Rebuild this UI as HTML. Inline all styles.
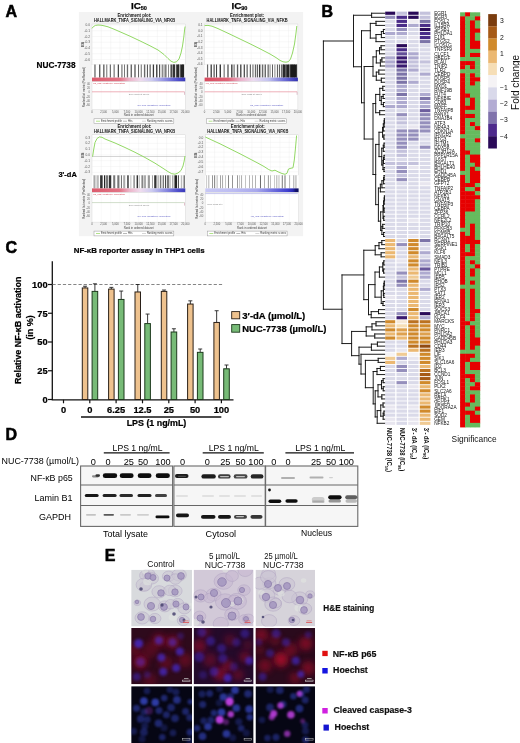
<!DOCTYPE html>
<html><head><meta charset="utf-8"><title>NF-kB figure</title>
<style>
html,body{margin:0;padding:0;background:#fff;width:520px;height:743px;overflow:hidden}
svg{display:block;font-family:'Liberation Sans', Arial, sans-serif}
</style></head><body>
<svg width="520" height="743" viewBox="0 0 520 743">
<defs>
<filter id="bl1" x="-20%" y="-50%" width="140%" height="200%"><feGaussianBlur stdDeviation="0.6"/></filter>
<filter id="bl2" x="-50%" y="-50%" width="200%" height="200%"><feGaussianBlur stdDeviation="1.6"/></filter>
<filter id="bl3" x="-50%" y="-50%" width="200%" height="200%"><feGaussianBlur stdDeviation="3"/></filter>
<filter id="bl15" x="-50%" y="-50%" width="200%" height="200%"><feGaussianBlur stdDeviation="1.1"/></filter>
<filter id="bl05" x="-20%" y="-20%" width="140%" height="140%"><feGaussianBlur stdDeviation="0.4"/></filter>
</defs>
<rect width="520" height="743" fill="#fff"/>
<text x="5.60" y="17.00" font-size="16" text-anchor="start" font-weight="bold" stroke="#000" stroke-width="0.55">A</text>
<text x="321.40" y="17.30" font-size="16" text-anchor="start" font-weight="bold" stroke="#000" stroke-width="0.55">B</text>
<text x="5.60" y="253.30" font-size="16" text-anchor="start" font-weight="bold" stroke="#000" stroke-width="0.55">C</text>
<text x="5.60" y="440.30" font-size="16" text-anchor="start" font-weight="bold" stroke="#000" stroke-width="0.55">D</text>
<text x="104.80" y="561.30" font-size="16" text-anchor="start" font-weight="bold" stroke="#000" stroke-width="0.55">E</text>
<g id="panelC">
<text x="139.20" y="253.40" font-size="8.1" text-anchor="middle" font-weight="bold" textLength="131" lengthAdjust="spacingAndGlyphs" stroke="#000" stroke-width="0.22">NF-κB reporter assay in THP1 cells</text>
<line x1="52.3" y1="261.2" x2="52.3" y2="400" stroke="#111" stroke-width="1.3"/>
<line x1="48" y1="399.50" x2="52.3" y2="399.50" stroke="#111" stroke-width="1.2"/>
<text x="47.60" y="402.80" font-size="9.3" text-anchor="end" font-weight="bold" stroke="#000" stroke-width="0.22">0</text>
<line x1="48" y1="370.75" x2="52.3" y2="370.75" stroke="#111" stroke-width="1.2"/>
<text x="47.60" y="374.05" font-size="9.3" text-anchor="end" font-weight="bold" stroke="#000" stroke-width="0.22">25</text>
<line x1="48" y1="342.00" x2="52.3" y2="342.00" stroke="#111" stroke-width="1.2"/>
<text x="47.60" y="345.30" font-size="9.3" text-anchor="end" font-weight="bold" stroke="#000" stroke-width="0.22">50</text>
<line x1="48" y1="313.25" x2="52.3" y2="313.25" stroke="#111" stroke-width="1.2"/>
<text x="47.60" y="316.55" font-size="9.3" text-anchor="end" font-weight="bold" stroke="#000" stroke-width="0.22">75</text>
<line x1="48" y1="284.50" x2="52.3" y2="284.50" stroke="#111" stroke-width="1.2"/>
<text x="47.60" y="287.80" font-size="9.3" text-anchor="end" font-weight="bold" stroke="#000" stroke-width="0.22">100</text>
<g transform="translate(21.3,330.3) rotate(-90)">
<text x="0.00" y="0.00" font-size="9" text-anchor="middle" font-weight="bold" textLength="107.5" lengthAdjust="spacingAndGlyphs" stroke="#000" stroke-width="0.22">Relative NF-κB activation</text>
</g>
<g transform="translate(33.2,327.6) rotate(-90)">
<text x="0.00" y="0.00" font-size="9" text-anchor="middle" font-weight="bold" stroke="#000" stroke-width="0.22">(in %)</text>
</g>
<line x1="51.7" y1="399.8" x2="233.5" y2="399.8" stroke="#111" stroke-width="1.3"/>
<line x1="63.5" y1="399.8" x2="63.5" y2="403.3" stroke="#111" stroke-width="1.2"/>
<text x="63.50" y="412.60" font-size="9.3" text-anchor="middle" font-weight="bold" stroke="#000" stroke-width="0.22">0</text>
<line x1="89.8" y1="399.8" x2="89.8" y2="403.3" stroke="#111" stroke-width="1.2"/>
<text x="89.80" y="412.60" font-size="9.3" text-anchor="middle" font-weight="bold" stroke="#000" stroke-width="0.22">0</text>
<line x1="116.1" y1="399.8" x2="116.1" y2="403.3" stroke="#111" stroke-width="1.2"/>
<text x="116.10" y="412.60" font-size="9.3" text-anchor="middle" font-weight="bold" stroke="#000" stroke-width="0.22">6.25</text>
<line x1="142.5" y1="399.8" x2="142.5" y2="403.3" stroke="#111" stroke-width="1.2"/>
<text x="142.50" y="412.60" font-size="9.3" text-anchor="middle" font-weight="bold" stroke="#000" stroke-width="0.22">12.5</text>
<line x1="168.8" y1="399.8" x2="168.8" y2="403.3" stroke="#111" stroke-width="1.2"/>
<text x="168.80" y="412.60" font-size="9.3" text-anchor="middle" font-weight="bold" stroke="#000" stroke-width="0.22">25</text>
<line x1="195.1" y1="399.8" x2="195.1" y2="403.3" stroke="#111" stroke-width="1.2"/>
<text x="195.10" y="412.60" font-size="9.3" text-anchor="middle" font-weight="bold" stroke="#000" stroke-width="0.22">50</text>
<line x1="221.4" y1="399.8" x2="221.4" y2="403.3" stroke="#111" stroke-width="1.2"/>
<text x="221.40" y="412.60" font-size="9.3" text-anchor="middle" font-weight="bold" stroke="#000" stroke-width="0.22">100</text>
<line x1="81" y1="417.0" x2="221.3" y2="417.0" stroke="#111" stroke-width="1.4"/>
<text x="156.50" y="426.30" font-size="8.9" text-anchor="middle" font-weight="bold" stroke="#000" stroke-width="0.22">LPS (1 ng/mL)</text>
<line x1="52.5" y1="284.5" x2="222.5" y2="284.5" stroke="#777" stroke-width="0.9" stroke-dasharray="3.2,2"/>
<line x1="85.05" y1="287.95" x2="85.05" y2="286.23" stroke="#222" stroke-width="0.9"/>
<line x1="83.05" y1="286.23" x2="87.05" y2="286.23" stroke="#222" stroke-width="0.9"/>
<line x1="94.90" y1="291.40" x2="94.90" y2="283.81" stroke="#222" stroke-width="0.9"/>
<line x1="92.90" y1="283.81" x2="96.90" y2="283.81" stroke="#222" stroke-width="0.9"/>
<rect x="82.30" y="287.95" width="5.5" height="111.55" fill="#eec28e" stroke="#2a2018" stroke-width="1"/>
<rect x="92.10" y="291.40" width="5.6" height="108.10" fill="#77bb77" stroke="#1d3a1d" stroke-width="1"/>
<line x1="111.35" y1="289.10" x2="111.35" y2="287.38" stroke="#222" stroke-width="0.9"/>
<line x1="109.35" y1="287.38" x2="113.35" y2="287.38" stroke="#222" stroke-width="0.9"/>
<line x1="121.20" y1="299.45" x2="121.20" y2="291.06" stroke="#222" stroke-width="0.9"/>
<line x1="119.20" y1="291.06" x2="123.20" y2="291.06" stroke="#222" stroke-width="0.9"/>
<rect x="108.60" y="289.10" width="5.5" height="110.40" fill="#eec28e" stroke="#2a2018" stroke-width="1"/>
<rect x="118.40" y="299.45" width="5.6" height="100.05" fill="#77bb77" stroke="#1d3a1d" stroke-width="1"/>
<line x1="137.75" y1="291.98" x2="137.75" y2="284.50" stroke="#222" stroke-width="0.9"/>
<line x1="135.75" y1="284.50" x2="139.75" y2="284.50" stroke="#222" stroke-width="0.9"/>
<line x1="147.60" y1="323.60" x2="147.60" y2="314.06" stroke="#222" stroke-width="0.9"/>
<line x1="145.60" y1="314.06" x2="149.60" y2="314.06" stroke="#222" stroke-width="0.9"/>
<rect x="135.00" y="291.98" width="5.5" height="107.52" fill="#eec28e" stroke="#2a2018" stroke-width="1"/>
<rect x="144.80" y="323.60" width="5.6" height="75.90" fill="#77bb77" stroke="#1d3a1d" stroke-width="1"/>
<line x1="164.05" y1="291.40" x2="164.05" y2="290.02" stroke="#222" stroke-width="0.9"/>
<line x1="162.05" y1="290.02" x2="166.05" y2="290.02" stroke="#222" stroke-width="0.9"/>
<line x1="173.90" y1="332.00" x2="173.90" y2="328.77" stroke="#222" stroke-width="0.9"/>
<line x1="171.90" y1="328.77" x2="175.90" y2="328.77" stroke="#222" stroke-width="0.9"/>
<rect x="161.30" y="291.40" width="5.5" height="108.10" fill="#eec28e" stroke="#2a2018" stroke-width="1"/>
<rect x="171.10" y="332.00" width="5.6" height="67.50" fill="#77bb77" stroke="#1d3a1d" stroke-width="1"/>
<line x1="190.35" y1="304.05" x2="190.35" y2="300.83" stroke="#222" stroke-width="0.9"/>
<line x1="188.35" y1="300.83" x2="192.35" y2="300.83" stroke="#222" stroke-width="0.9"/>
<line x1="200.20" y1="352.35" x2="200.20" y2="349.01" stroke="#222" stroke-width="0.9"/>
<line x1="198.20" y1="349.01" x2="202.20" y2="349.01" stroke="#222" stroke-width="0.9"/>
<rect x="187.60" y="304.05" width="5.5" height="95.45" fill="#eec28e" stroke="#2a2018" stroke-width="1"/>
<rect x="197.40" y="352.35" width="5.6" height="47.15" fill="#77bb77" stroke="#1d3a1d" stroke-width="1"/>
<line x1="216.65" y1="322.45" x2="216.65" y2="310.72" stroke="#222" stroke-width="0.9"/>
<line x1="214.65" y1="310.72" x2="218.65" y2="310.72" stroke="#222" stroke-width="0.9"/>
<line x1="226.50" y1="368.80" x2="226.50" y2="365.00" stroke="#222" stroke-width="0.9"/>
<line x1="224.50" y1="365.00" x2="228.50" y2="365.00" stroke="#222" stroke-width="0.9"/>
<rect x="213.90" y="322.45" width="5.5" height="77.05" fill="#eec28e" stroke="#2a2018" stroke-width="1"/>
<rect x="223.70" y="368.80" width="5.6" height="30.70" fill="#77bb77" stroke="#1d3a1d" stroke-width="1"/>
<rect x="231.7" y="311.6" width="8" height="7.2" fill="#eec28e" stroke="#2a2018" stroke-width="0.9"/>
<rect x="231.7" y="324.6" width="8" height="7.6" fill="#77bb77" stroke="#1d3a1d" stroke-width="0.9"/>
<text x="242.30" y="319.00" font-size="9.4" text-anchor="start" font-weight="bold" textLength="63" lengthAdjust="spacingAndGlyphs" stroke="#000" stroke-width="0.22">3′-dA (µmol/L)</text>
<text x="242.30" y="332.20" font-size="9.4" text-anchor="start" font-weight="bold" textLength="84" lengthAdjust="spacingAndGlyphs" stroke="#000" stroke-width="0.22">NUC-7738 (µmol/L)</text>
</g>
<g id="panelD">
<text x="1.60" y="463.60" font-size="8.8" text-anchor="start" textLength="77.3" lengthAdjust="spacingAndGlyphs" >NUC-7738 (µmol/L)</text>
<text x="51.60" y="481.00" font-size="8.8" text-anchor="middle" textLength="42.2" lengthAdjust="spacingAndGlyphs" >NF-κB p65</text>
<text x="53.60" y="500.60" font-size="8.8" text-anchor="middle" textLength="38" lengthAdjust="spacingAndGlyphs" >Lamin B1</text>
<text x="55.00" y="520.30" font-size="8.8" text-anchor="middle" textLength="32" lengthAdjust="spacingAndGlyphs" >GAPDH</text>
<rect x="80.6" y="466.0" width="92.00" height="60.40" fill="#f6f6f6" stroke="#6a6a6a" stroke-width="1.1"/>
<line x1="80.6" y1="485.0" x2="172.6" y2="485.0" stroke="#666" stroke-width="1.2"/>
<line x1="80.6" y1="505.5" x2="172.6" y2="505.5" stroke="#666" stroke-width="1.2"/>
<rect x="173.9" y="466.0" width="91.30" height="60.40" fill="#f6f6f6" stroke="#6a6a6a" stroke-width="1.1"/>
<line x1="173.9" y1="485.0" x2="265.2" y2="485.0" stroke="#666" stroke-width="1.2"/>
<line x1="173.9" y1="505.5" x2="265.2" y2="505.5" stroke="#666" stroke-width="1.2"/>
<rect x="265.6" y="466.0" width="92.20" height="60.40" fill="#f6f6f6" stroke="#6a6a6a" stroke-width="1.1"/>
<line x1="265.6" y1="485.0" x2="357.8" y2="485.0" stroke="#666" stroke-width="1.2"/>
<line x1="265.6" y1="505.5" x2="357.8" y2="505.5" stroke="#666" stroke-width="1.2"/>
<text x="93.30" y="464.70" font-size="9.2" text-anchor="middle" >0</text>
<text x="108.00" y="464.70" font-size="9.2" text-anchor="middle" >0</text>
<text x="128.80" y="464.70" font-size="9.2" text-anchor="middle" >25</text>
<text x="143.00" y="464.70" font-size="9.2" text-anchor="middle" >50</text>
<text x="163.00" y="464.70" font-size="9.2" text-anchor="middle" >100</text>
<text x="182.60" y="464.70" font-size="9.2" text-anchor="middle" >0</text>
<text x="207.30" y="464.70" font-size="9.2" text-anchor="middle" >0</text>
<text x="225.30" y="464.70" font-size="9.2" text-anchor="middle" >25</text>
<text x="240.50" y="464.70" font-size="9.2" text-anchor="middle" >50</text>
<text x="256.00" y="464.70" font-size="9.2" text-anchor="middle" >100</text>
<text x="273.75" y="464.70" font-size="9.2" text-anchor="middle" >0</text>
<text x="288.00" y="464.70" font-size="9.2" text-anchor="middle" >0</text>
<text x="316.00" y="464.70" font-size="9.2" text-anchor="middle" >25</text>
<text x="331.00" y="464.70" font-size="9.2" text-anchor="middle" >50</text>
<text x="346.30" y="464.70" font-size="9.2" text-anchor="middle" >100</text>
<text x="137.60" y="450.90" font-size="8.9" text-anchor="middle" textLength="50" lengthAdjust="spacingAndGlyphs" >LPS 1 ng/mL</text>
<line x1="103.8" y1="452.9" x2="169.6" y2="452.9" stroke="#111" stroke-width="1.1"/>
<text x="233.75" y="450.90" font-size="8.9" text-anchor="middle" textLength="50" lengthAdjust="spacingAndGlyphs" >LPS 1 ng/mL</text>
<line x1="202.7" y1="452.9" x2="263.8" y2="452.9" stroke="#111" stroke-width="1.1"/>
<text x="320.30" y="450.90" font-size="8.9" text-anchor="middle" textLength="50" lengthAdjust="spacingAndGlyphs" >LPS 1 ng/mL</text>
<line x1="285.4" y1="452.9" x2="354.0" y2="452.9" stroke="#111" stroke-width="1.1"/>
<text x="125.40" y="537.00" font-size="9" text-anchor="middle" textLength="45" lengthAdjust="spacingAndGlyphs" >Total lysate</text>
<text x="220.80" y="537.20" font-size="9.4" text-anchor="middle" textLength="30.5" lengthAdjust="spacingAndGlyphs" >Cytosol</text>
<text x="316.50" y="535.60" font-size="9" text-anchor="middle" textLength="31" lengthAdjust="spacingAndGlyphs" >Nucleus</text>
<rect x="92.00" y="475.20" width="7.00" height="2.20" rx="1.10" fill="#444" opacity="0.6" filter="url(#bl1)"/>
<rect x="95.50" y="474.25" width="4.50" height="2.50" rx="1.25" fill="#222" opacity="0.9" filter="url(#bl1)"/>
<rect x="102.80" y="473.30" width="14.40" height="4.80" rx="2.40" fill="#111" opacity="1.0" filter="url(#bl1)"/>
<rect x="119.70" y="473.30" width="13.90" height="4.80" rx="2.40" fill="#111" opacity="1.0" filter="url(#bl1)"/>
<rect x="137.70" y="473.30" width="13.80" height="4.80" rx="2.40" fill="#111" opacity="1.0" filter="url(#bl1)"/>
<rect x="155.70" y="473.30" width="14.20" height="4.80" rx="2.40" fill="#111" opacity="1.0" filter="url(#bl1)"/>
<rect x="84.80" y="493.90" width="13.80" height="3.00" rx="1.50" fill="#151515" opacity="1" filter="url(#bl1)"/>
<rect x="102.60" y="493.90" width="14.00" height="3.00" rx="1.50" fill="#151515" opacity="0.95" filter="url(#bl1)"/>
<rect x="119.50" y="493.90" width="13.50" height="3.00" rx="1.50" fill="#151515" opacity="0.9" filter="url(#bl1)"/>
<rect x="137.50" y="493.90" width="14.00" height="3.00" rx="1.50" fill="#151515" opacity="0.95" filter="url(#bl1)"/>
<rect x="155.00" y="493.90" width="12.00" height="3.00" rx="1.50" fill="#151515" opacity="0.8" filter="url(#bl1)"/>
<rect x="86.00" y="513.90" width="10.00" height="1.80" rx="0.90" fill="#666" opacity="0.35" filter="url(#bl1)"/>
<rect x="103.50" y="513.90" width="10.50" height="1.80" rx="0.90" fill="#333" opacity="0.8" filter="url(#bl1)"/>
<rect x="120.00" y="513.90" width="11.00" height="1.80" rx="0.90" fill="#777" opacity="0.35" filter="url(#bl1)"/>
<rect x="137.00" y="513.90" width="12.00" height="1.80" rx="0.90" fill="#777" opacity="0.3" filter="url(#bl1)"/>
<rect x="155.50" y="515.50" width="14.00" height="2.80" rx="1.40" fill="#0d0d0d" opacity="1.0" filter="url(#bl1)"/>
<rect x="175.00" y="474.00" width="13.50" height="4.00" rx="2.00" fill="#1a1a1a" opacity="1.0" filter="url(#bl1)"/>
<rect x="178.00" y="475.70" width="8.00" height="1.20" rx="0.60" fill="#666" opacity="0.6" filter="url(#bl1)"/>
<rect x="201.40" y="474.20" width="14.40" height="4.40" rx="2.20" fill="#1a1a1a" opacity="1" filter="url(#bl1)"/>
<rect x="218.00" y="474.20" width="12.60" height="4.40" rx="2.20" fill="#1a1a1a" opacity="0.85" filter="url(#bl1)"/>
<rect x="233.70" y="474.20" width="13.80" height="4.40" rx="2.20" fill="#1a1a1a" opacity="0.8" filter="url(#bl1)"/>
<rect x="250.70" y="474.20" width="12.70" height="4.40" rx="2.20" fill="#1a1a1a" opacity="0.95" filter="url(#bl1)"/>
<rect x="220.00" y="475.95" width="9.00" height="1.30" rx="0.65" fill="#ddd" opacity="0.8" filter="url(#bl1)"/>
<rect x="236.00" y="475.95" width="9.00" height="1.30" rx="0.65" fill="#ddd" opacity="0.8" filter="url(#bl1)"/>
<rect x="176.00" y="495.25" width="12.00" height="1.50" rx="0.75" fill="#bbb" opacity="0.45" filter="url(#bl1)"/>
<rect x="202.00" y="495.25" width="12.00" height="1.50" rx="0.75" fill="#bbb" opacity="0.45" filter="url(#bl1)"/>
<rect x="219.00" y="495.25" width="11.00" height="1.50" rx="0.75" fill="#bbb" opacity="0.45" filter="url(#bl1)"/>
<rect x="234.00" y="495.25" width="12.00" height="1.50" rx="0.75" fill="#bbb" opacity="0.45" filter="url(#bl1)"/>
<rect x="251.00" y="495.25" width="11.00" height="1.50" rx="0.75" fill="#bbb" opacity="0.45" filter="url(#bl1)"/>
<rect x="176.00" y="513.60" width="13.00" height="3.60" rx="1.80" fill="#151515" opacity="1.0" filter="url(#bl1)"/>
<rect x="201.00" y="514.90" width="14.50" height="3.80" rx="1.90" fill="#151515" opacity="1" filter="url(#bl1)"/>
<rect x="218.00" y="514.90" width="13.00" height="3.80" rx="1.90" fill="#151515" opacity="1" filter="url(#bl1)"/>
<rect x="234.00" y="514.90" width="13.00" height="3.80" rx="1.90" fill="#151515" opacity="0.8" filter="url(#bl1)"/>
<rect x="250.50" y="514.90" width="12.00" height="3.80" rx="1.90" fill="#151515" opacity="0.85" filter="url(#bl1)"/>
<rect x="236.00" y="515.90" width="8.00" height="1.40" rx="0.70" fill="#ddd" opacity="0.8" filter="url(#bl1)"/>
<rect x="281.00" y="477.00" width="14.00" height="2.00" rx="1.00" fill="#777" opacity="0.55" filter="url(#bl1)"/>
<rect x="309.50" y="476.60" width="14.00" height="2.00" rx="1.00" fill="#777" opacity="0.55" filter="url(#bl1)"/>
<rect x="329.00" y="476.90" width="4.00" height="1.40" rx="0.70" fill="#999" opacity="0.4" filter="url(#bl1)"/>
<circle cx="269.5" cy="490" r="1.4" fill="#111"/>
<rect x="268.50" y="499.50" width="12.80" height="3.60" rx="1.80" fill="#111" opacity="1.0" filter="url(#bl1)"/>
<rect x="285.40" y="499.20" width="12.30" height="3.60" rx="1.80" fill="#111" opacity="1.0" filter="url(#bl1)"/>
<rect x="311.80" y="497.10" width="12.70" height="5.00" rx="2.50" fill="#aaa" opacity="0.55" filter="url(#bl1)"/>
<rect x="312.00" y="500.60" width="12.50" height="2.40" rx="1.20" fill="#888" opacity="0.5" filter="url(#bl1)"/>
<rect x="328.20" y="495.20" width="13.40" height="4.20" rx="2.10" fill="#0d0d0d" opacity="1.0" filter="url(#bl1)"/>
<rect x="328.50" y="499.50" width="12.50" height="3.00" rx="1.50" fill="#555" opacity="0.6" filter="url(#bl1)"/>
<rect x="345.20" y="495.30" width="12.00" height="4.00" rx="2.00" fill="#444" opacity="0.85" filter="url(#bl1)"/>
<rect x="345.50" y="499.30" width="11.50" height="3.40" rx="1.70" fill="#888" opacity="0.55" filter="url(#bl1)"/>
</g>
<g id="panelA">
<rect x="78.9" y="12" width="224.2" height="224.2" fill="#f3f3f3"/>
<text x="140.80" y="8.60" font-size="9.9" text-anchor="end" font-weight="bold" textLength="9.9" lengthAdjust="spacingAndGlyphs" stroke="#000" stroke-width="0.25">IC</text>
<text x="140.70" y="9.80" font-size="5.6" text-anchor="start" font-weight="bold" stroke="#000" stroke-width="0.15">50</text>
<text x="241.30" y="8.60" font-size="9.9" text-anchor="end" font-weight="bold" textLength="9.9" lengthAdjust="spacingAndGlyphs" stroke="#000" stroke-width="0.25">IC</text>
<text x="241.20" y="9.80" font-size="5.6" text-anchor="start" font-weight="bold" stroke="#000" stroke-width="0.15">90</text>
<text x="75.50" y="68.20" font-size="9" text-anchor="end" font-weight="bold" textLength="39" lengthAdjust="spacingAndGlyphs" stroke="#000" stroke-width="0.2">NUC-7738</text>
<text x="76.80" y="176.70" font-size="8" text-anchor="end" font-weight="bold" textLength="18.4" lengthAdjust="spacingAndGlyphs" stroke="#000" stroke-width="0.2">3'-dA</text>
<text x="134.50" y="16.50" font-size="4.6" text-anchor="middle" font-weight="bold" fill="#111" textLength="34" lengthAdjust="spacingAndGlyphs" >Enrichment plot:</text>
<text x="134.50" y="21.60" font-size="4.6" text-anchor="middle" font-weight="bold" fill="#111" textLength="81" lengthAdjust="spacingAndGlyphs" >HALLMARK_TNFA_SIGNALING_VIA_NFKB</text>
<rect x="92.0" y="24.0" width="93.30" height="40.80" fill="#fff" stroke="#d0d0d0" stroke-width="0.4"/>
<line x1="101.33" y1="24.0" x2="101.33" y2="64.8" stroke="#ececec" stroke-width="0.35"/>
<line x1="110.66" y1="24.0" x2="110.66" y2="64.8" stroke="#ececec" stroke-width="0.35"/>
<line x1="119.99" y1="24.0" x2="119.99" y2="64.8" stroke="#ececec" stroke-width="0.35"/>
<line x1="129.32" y1="24.0" x2="129.32" y2="64.8" stroke="#ececec" stroke-width="0.35"/>
<line x1="138.65" y1="24.0" x2="138.65" y2="64.8" stroke="#ececec" stroke-width="0.35"/>
<line x1="147.98" y1="24.0" x2="147.98" y2="64.8" stroke="#ececec" stroke-width="0.35"/>
<line x1="157.31" y1="24.0" x2="157.31" y2="64.8" stroke="#ececec" stroke-width="0.35"/>
<line x1="166.64" y1="24.0" x2="166.64" y2="64.8" stroke="#ececec" stroke-width="0.35"/>
<line x1="175.97" y1="24.0" x2="175.97" y2="64.8" stroke="#ececec" stroke-width="0.35"/>
<line x1="92.0" y1="25.00" x2="185.3" y2="25.00" stroke="#ececec" stroke-width="0.35"/>
<text x="90.00" y="26.10" font-size="3.2" text-anchor="end" fill="#555" >0.0</text>
<line x1="92.0" y1="30.75" x2="185.3" y2="30.75" stroke="#ececec" stroke-width="0.35"/>
<text x="90.00" y="31.85" font-size="3.2" text-anchor="end" fill="#555" >-0.1</text>
<line x1="92.0" y1="36.50" x2="185.3" y2="36.50" stroke="#ececec" stroke-width="0.35"/>
<text x="90.00" y="37.60" font-size="3.2" text-anchor="end" fill="#555" >-0.2</text>
<line x1="92.0" y1="42.25" x2="185.3" y2="42.25" stroke="#ececec" stroke-width="0.35"/>
<text x="90.00" y="43.35" font-size="3.2" text-anchor="end" fill="#555" >-0.3</text>
<line x1="92.0" y1="48.00" x2="185.3" y2="48.00" stroke="#ececec" stroke-width="0.35"/>
<text x="90.00" y="49.10" font-size="3.2" text-anchor="end" fill="#555" >-0.4</text>
<line x1="92.0" y1="53.75" x2="185.3" y2="53.75" stroke="#ececec" stroke-width="0.35"/>
<text x="90.00" y="54.85" font-size="3.2" text-anchor="end" fill="#555" >-0.5</text>
<line x1="92.0" y1="59.50" x2="185.3" y2="59.50" stroke="#ececec" stroke-width="0.35"/>
<text x="90.00" y="60.60" font-size="3.2" text-anchor="end" fill="#555" >-0.6</text>
<g transform="translate(82.5,44.4) rotate(-90)">
<text x="0.00" y="1.50" font-size="4" text-anchor="middle" font-weight="bold" fill="#333" >ES</text>
</g>
<polyline points="92.00,28.40 93.50,26.50 95.50,25.40 98.00,25.00 101.00,25.20 104.00,25.80 108.00,26.80 114.00,29.20 120.00,31.80 130.00,36.20 140.00,40.90 150.00,45.80 158.00,50.00 164.00,54.50 168.00,58.50 171.00,61.20 173.80,62.40 176.50,61.80 179.00,59.00 181.00,53.00 182.50,46.00 183.80,37.00 184.70,29.00 185.10,26.50" fill="none" stroke="#8cd65c" stroke-width="0.95" stroke-linejoin="round"/>
<rect x="92.0" y="64.50" width="93.30" height="13.10" fill="#fff"/>
<rect x="94.38" y="64.50" width="1.18" height="13.10" fill="#5a5a5a"/>
<rect x="99.20" y="64.50" width="1.13" height="13.10" fill="#3a3a3a"/>
<rect x="103.09" y="64.50" width="1.44" height="13.10" fill="#6a6a6a"/>
<rect x="106.31" y="64.50" width="0.96" height="13.10" fill="#6a6a6a"/>
<rect x="109.77" y="64.50" width="1.18" height="13.10" fill="#6a6a6a"/>
<rect x="113.65" y="64.50" width="0.91" height="13.10" fill="#4a4a4a"/>
<rect x="117.75" y="64.50" width="1.17" height="13.10" fill="#3a3a3a"/>
<rect x="121.52" y="64.50" width="0.84" height="13.10" fill="#3a3a3a"/>
<rect x="124.01" y="64.50" width="0.82" height="13.10" fill="#5a5a5a"/>
<rect x="126.83" y="64.50" width="1.30" height="13.10" fill="#6a6a6a"/>
<rect x="130.58" y="64.50" width="1.44" height="13.10" fill="#6a6a6a"/>
<rect x="134.39" y="64.50" width="1.20" height="13.10" fill="#4a4a4a"/>
<rect x="138.16" y="64.50" width="0.87" height="13.10" fill="#4a4a4a"/>
<rect x="140.75" y="64.50" width="0.98" height="13.10" fill="#6a6a6a"/>
<rect x="143.91" y="64.50" width="1.40" height="13.10" fill="#6a6a6a"/>
<rect x="146.91" y="64.50" width="1.07" height="13.10" fill="#5a5a5a"/>
<rect x="149.57" y="64.50" width="1.09" height="13.10" fill="#4a4a4a"/>
<rect x="152.78" y="64.50" width="1.28" height="13.10" fill="#3a3a3a"/>
<rect x="156.01" y="64.50" width="1.49" height="13.10" fill="#4a4a4a"/>
<rect x="159.13" y="64.50" width="1.03" height="13.10" fill="#3a3a3a"/>
<rect x="161.75" y="64.50" width="0.95" height="13.10" fill="#5a5a5a"/>
<rect x="163.64" y="64.50" width="0.84" height="13.10" fill="#6a6a6a"/>
<rect x="165.15" y="64.50" width="1.36" height="13.10" fill="#6a6a6a"/>
<rect x="168.20" y="64.50" width="0.81" height="13.10" fill="#6a6a6a"/>
<rect x="170.48" y="64.50" width="1.41" height="13.10" fill="#3a3a3a"/>
<rect x="173.10" y="64.50" width="1.33" height="13.10" fill="#6a6a6a"/>
<rect x="175.74" y="64.50" width="1.03" height="13.10" fill="#5a5a5a"/>
<rect x="177.79" y="64.50" width="1.50" height="13.10" fill="#5a5a5a"/>
<rect x="179.74" y="64.50" width="0.88" height="13.10" fill="#3a3a3a"/>
<rect x="182.05" y="64.50" width="1.48" height="13.10" fill="#5a5a5a"/>
<rect x="184.56" y="64.50" width="0.04" height="13.10" fill="#3a3a3a"/>
<rect x="172.50" y="64.50" width="2.50" height="13.10" fill="#333"/>
<rect x="176.50" y="64.50" width="2.50" height="13.10" fill="#2a2a2a"/>
<rect x="180.50" y="64.50" width="3.60" height="13.10" fill="#222"/>
<defs><linearGradient id="g9212" x1="0" x2="1" y1="0" y2="0"><stop offset="0" stop-color="#dc5a6c"/><stop offset="0.3" stop-color="#e27486"/><stop offset="0.4" stop-color="#ecb4c8"/><stop offset="0.52" stop-color="#efdcee"/><stop offset="0.64" stop-color="#cccbf0"/><stop offset="0.8" stop-color="#8888e0"/><stop offset="0.92" stop-color="#5050cc"/><stop offset="1" stop-color="#3838b8"/></linearGradient></defs>
<rect x="92.0" y="77.60" width="93.30" height="3.90" fill="url(#g9212)"/>
<rect x="92.0" y="81.80" width="93.30" height="28.00" fill="#fff" stroke="#d0d0d0" stroke-width="0.4"/>
<line x1="101.33" y1="81.80" x2="101.33" y2="109.8" stroke="#f0f0f0" stroke-width="0.35"/>
<line x1="110.66" y1="81.80" x2="110.66" y2="109.8" stroke="#f0f0f0" stroke-width="0.35"/>
<line x1="119.99" y1="81.80" x2="119.99" y2="109.8" stroke="#f0f0f0" stroke-width="0.35"/>
<line x1="129.32" y1="81.80" x2="129.32" y2="109.8" stroke="#f0f0f0" stroke-width="0.35"/>
<line x1="138.65" y1="81.80" x2="138.65" y2="109.8" stroke="#f0f0f0" stroke-width="0.35"/>
<line x1="147.98" y1="81.80" x2="147.98" y2="109.8" stroke="#f0f0f0" stroke-width="0.35"/>
<line x1="157.31" y1="81.80" x2="157.31" y2="109.8" stroke="#f0f0f0" stroke-width="0.35"/>
<line x1="166.64" y1="81.80" x2="166.64" y2="109.8" stroke="#f0f0f0" stroke-width="0.35"/>
<line x1="175.97" y1="81.80" x2="175.97" y2="109.8" stroke="#f0f0f0" stroke-width="0.35"/>
<line x1="92.0" y1="91.80" x2="184.50" y2="91.80" stroke="#e07a8a" stroke-width="0.6"/>
<line x1="184.50" y1="91.80" x2="184.50" y2="94.80" stroke="#c9a" stroke-width="0.6"/>
<text x="93.00" y="83.70" font-size="2.4" text-anchor="start" fill="#d04050" >'na_pos' (positively correlated)</text>
<text x="154.00" y="106.30" font-size="2.4" text-anchor="middle" fill="#5050c0" >'na_neg' (negatively correlated)</text>
<text x="139.00" y="95.30" font-size="2.3" text-anchor="middle" fill="#888" >Zero cross at 18091</text>
<text x="90.00" y="84.80" font-size="2.8" text-anchor="end" fill="#666" >40</text>
<text x="90.00" y="89.10" font-size="2.8" text-anchor="end" fill="#666" >20</text>
<text x="90.00" y="93.40" font-size="2.8" text-anchor="end" fill="#666" >0</text>
<text x="90.00" y="97.70" font-size="2.8" text-anchor="end" fill="#666" >-20</text>
<text x="90.00" y="102.00" font-size="2.8" text-anchor="end" fill="#666" >-40</text>
<text x="90.00" y="106.30" font-size="2.8" text-anchor="end" fill="#666" >-60</text>
<g transform="translate(83.7,87.15) rotate(-90)">
<text x="0.00" y="1.00" font-size="3.0" text-anchor="middle" fill="#444" textLength="40" lengthAdjust="spacingAndGlyphs" >Ranked list metric (PreRanked)</text>
</g>
<text x="92.00" y="112.60" font-size="2.7" text-anchor="middle" fill="#555" >0</text>
<text x="103.66" y="112.60" font-size="2.7" text-anchor="middle" fill="#555" >2,500</text>
<text x="115.33" y="112.60" font-size="2.7" text-anchor="middle" fill="#555" >5,000</text>
<text x="126.99" y="112.60" font-size="2.7" text-anchor="middle" fill="#555" >7,500</text>
<text x="138.65" y="112.60" font-size="2.7" text-anchor="middle" fill="#555" >10,000</text>
<text x="150.31" y="112.60" font-size="2.7" text-anchor="middle" fill="#555" >12,500</text>
<text x="161.98" y="112.60" font-size="2.7" text-anchor="middle" fill="#555" >15,000</text>
<text x="173.64" y="112.60" font-size="2.7" text-anchor="middle" fill="#555" >17,500</text>
<text x="185.30" y="112.60" font-size="2.7" text-anchor="middle" fill="#555" >20,000</text>
<text x="138.65" y="116.40" font-size="3.3" text-anchor="middle" fill="#444" textLength="30" lengthAdjust="spacingAndGlyphs" >Rank in ordered dataset</text>
<rect x="94.00" y="118.80" width="79.80" height="4.8" fill="#fff" stroke="#999" stroke-width="0.5"/>
<line x1="96.00" y1="121.20" x2="100.00" y2="121.20" stroke="#7ccf3a" stroke-width="0.6"/>
<text x="101.00" y="122.10" font-size="2.6" text-anchor="start" fill="#333" >Enrichment profile</text>
<line x1="123.00" y1="121.20" x2="127.00" y2="121.20" stroke="#888" stroke-width="0.6"/>
<text x="128.00" y="122.10" font-size="2.6" text-anchor="start" fill="#333" >Hits</text>
<line x1="142.00" y1="121.20" x2="146.00" y2="121.20" stroke="#bbb" stroke-width="0.6"/>
<text x="147.00" y="122.10" font-size="2.6" text-anchor="start" fill="#333" >Ranking metric scores</text>
<text x="247.10" y="16.50" font-size="4.6" text-anchor="middle" font-weight="bold" fill="#111" textLength="34" lengthAdjust="spacingAndGlyphs" >Enrichment plot:</text>
<text x="247.10" y="21.60" font-size="4.6" text-anchor="middle" font-weight="bold" fill="#111" textLength="81" lengthAdjust="spacingAndGlyphs" >HALLMARK_TNFA_SIGNALING_VIA_NFKB</text>
<rect x="204.6" y="24.0" width="93.30" height="40.80" fill="#fff" stroke="#d0d0d0" stroke-width="0.4"/>
<line x1="213.93" y1="24.0" x2="213.93" y2="64.8" stroke="#ececec" stroke-width="0.35"/>
<line x1="223.26" y1="24.0" x2="223.26" y2="64.8" stroke="#ececec" stroke-width="0.35"/>
<line x1="232.59" y1="24.0" x2="232.59" y2="64.8" stroke="#ececec" stroke-width="0.35"/>
<line x1="241.92" y1="24.0" x2="241.92" y2="64.8" stroke="#ececec" stroke-width="0.35"/>
<line x1="251.25" y1="24.0" x2="251.25" y2="64.8" stroke="#ececec" stroke-width="0.35"/>
<line x1="260.58" y1="24.0" x2="260.58" y2="64.8" stroke="#ececec" stroke-width="0.35"/>
<line x1="269.91" y1="24.0" x2="269.91" y2="64.8" stroke="#ececec" stroke-width="0.35"/>
<line x1="279.24" y1="24.0" x2="279.24" y2="64.8" stroke="#ececec" stroke-width="0.35"/>
<line x1="288.57" y1="24.0" x2="288.57" y2="64.8" stroke="#ececec" stroke-width="0.35"/>
<line x1="204.6" y1="25.00" x2="297.9" y2="25.00" stroke="#ececec" stroke-width="0.35"/>
<text x="202.60" y="26.10" font-size="3.2" text-anchor="end" fill="#555" >0.1</text>
<line x1="204.6" y1="30.60" x2="297.9" y2="30.60" stroke="#ececec" stroke-width="0.35"/>
<text x="202.60" y="31.70" font-size="3.2" text-anchor="end" fill="#555" >0.0</text>
<line x1="204.6" y1="36.20" x2="297.9" y2="36.20" stroke="#ececec" stroke-width="0.35"/>
<text x="202.60" y="37.30" font-size="3.2" text-anchor="end" fill="#555" >-0.1</text>
<line x1="204.6" y1="41.80" x2="297.9" y2="41.80" stroke="#ececec" stroke-width="0.35"/>
<text x="202.60" y="42.90" font-size="3.2" text-anchor="end" fill="#555" >-0.2</text>
<line x1="204.6" y1="47.40" x2="297.9" y2="47.40" stroke="#ececec" stroke-width="0.35"/>
<text x="202.60" y="48.50" font-size="3.2" text-anchor="end" fill="#555" >-0.3</text>
<line x1="204.6" y1="53.00" x2="297.9" y2="53.00" stroke="#ececec" stroke-width="0.35"/>
<text x="202.60" y="54.10" font-size="3.2" text-anchor="end" fill="#555" >-0.4</text>
<line x1="204.6" y1="58.60" x2="297.9" y2="58.60" stroke="#ececec" stroke-width="0.35"/>
<text x="202.60" y="59.70" font-size="3.2" text-anchor="end" fill="#555" >-0.5</text>
<line x1="204.6" y1="64.20" x2="297.9" y2="64.20" stroke="#ececec" stroke-width="0.35"/>
<text x="202.60" y="65.30" font-size="3.2" text-anchor="end" fill="#555" >-0.6</text>
<g transform="translate(195.1,44.4) rotate(-90)">
<text x="0.00" y="1.50" font-size="4" text-anchor="middle" font-weight="bold" fill="#333" >ES</text>
</g>
<polyline points="204.60,25.60 208.00,25.40 212.00,26.20 218.00,28.60 230.00,34.20 240.00,39.00 250.00,43.80 260.00,48.80 270.00,54.00 276.00,57.60 280.00,60.40 283.00,61.80 286.00,62.20 288.50,61.60 290.50,59.00 292.50,53.00 294.50,44.00 296.00,33.00 296.80,26.00" fill="none" stroke="#8cd65c" stroke-width="0.95" stroke-linejoin="round"/>
<rect x="204.6" y="64.50" width="93.30" height="13.10" fill="#fff"/>
<rect x="206.97" y="64.50" width="1.19" height="13.10" fill="#6a6a6a"/>
<rect x="210.52" y="64.50" width="1.40" height="13.10" fill="#4a4a4a"/>
<rect x="213.53" y="64.50" width="1.16" height="13.10" fill="#4a4a4a"/>
<rect x="216.05" y="64.50" width="1.01" height="13.10" fill="#3a3a3a"/>
<rect x="219.58" y="64.50" width="1.42" height="13.10" fill="#3a3a3a"/>
<rect x="223.61" y="64.50" width="1.08" height="13.10" fill="#6a6a6a"/>
<rect x="227.38" y="64.50" width="1.23" height="13.10" fill="#4a4a4a"/>
<rect x="231.13" y="64.50" width="1.38" height="13.10" fill="#3a3a3a"/>
<rect x="233.62" y="64.50" width="0.93" height="13.10" fill="#4a4a4a"/>
<rect x="236.87" y="64.50" width="1.34" height="13.10" fill="#5a5a5a"/>
<rect x="240.09" y="64.50" width="1.39" height="13.10" fill="#4a4a4a"/>
<rect x="243.71" y="64.50" width="1.15" height="13.10" fill="#3a3a3a"/>
<rect x="246.62" y="64.50" width="0.99" height="13.10" fill="#3a3a3a"/>
<rect x="249.81" y="64.50" width="1.02" height="13.10" fill="#4a4a4a"/>
<rect x="252.56" y="64.50" width="0.82" height="13.10" fill="#3a3a3a"/>
<rect x="254.85" y="64.50" width="1.39" height="13.10" fill="#6a6a6a"/>
<rect x="257.07" y="64.50" width="0.81" height="13.10" fill="#3a3a3a"/>
<rect x="258.94" y="64.50" width="1.45" height="13.10" fill="#3a3a3a"/>
<rect x="261.83" y="64.50" width="1.49" height="13.10" fill="#6a6a6a"/>
<rect x="264.62" y="64.50" width="1.20" height="13.10" fill="#4a4a4a"/>
<rect x="267.62" y="64.50" width="0.99" height="13.10" fill="#3a3a3a"/>
<rect x="269.65" y="64.50" width="0.81" height="13.10" fill="#6a6a6a"/>
<rect x="272.12" y="64.50" width="0.88" height="13.10" fill="#4a4a4a"/>
<rect x="274.52" y="64.50" width="0.81" height="13.10" fill="#6a6a6a"/>
<rect x="276.92" y="64.50" width="0.92" height="13.10" fill="#4a4a4a"/>
<rect x="278.93" y="64.50" width="0.93" height="13.10" fill="#4a4a4a"/>
<rect x="280.88" y="64.50" width="1.07" height="13.10" fill="#6a6a6a"/>
<rect x="282.95" y="64.50" width="0.95" height="13.10" fill="#5a5a5a"/>
<rect x="285.37" y="64.50" width="1.48" height="13.10" fill="#5a5a5a"/>
<rect x="288.42" y="64.50" width="0.81" height="13.10" fill="#4a4a4a"/>
<rect x="290.10" y="64.50" width="1.40" height="13.10" fill="#3a3a3a"/>
<rect x="291.97" y="64.50" width="0.90" height="13.10" fill="#6a6a6a"/>
<rect x="293.55" y="64.50" width="1.34" height="13.10" fill="#5a5a5a"/>
<rect x="296.12" y="64.50" width="1.07" height="13.10" fill="#3a3a3a"/>
<rect x="282.50" y="64.50" width="3.00" height="13.10" fill="#2a2a2a"/>
<rect x="286.50" y="64.50" width="3.00" height="13.10" fill="#222"/>
<rect x="290.50" y="64.50" width="6.00" height="13.10" fill="#1a1a1a"/>
<defs><linearGradient id="g20412" x1="0" x2="1" y1="0" y2="0"><stop offset="0" stop-color="#d84a5e"/><stop offset="0.25" stop-color="#e06478"/><stop offset="0.38" stop-color="#eab0c8"/><stop offset="0.52" stop-color="#ecdcf0"/><stop offset="0.68" stop-color="#c4c4f0"/><stop offset="0.85" stop-color="#7070d8"/><stop offset="1" stop-color="#3030b0"/></linearGradient></defs>
<rect x="204.6" y="77.60" width="93.30" height="3.90" fill="url(#g20412)"/>
<rect x="204.6" y="81.80" width="93.30" height="28.00" fill="#fff" stroke="#d0d0d0" stroke-width="0.4"/>
<line x1="213.93" y1="81.80" x2="213.93" y2="109.8" stroke="#f0f0f0" stroke-width="0.35"/>
<line x1="223.26" y1="81.80" x2="223.26" y2="109.8" stroke="#f0f0f0" stroke-width="0.35"/>
<line x1="232.59" y1="81.80" x2="232.59" y2="109.8" stroke="#f0f0f0" stroke-width="0.35"/>
<line x1="241.92" y1="81.80" x2="241.92" y2="109.8" stroke="#f0f0f0" stroke-width="0.35"/>
<line x1="251.25" y1="81.80" x2="251.25" y2="109.8" stroke="#f0f0f0" stroke-width="0.35"/>
<line x1="260.58" y1="81.80" x2="260.58" y2="109.8" stroke="#f0f0f0" stroke-width="0.35"/>
<line x1="269.91" y1="81.80" x2="269.91" y2="109.8" stroke="#f0f0f0" stroke-width="0.35"/>
<line x1="279.24" y1="81.80" x2="279.24" y2="109.8" stroke="#f0f0f0" stroke-width="0.35"/>
<line x1="288.57" y1="81.80" x2="288.57" y2="109.8" stroke="#f0f0f0" stroke-width="0.35"/>
<line x1="204.6" y1="91.80" x2="297.10" y2="91.80" stroke="#e07a8a" stroke-width="0.6"/>
<line x1="297.10" y1="91.80" x2="297.10" y2="94.80" stroke="#c9a" stroke-width="0.6"/>
<text x="205.60" y="83.70" font-size="2.4" text-anchor="start" fill="#d04050" >'na_pos' (positively correlated)</text>
<text x="266.60" y="106.30" font-size="2.4" text-anchor="middle" fill="#5050c0" >'na_neg' (negatively correlated)</text>
<text x="251.60" y="95.30" font-size="2.3" text-anchor="middle" fill="#888" >Zero cross at 18091</text>
<text x="202.60" y="84.80" font-size="2.8" text-anchor="end" fill="#666" >40</text>
<text x="202.60" y="89.10" font-size="2.8" text-anchor="end" fill="#666" >20</text>
<text x="202.60" y="93.40" font-size="2.8" text-anchor="end" fill="#666" >0</text>
<text x="202.60" y="97.70" font-size="2.8" text-anchor="end" fill="#666" >-20</text>
<text x="202.60" y="102.00" font-size="2.8" text-anchor="end" fill="#666" >-40</text>
<text x="202.60" y="106.30" font-size="2.8" text-anchor="end" fill="#666" >-60</text>
<g transform="translate(196.29999999999998,87.15) rotate(-90)">
<text x="0.00" y="1.00" font-size="3.0" text-anchor="middle" fill="#444" textLength="40" lengthAdjust="spacingAndGlyphs" >Ranked list metric (PreRanked)</text>
</g>
<text x="204.60" y="112.60" font-size="2.7" text-anchor="middle" fill="#555" >0</text>
<text x="216.26" y="112.60" font-size="2.7" text-anchor="middle" fill="#555" >2,500</text>
<text x="227.92" y="112.60" font-size="2.7" text-anchor="middle" fill="#555" >5,000</text>
<text x="239.59" y="112.60" font-size="2.7" text-anchor="middle" fill="#555" >7,500</text>
<text x="251.25" y="112.60" font-size="2.7" text-anchor="middle" fill="#555" >10,000</text>
<text x="262.91" y="112.60" font-size="2.7" text-anchor="middle" fill="#555" >12,500</text>
<text x="274.57" y="112.60" font-size="2.7" text-anchor="middle" fill="#555" >15,000</text>
<text x="286.24" y="112.60" font-size="2.7" text-anchor="middle" fill="#555" >17,500</text>
<text x="297.90" y="112.60" font-size="2.7" text-anchor="middle" fill="#555" >20,000</text>
<text x="251.25" y="116.40" font-size="3.3" text-anchor="middle" fill="#444" textLength="30" lengthAdjust="spacingAndGlyphs" >Rank in ordered dataset</text>
<rect x="206.60" y="118.80" width="79.80" height="4.8" fill="#fff" stroke="#999" stroke-width="0.5"/>
<line x1="208.60" y1="121.20" x2="212.60" y2="121.20" stroke="#7ccf3a" stroke-width="0.6"/>
<text x="213.60" y="122.10" font-size="2.6" text-anchor="start" fill="#333" >Enrichment profile</text>
<line x1="235.60" y1="121.20" x2="239.60" y2="121.20" stroke="#888" stroke-width="0.6"/>
<text x="240.60" y="122.10" font-size="2.6" text-anchor="start" fill="#333" >Hits</text>
<line x1="254.60" y1="121.20" x2="258.60" y2="121.20" stroke="#bbb" stroke-width="0.6"/>
<text x="259.60" y="122.10" font-size="2.6" text-anchor="start" fill="#333" >Ranking metric scores</text>
<text x="134.50" y="128.20" font-size="4.6" text-anchor="middle" font-weight="bold" fill="#111" textLength="34" lengthAdjust="spacingAndGlyphs" >Enrichment plot:</text>
<text x="134.50" y="133.30" font-size="4.6" text-anchor="middle" font-weight="bold" fill="#111" textLength="81" lengthAdjust="spacingAndGlyphs" >HALLMARK_TNFA_SIGNALING_VIA_NFKB</text>
<rect x="92.0" y="134.8" width="93.30" height="40.80" fill="#fff" stroke="#d0d0d0" stroke-width="0.4"/>
<line x1="101.33" y1="134.8" x2="101.33" y2="175.6" stroke="#ececec" stroke-width="0.35"/>
<line x1="110.66" y1="134.8" x2="110.66" y2="175.6" stroke="#ececec" stroke-width="0.35"/>
<line x1="119.99" y1="134.8" x2="119.99" y2="175.6" stroke="#ececec" stroke-width="0.35"/>
<line x1="129.32" y1="134.8" x2="129.32" y2="175.6" stroke="#ececec" stroke-width="0.35"/>
<line x1="138.65" y1="134.8" x2="138.65" y2="175.6" stroke="#ececec" stroke-width="0.35"/>
<line x1="147.98" y1="134.8" x2="147.98" y2="175.6" stroke="#ececec" stroke-width="0.35"/>
<line x1="157.31" y1="134.8" x2="157.31" y2="175.6" stroke="#ececec" stroke-width="0.35"/>
<line x1="166.64" y1="134.8" x2="166.64" y2="175.6" stroke="#ececec" stroke-width="0.35"/>
<line x1="175.97" y1="134.8" x2="175.97" y2="175.6" stroke="#ececec" stroke-width="0.35"/>
<line x1="92.0" y1="137.50" x2="185.3" y2="137.50" stroke="#ececec" stroke-width="0.35"/>
<text x="90.00" y="138.60" font-size="3.2" text-anchor="end" fill="#555" >0.3</text>
<line x1="92.0" y1="143.30" x2="185.3" y2="143.30" stroke="#ececec" stroke-width="0.35"/>
<text x="90.00" y="144.40" font-size="3.2" text-anchor="end" fill="#555" >0.2</text>
<line x1="92.0" y1="149.10" x2="185.3" y2="149.10" stroke="#ececec" stroke-width="0.35"/>
<text x="90.00" y="150.20" font-size="3.2" text-anchor="end" fill="#555" >0.1</text>
<line x1="92.0" y1="154.90" x2="185.3" y2="154.90" stroke="#ececec" stroke-width="0.35"/>
<text x="90.00" y="156.00" font-size="3.2" text-anchor="end" fill="#555" >0.0</text>
<line x1="92.0" y1="160.70" x2="185.3" y2="160.70" stroke="#ececec" stroke-width="0.35"/>
<text x="90.00" y="161.80" font-size="3.2" text-anchor="end" fill="#555" >-0.1</text>
<line x1="92.0" y1="166.50" x2="185.3" y2="166.50" stroke="#ececec" stroke-width="0.35"/>
<text x="90.00" y="167.60" font-size="3.2" text-anchor="end" fill="#555" >-0.2</text>
<line x1="92.0" y1="172.30" x2="185.3" y2="172.30" stroke="#ececec" stroke-width="0.35"/>
<text x="90.00" y="173.40" font-size="3.2" text-anchor="end" fill="#555" >-0.3</text>
<line x1="92.0" y1="156.5" x2="185.3" y2="156.5" stroke="#aaa" stroke-width="0.5"/>
<g transform="translate(82.5,155.2) rotate(-90)">
<text x="0.00" y="1.50" font-size="4" text-anchor="middle" font-weight="bold" fill="#333" >ES</text>
</g>
<polyline points="92.60,156.60 93.60,150.00 95.00,142.50 97.00,138.50 99.50,136.90 102.00,137.30 105.00,139.00 109.00,140.60 115.00,143.00 125.00,147.50 135.00,152.30 145.00,157.50 155.00,163.20 163.00,168.30 168.00,171.60 171.70,173.70 175.00,174.20 178.00,173.00 181.00,170.50 183.00,166.00 184.20,161.00 185.00,156.00" fill="none" stroke="#8cd65c" stroke-width="0.95" stroke-linejoin="round"/>
<rect x="92.0" y="175.30" width="93.30" height="13.10" fill="#fff"/>
<rect x="93.44" y="175.30" width="2.04" height="13.10" fill="#aaa"/>
<rect x="96.50" y="175.30" width="2.32" height="13.10" fill="#bbb"/>
<rect x="100.11" y="175.30" width="2.53" height="13.10" fill="#333"/>
<rect x="103.98" y="175.30" width="1.22" height="13.10" fill="#222"/>
<rect x="105.83" y="175.30" width="2.48" height="13.10" fill="#777"/>
<rect x="109.01" y="175.30" width="2.23" height="13.10" fill="#333"/>
<rect x="113.19" y="175.30" width="2.05" height="13.10" fill="#777"/>
<rect x="117.30" y="175.30" width="2.13" height="13.10" fill="#777"/>
<rect x="120.94" y="175.30" width="0.86" height="13.10" fill="#555"/>
<rect x="123.19" y="175.30" width="2.05" height="13.10" fill="#aaa"/>
<rect x="127.24" y="175.30" width="1.46" height="13.10" fill="#333"/>
<rect x="130.39" y="175.30" width="0.96" height="13.10" fill="#bbb"/>
<rect x="133.31" y="175.30" width="1.62" height="13.10" fill="#999"/>
<rect x="136.59" y="175.30" width="1.52" height="13.10" fill="#333"/>
<rect x="138.99" y="175.30" width="0.87" height="13.10" fill="#bbb"/>
<rect x="141.66" y="175.30" width="0.93" height="13.10" fill="#333"/>
<rect x="143.50" y="175.30" width="2.54" height="13.10" fill="#aaa"/>
<rect x="147.75" y="175.30" width="2.17" height="13.10" fill="#999"/>
<rect x="151.97" y="175.30" width="0.93" height="13.10" fill="#999"/>
<rect x="154.20" y="175.30" width="2.29" height="13.10" fill="#333"/>
<rect x="157.59" y="175.30" width="1.06" height="13.10" fill="#999"/>
<rect x="159.85" y="175.30" width="1.46" height="13.10" fill="#777"/>
<rect x="162.64" y="175.30" width="1.37" height="13.10" fill="#777"/>
<rect x="165.18" y="175.30" width="0.85" height="13.10" fill="#222"/>
<rect x="166.86" y="175.30" width="2.09" height="13.10" fill="#777"/>
<rect x="169.56" y="175.30" width="0.93" height="13.10" fill="#999"/>
<rect x="172.18" y="175.30" width="1.20" height="13.10" fill="#999"/>
<rect x="174.45" y="175.30" width="2.56" height="13.10" fill="#222"/>
<rect x="177.88" y="175.30" width="1.11" height="13.10" fill="#555"/>
<rect x="180.80" y="175.30" width="1.40" height="13.10" fill="#bbb"/>
<rect x="183.68" y="175.30" width="0.92" height="13.10" fill="#222"/>
<defs><linearGradient id="g92122" x1="0" x2="1" y1="0" y2="0"><stop offset="0" stop-color="#dc5a6c"/><stop offset="0.3" stop-color="#e27486"/><stop offset="0.4" stop-color="#ecb4c8"/><stop offset="0.52" stop-color="#efdcee"/><stop offset="0.64" stop-color="#cccbf0"/><stop offset="0.8" stop-color="#8888e0"/><stop offset="0.92" stop-color="#5050cc"/><stop offset="1" stop-color="#3838b8"/></linearGradient></defs>
<rect x="92.0" y="188.40" width="93.30" height="3.90" fill="url(#g92122)"/>
<rect x="92.0" y="192.60" width="93.30" height="29.50" fill="#fff" stroke="#d0d0d0" stroke-width="0.4"/>
<line x1="101.33" y1="192.60" x2="101.33" y2="222.1" stroke="#f0f0f0" stroke-width="0.35"/>
<line x1="110.66" y1="192.60" x2="110.66" y2="222.1" stroke="#f0f0f0" stroke-width="0.35"/>
<line x1="119.99" y1="192.60" x2="119.99" y2="222.1" stroke="#f0f0f0" stroke-width="0.35"/>
<line x1="129.32" y1="192.60" x2="129.32" y2="222.1" stroke="#f0f0f0" stroke-width="0.35"/>
<line x1="138.65" y1="192.60" x2="138.65" y2="222.1" stroke="#f0f0f0" stroke-width="0.35"/>
<line x1="147.98" y1="192.60" x2="147.98" y2="222.1" stroke="#f0f0f0" stroke-width="0.35"/>
<line x1="157.31" y1="192.60" x2="157.31" y2="222.1" stroke="#f0f0f0" stroke-width="0.35"/>
<line x1="166.64" y1="192.60" x2="166.64" y2="222.1" stroke="#f0f0f0" stroke-width="0.35"/>
<line x1="175.97" y1="192.60" x2="175.97" y2="222.1" stroke="#f0f0f0" stroke-width="0.35"/>
<line x1="92.0" y1="202.60" x2="184.50" y2="202.60" stroke="#b0c8a8" stroke-width="0.6"/>
<line x1="184.50" y1="202.60" x2="184.50" y2="205.60" stroke="#c9a" stroke-width="0.6"/>
<text x="93.00" y="194.50" font-size="2.4" text-anchor="start" fill="#d04050" >'na_pos' (positively correlated)</text>
<text x="154.00" y="217.10" font-size="2.4" text-anchor="middle" fill="#5050c0" >'na_neg' (negatively correlated)</text>
<text x="139.00" y="206.10" font-size="2.3" text-anchor="middle" fill="#888" >Zero cross at 18091</text>
<text x="90.00" y="195.60" font-size="2.8" text-anchor="end" fill="#666" >40</text>
<text x="90.00" y="199.90" font-size="2.8" text-anchor="end" fill="#666" >20</text>
<text x="90.00" y="204.20" font-size="2.8" text-anchor="end" fill="#666" >0</text>
<text x="90.00" y="208.50" font-size="2.8" text-anchor="end" fill="#666" >-20</text>
<text x="90.00" y="212.80" font-size="2.8" text-anchor="end" fill="#666" >-40</text>
<text x="90.00" y="217.10" font-size="2.8" text-anchor="end" fill="#666" >-60</text>
<g transform="translate(83.7,198.7) rotate(-90)">
<text x="0.00" y="1.00" font-size="3.0" text-anchor="middle" fill="#444" textLength="40" lengthAdjust="spacingAndGlyphs" >Ranked list metric (PreRanked)</text>
</g>
<text x="92.00" y="224.90" font-size="2.7" text-anchor="middle" fill="#555" >0</text>
<text x="103.66" y="224.90" font-size="2.7" text-anchor="middle" fill="#555" >2,500</text>
<text x="115.33" y="224.90" font-size="2.7" text-anchor="middle" fill="#555" >5,000</text>
<text x="126.99" y="224.90" font-size="2.7" text-anchor="middle" fill="#555" >7,500</text>
<text x="138.65" y="224.90" font-size="2.7" text-anchor="middle" fill="#555" >10,000</text>
<text x="150.31" y="224.90" font-size="2.7" text-anchor="middle" fill="#555" >12,500</text>
<text x="161.98" y="224.90" font-size="2.7" text-anchor="middle" fill="#555" >15,000</text>
<text x="173.64" y="224.90" font-size="2.7" text-anchor="middle" fill="#555" >17,500</text>
<text x="185.30" y="224.90" font-size="2.7" text-anchor="middle" fill="#555" >20,000</text>
<text x="138.65" y="228.70" font-size="3.3" text-anchor="middle" fill="#444" textLength="30" lengthAdjust="spacingAndGlyphs" >Rank in ordered dataset</text>
<rect x="94.00" y="231.10" width="79.80" height="4.8" fill="#fff" stroke="#999" stroke-width="0.5"/>
<line x1="96.00" y1="233.50" x2="100.00" y2="233.50" stroke="#7ccf3a" stroke-width="0.6"/>
<text x="101.00" y="234.40" font-size="2.6" text-anchor="start" fill="#333" >Enrichment profile</text>
<line x1="123.00" y1="233.50" x2="127.00" y2="233.50" stroke="#888" stroke-width="0.6"/>
<text x="128.00" y="234.40" font-size="2.6" text-anchor="start" fill="#333" >Hits</text>
<line x1="142.00" y1="233.50" x2="146.00" y2="233.50" stroke="#bbb" stroke-width="0.6"/>
<text x="147.00" y="234.40" font-size="2.6" text-anchor="start" fill="#333" >Ranking metric scores</text>
<text x="247.80" y="128.20" font-size="4.6" text-anchor="middle" font-weight="bold" fill="#111" textLength="34" lengthAdjust="spacingAndGlyphs" >Enrichment plot:</text>
<text x="247.80" y="133.30" font-size="4.6" text-anchor="middle" font-weight="bold" fill="#111" textLength="81" lengthAdjust="spacingAndGlyphs" >HALLMARK_TNFA_SIGNALING_VIA_NFKB</text>
<rect x="205.3" y="134.8" width="93.30" height="40.80" fill="#fff" stroke="#d0d0d0" stroke-width="0.4"/>
<line x1="214.63" y1="134.8" x2="214.63" y2="175.6" stroke="#ececec" stroke-width="0.35"/>
<line x1="223.96" y1="134.8" x2="223.96" y2="175.6" stroke="#ececec" stroke-width="0.35"/>
<line x1="233.29" y1="134.8" x2="233.29" y2="175.6" stroke="#ececec" stroke-width="0.35"/>
<line x1="242.62" y1="134.8" x2="242.62" y2="175.6" stroke="#ececec" stroke-width="0.35"/>
<line x1="251.95" y1="134.8" x2="251.95" y2="175.6" stroke="#ececec" stroke-width="0.35"/>
<line x1="261.28" y1="134.8" x2="261.28" y2="175.6" stroke="#ececec" stroke-width="0.35"/>
<line x1="270.61" y1="134.8" x2="270.61" y2="175.6" stroke="#ececec" stroke-width="0.35"/>
<line x1="279.94" y1="134.8" x2="279.94" y2="175.6" stroke="#ececec" stroke-width="0.35"/>
<line x1="289.27" y1="134.8" x2="289.27" y2="175.6" stroke="#ececec" stroke-width="0.35"/>
<line x1="205.3" y1="137.50" x2="298.6" y2="137.50" stroke="#ececec" stroke-width="0.35"/>
<text x="203.30" y="138.60" font-size="3.2" text-anchor="end" fill="#555" >0.0</text>
<line x1="205.3" y1="142.40" x2="298.6" y2="142.40" stroke="#ececec" stroke-width="0.35"/>
<text x="203.30" y="143.50" font-size="3.2" text-anchor="end" fill="#555" >-0.1</text>
<line x1="205.3" y1="147.30" x2="298.6" y2="147.30" stroke="#ececec" stroke-width="0.35"/>
<text x="203.30" y="148.40" font-size="3.2" text-anchor="end" fill="#555" >-0.2</text>
<line x1="205.3" y1="152.20" x2="298.6" y2="152.20" stroke="#ececec" stroke-width="0.35"/>
<text x="203.30" y="153.30" font-size="3.2" text-anchor="end" fill="#555" >-0.3</text>
<line x1="205.3" y1="157.10" x2="298.6" y2="157.10" stroke="#ececec" stroke-width="0.35"/>
<text x="203.30" y="158.20" font-size="3.2" text-anchor="end" fill="#555" >-0.4</text>
<line x1="205.3" y1="162.00" x2="298.6" y2="162.00" stroke="#ececec" stroke-width="0.35"/>
<text x="203.30" y="163.10" font-size="3.2" text-anchor="end" fill="#555" >-0.5</text>
<line x1="205.3" y1="166.90" x2="298.6" y2="166.90" stroke="#ececec" stroke-width="0.35"/>
<text x="203.30" y="168.00" font-size="3.2" text-anchor="end" fill="#555" >-0.6</text>
<line x1="205.3" y1="171.80" x2="298.6" y2="171.80" stroke="#ececec" stroke-width="0.35"/>
<text x="203.30" y="172.90" font-size="3.2" text-anchor="end" fill="#555" >-0.7</text>
<g transform="translate(195.8,155.2) rotate(-90)">
<text x="0.00" y="1.50" font-size="4" text-anchor="middle" font-weight="bold" fill="#333" >ES</text>
</g>
<polyline points="205.30,137.00 210.00,139.20 220.00,143.80 230.00,148.80 240.00,153.80 250.00,159.00 258.00,163.20 264.00,166.50 268.80,169.60 272.00,171.00 275.00,170.20 278.00,171.80 282.00,173.50 285.00,174.30 287.00,173.30 288.50,169.00 291.00,168.20 293.00,167.80 294.30,160.00 295.30,150.00 296.20,140.00 296.60,135.50" fill="none" stroke="#8cd65c" stroke-width="0.95" stroke-linejoin="round"/>
<rect x="205.3" y="175.30" width="93.30" height="13.10" fill="#fff"/>
<rect x="206.59" y="175.30" width="0.44" height="13.10" fill="#888"/>
<rect x="208.71" y="175.30" width="0.42" height="13.10" fill="#444"/>
<rect x="212.02" y="175.30" width="0.68" height="13.10" fill="#666"/>
<rect x="214.40" y="175.30" width="0.70" height="13.10" fill="#444"/>
<rect x="216.76" y="175.30" width="0.61" height="13.10" fill="#888"/>
<rect x="220.24" y="175.30" width="0.48" height="13.10" fill="#444"/>
<rect x="222.33" y="175.30" width="0.71" height="13.10" fill="#888"/>
<rect x="225.33" y="175.30" width="0.48" height="13.10" fill="#888"/>
<rect x="228.18" y="175.30" width="0.78" height="13.10" fill="#666"/>
<rect x="232.42" y="175.30" width="0.57" height="13.10" fill="#444"/>
<rect x="237.15" y="175.30" width="0.74" height="13.10" fill="#777"/>
<rect x="239.55" y="175.30" width="0.46" height="13.10" fill="#888"/>
<rect x="241.35" y="175.30" width="0.69" height="13.10" fill="#888"/>
<rect x="245.29" y="175.30" width="0.49" height="13.10" fill="#888"/>
<rect x="249.25" y="175.30" width="0.48" height="13.10" fill="#666"/>
<rect x="252.45" y="175.30" width="0.51" height="13.10" fill="#777"/>
<rect x="255.23" y="175.30" width="0.56" height="13.10" fill="#777"/>
<rect x="259.98" y="175.30" width="0.79" height="13.10" fill="#444"/>
<rect x="264.43" y="175.30" width="0.52" height="13.10" fill="#666"/>
<rect x="267.91" y="175.30" width="0.77" height="13.10" fill="#777"/>
<rect x="270.22" y="175.30" width="0.48" height="13.10" fill="#777"/>
<rect x="274.08" y="175.30" width="0.44" height="13.10" fill="#888"/>
<rect x="276.63" y="175.30" width="0.52" height="13.10" fill="#666"/>
<rect x="278.75" y="175.30" width="0.48" height="13.10" fill="#777"/>
<rect x="281.84" y="175.30" width="0.72" height="13.10" fill="#444"/>
<rect x="284.63" y="175.30" width="0.75" height="13.10" fill="#444"/>
<rect x="289.56" y="175.30" width="0.48" height="13.10" fill="#666"/>
<rect x="293.47" y="175.30" width="0.74" height="13.10" fill="#888"/>
<rect x="295.64" y="175.30" width="0.64" height="13.10" fill="#777"/>
<defs><linearGradient id="g205122" x1="0" x2="1" y1="0" y2="0"><stop offset="0" stop-color="#c8c8f4"/><stop offset="0.3" stop-color="#bcbcf2"/><stop offset="0.55" stop-color="#a8a8ec"/><stop offset="0.7" stop-color="#7878e0"/><stop offset="0.88" stop-color="#4040d0"/><stop offset="0.94" stop-color="#2828b0"/><stop offset="0.97" stop-color="#10106a"/><stop offset="1" stop-color="#101060"/></linearGradient></defs>
<rect x="205.3" y="188.40" width="93.30" height="3.90" fill="url(#g205122)"/>
<rect x="205.3" y="192.60" width="93.30" height="29.50" fill="#fff" stroke="#d0d0d0" stroke-width="0.4"/>
<line x1="214.63" y1="192.60" x2="214.63" y2="222.1" stroke="#f0f0f0" stroke-width="0.35"/>
<line x1="223.96" y1="192.60" x2="223.96" y2="222.1" stroke="#f0f0f0" stroke-width="0.35"/>
<line x1="233.29" y1="192.60" x2="233.29" y2="222.1" stroke="#f0f0f0" stroke-width="0.35"/>
<line x1="242.62" y1="192.60" x2="242.62" y2="222.1" stroke="#f0f0f0" stroke-width="0.35"/>
<line x1="251.95" y1="192.60" x2="251.95" y2="222.1" stroke="#f0f0f0" stroke-width="0.35"/>
<line x1="261.28" y1="192.60" x2="261.28" y2="222.1" stroke="#f0f0f0" stroke-width="0.35"/>
<line x1="270.61" y1="192.60" x2="270.61" y2="222.1" stroke="#f0f0f0" stroke-width="0.35"/>
<line x1="279.94" y1="192.60" x2="279.94" y2="222.1" stroke="#f0f0f0" stroke-width="0.35"/>
<line x1="289.27" y1="192.60" x2="289.27" y2="222.1" stroke="#f0f0f0" stroke-width="0.35"/>
<line x1="205.3" y1="193.60" x2="297.80" y2="193.60" stroke="#a0a0e0" stroke-width="0.6"/>
<text x="207.30" y="204.60" font-size="2.3" text-anchor="start" fill="#888" >Zero cross at 0</text>
<text x="267.30" y="217.10" font-size="2.4" text-anchor="middle" fill="#5050c0" >'na_neg' (negatively correlated)</text>
<text x="203.30" y="195.60" font-size="2.8" text-anchor="end" fill="#666" >40</text>
<text x="203.30" y="199.90" font-size="2.8" text-anchor="end" fill="#666" >20</text>
<text x="203.30" y="204.20" font-size="2.8" text-anchor="end" fill="#666" >0</text>
<text x="203.30" y="208.50" font-size="2.8" text-anchor="end" fill="#666" >-20</text>
<text x="203.30" y="212.80" font-size="2.8" text-anchor="end" fill="#666" >-40</text>
<text x="203.30" y="217.10" font-size="2.8" text-anchor="end" fill="#666" >-60</text>
<g transform="translate(197.0,198.7) rotate(-90)">
<text x="0.00" y="1.00" font-size="3.0" text-anchor="middle" fill="#444" textLength="40" lengthAdjust="spacingAndGlyphs" >Ranked list metric (PreRanked)</text>
</g>
<text x="205.30" y="224.90" font-size="2.7" text-anchor="middle" fill="#555" >0</text>
<text x="216.96" y="224.90" font-size="2.7" text-anchor="middle" fill="#555" >2,500</text>
<text x="228.62" y="224.90" font-size="2.7" text-anchor="middle" fill="#555" >5,000</text>
<text x="240.29" y="224.90" font-size="2.7" text-anchor="middle" fill="#555" >7,500</text>
<text x="251.95" y="224.90" font-size="2.7" text-anchor="middle" fill="#555" >10,000</text>
<text x="263.61" y="224.90" font-size="2.7" text-anchor="middle" fill="#555" >12,500</text>
<text x="275.28" y="224.90" font-size="2.7" text-anchor="middle" fill="#555" >15,000</text>
<text x="286.94" y="224.90" font-size="2.7" text-anchor="middle" fill="#555" >17,500</text>
<text x="298.60" y="224.90" font-size="2.7" text-anchor="middle" fill="#555" >20,000</text>
<text x="251.95" y="228.70" font-size="3.3" text-anchor="middle" fill="#444" textLength="30" lengthAdjust="spacingAndGlyphs" >Rank in ordered dataset</text>
<rect x="207.30" y="231.10" width="79.80" height="4.8" fill="#fff" stroke="#999" stroke-width="0.5"/>
<line x1="209.30" y1="233.50" x2="213.30" y2="233.50" stroke="#7ccf3a" stroke-width="0.6"/>
<text x="214.30" y="234.40" font-size="2.6" text-anchor="start" fill="#333" >Enrichment profile</text>
<line x1="236.30" y1="233.50" x2="240.30" y2="233.50" stroke="#888" stroke-width="0.6"/>
<text x="241.30" y="234.40" font-size="2.6" text-anchor="start" fill="#333" >Hits</text>
<line x1="255.30" y1="233.50" x2="259.30" y2="233.50" stroke="#bbb" stroke-width="0.6"/>
<text x="260.30" y="234.40" font-size="2.6" text-anchor="start" fill="#333" >Ranking metric scores</text>
</g>
<g id="panelB">
<rect x="385.2" y="11.65" width="10.00" height="3.16" fill="#2a0a58"/>
<rect x="396.5" y="11.65" width="10.50" height="3.16" fill="#c4c2dc"/>
<rect x="408.2" y="11.65" width="10.40" height="3.16" fill="#2a0a58"/>
<rect x="419.8" y="11.65" width="10.60" height="3.16" fill="#c4c2dc"/>
<rect x="385.2" y="15.71" width="10.00" height="3.16" fill="#958fbc"/>
<rect x="396.5" y="15.71" width="10.50" height="3.16" fill="#4a2c88"/>
<rect x="408.2" y="15.71" width="10.40" height="3.16" fill="#2a0a58"/>
<rect x="419.8" y="15.71" width="10.60" height="3.16" fill="#c4c2dc"/>
<rect x="385.2" y="19.77" width="10.00" height="3.16" fill="#dfdfeb"/>
<rect x="396.5" y="19.77" width="10.50" height="3.16" fill="#4a2c88"/>
<rect x="408.2" y="19.77" width="10.40" height="3.16" fill="#f0eef3"/>
<rect x="419.8" y="19.77" width="10.60" height="3.16" fill="#7c74a8"/>
<rect x="385.2" y="23.83" width="10.00" height="3.16" fill="#dadae9"/>
<rect x="396.5" y="23.83" width="10.50" height="3.16" fill="#4a2c88"/>
<rect x="408.2" y="23.83" width="10.40" height="3.16" fill="#aeaacf"/>
<rect x="419.8" y="23.83" width="10.60" height="3.16" fill="#4a2c88"/>
<rect x="385.2" y="27.89" width="10.00" height="3.16" fill="#dadae9"/>
<rect x="396.5" y="27.89" width="10.50" height="3.16" fill="#958fbc"/>
<rect x="408.2" y="27.89" width="10.40" height="3.16" fill="#dadae9"/>
<rect x="419.8" y="27.89" width="10.60" height="3.16" fill="#2a0a58"/>
<rect x="385.2" y="31.95" width="10.00" height="3.16" fill="#aeaacf"/>
<rect x="396.5" y="31.95" width="10.50" height="3.16" fill="#aeaacf"/>
<rect x="408.2" y="31.95" width="10.40" height="3.16" fill="#dadae9"/>
<rect x="419.8" y="31.95" width="10.60" height="3.16" fill="#4a2c88"/>
<rect x="385.2" y="36.01" width="10.00" height="3.16" fill="#dadae9"/>
<rect x="396.5" y="36.01" width="10.50" height="3.16" fill="#dadae9"/>
<rect x="408.2" y="36.01" width="10.40" height="3.16" fill="#e8e6ef"/>
<rect x="419.8" y="36.01" width="10.60" height="3.16" fill="#4a2c88"/>
<rect x="385.2" y="40.07" width="10.00" height="3.16" fill="#dadae9"/>
<rect x="396.5" y="40.07" width="10.50" height="3.16" fill="#dadae9"/>
<rect x="408.2" y="40.07" width="10.40" height="3.16" fill="#dadae9"/>
<rect x="419.8" y="40.07" width="10.60" height="3.16" fill="#7c74a8"/>
<rect x="385.2" y="44.13" width="10.00" height="3.16" fill="#dadae9"/>
<rect x="396.5" y="44.13" width="10.50" height="3.16" fill="#2a0a58"/>
<rect x="408.2" y="44.13" width="10.40" height="3.16" fill="#dadae9"/>
<rect x="419.8" y="44.13" width="10.60" height="3.16" fill="#dadae9"/>
<rect x="385.2" y="48.19" width="10.00" height="3.16" fill="#dadae9"/>
<rect x="396.5" y="48.19" width="10.50" height="3.16" fill="#4a2c88"/>
<rect x="408.2" y="48.19" width="10.40" height="3.16" fill="#dadae9"/>
<rect x="419.8" y="48.19" width="10.60" height="3.16" fill="#dadae9"/>
<rect x="385.2" y="52.25" width="10.00" height="3.16" fill="#dadae9"/>
<rect x="396.5" y="52.25" width="10.50" height="3.16" fill="#635098"/>
<rect x="408.2" y="52.25" width="10.40" height="3.16" fill="#aeaacf"/>
<rect x="419.8" y="52.25" width="10.60" height="3.16" fill="#dadae9"/>
<rect x="385.2" y="56.31" width="10.00" height="3.16" fill="#aeaacf"/>
<rect x="396.5" y="56.31" width="10.50" height="3.16" fill="#3a1b70"/>
<rect x="408.2" y="56.31" width="10.40" height="3.16" fill="#aeaacf"/>
<rect x="419.8" y="56.31" width="10.60" height="3.16" fill="#dadae9"/>
<rect x="385.2" y="60.37" width="10.00" height="3.16" fill="#aeaacf"/>
<rect x="396.5" y="60.37" width="10.50" height="3.16" fill="#3a1b70"/>
<rect x="408.2" y="60.37" width="10.40" height="3.16" fill="#c4c2dc"/>
<rect x="419.8" y="60.37" width="10.60" height="3.16" fill="#c4c2dc"/>
<rect x="385.2" y="64.43" width="10.00" height="3.16" fill="#aeaacf"/>
<rect x="396.5" y="64.43" width="10.50" height="3.16" fill="#3a1b70"/>
<rect x="408.2" y="64.43" width="10.40" height="3.16" fill="#c4c2dc"/>
<rect x="419.8" y="64.43" width="10.60" height="3.16" fill="#dadae9"/>
<rect x="385.2" y="68.49" width="10.00" height="3.16" fill="#dadae9"/>
<rect x="396.5" y="68.49" width="10.50" height="3.16" fill="#7c74a8"/>
<rect x="408.2" y="68.49" width="10.40" height="3.16" fill="#aeaacf"/>
<rect x="419.8" y="68.49" width="10.60" height="3.16" fill="#dadae9"/>
<rect x="385.2" y="72.55" width="10.00" height="3.16" fill="#dadae9"/>
<rect x="396.5" y="72.55" width="10.50" height="3.16" fill="#7c74a8"/>
<rect x="408.2" y="72.55" width="10.40" height="3.16" fill="#dadae9"/>
<rect x="419.8" y="72.55" width="10.60" height="3.16" fill="#aeaacf"/>
<rect x="385.2" y="76.61" width="10.00" height="3.16" fill="#dadae9"/>
<rect x="396.5" y="76.61" width="10.50" height="3.16" fill="#7c74a8"/>
<rect x="408.2" y="76.61" width="10.40" height="3.16" fill="#dadae9"/>
<rect x="419.8" y="76.61" width="10.60" height="3.16" fill="#dadae9"/>
<rect x="385.2" y="80.67" width="10.00" height="3.16" fill="#dadae9"/>
<rect x="396.5" y="80.67" width="10.50" height="3.16" fill="#7c74a8"/>
<rect x="408.2" y="80.67" width="10.40" height="3.16" fill="#aeaacf"/>
<rect x="419.8" y="80.67" width="10.60" height="3.16" fill="#dadae9"/>
<rect x="385.2" y="84.73" width="10.00" height="3.16" fill="#dadae9"/>
<rect x="396.5" y="84.73" width="10.50" height="3.16" fill="#aeaacf"/>
<rect x="408.2" y="84.73" width="10.40" height="3.16" fill="#dadae9"/>
<rect x="419.8" y="84.73" width="10.60" height="3.16" fill="#dadae9"/>
<rect x="385.2" y="88.79" width="10.00" height="3.16" fill="#dadae9"/>
<rect x="396.5" y="88.79" width="10.50" height="3.16" fill="#aeaacf"/>
<rect x="408.2" y="88.79" width="10.40" height="3.16" fill="#dadae9"/>
<rect x="419.8" y="88.79" width="10.60" height="3.16" fill="#dadae9"/>
<rect x="385.2" y="92.85" width="10.00" height="3.16" fill="#dadae9"/>
<rect x="396.5" y="92.85" width="10.50" height="3.16" fill="#7c74a8"/>
<rect x="408.2" y="92.85" width="10.40" height="3.16" fill="#dadae9"/>
<rect x="419.8" y="92.85" width="10.60" height="3.16" fill="#aeaacf"/>
<rect x="385.2" y="96.91" width="10.00" height="3.16" fill="#dadae9"/>
<rect x="396.5" y="96.91" width="10.50" height="3.16" fill="#aeaacf"/>
<rect x="408.2" y="96.91" width="10.40" height="3.16" fill="#dadae9"/>
<rect x="419.8" y="96.91" width="10.60" height="3.16" fill="#7c74a8"/>
<rect x="385.2" y="100.97" width="10.00" height="3.16" fill="#dadae9"/>
<rect x="396.5" y="100.97" width="10.50" height="3.16" fill="#aeaacf"/>
<rect x="408.2" y="100.97" width="10.40" height="3.16" fill="#dadae9"/>
<rect x="419.8" y="100.97" width="10.60" height="3.16" fill="#aeaacf"/>
<rect x="385.2" y="105.03" width="10.00" height="3.16" fill="#aeaacf"/>
<rect x="396.5" y="105.03" width="10.50" height="3.16" fill="#aeaacf"/>
<rect x="408.2" y="105.03" width="10.40" height="3.16" fill="#dadae9"/>
<rect x="419.8" y="105.03" width="10.60" height="3.16" fill="#aeaacf"/>
<rect x="385.2" y="109.09" width="10.00" height="3.16" fill="#dadae9"/>
<rect x="396.5" y="109.09" width="10.50" height="3.16" fill="#dadae9"/>
<rect x="408.2" y="109.09" width="10.40" height="3.16" fill="#dadae9"/>
<rect x="419.8" y="109.09" width="10.60" height="3.16" fill="#6d5e9e"/>
<rect x="385.2" y="113.15" width="10.00" height="3.16" fill="#dadae9"/>
<rect x="396.5" y="113.15" width="10.50" height="3.16" fill="#958fbc"/>
<rect x="408.2" y="113.15" width="10.40" height="3.16" fill="#dadae9"/>
<rect x="419.8" y="113.15" width="10.60" height="3.16" fill="#908ab8"/>
<rect x="385.2" y="117.21" width="10.00" height="3.16" fill="#dadae9"/>
<rect x="396.5" y="117.21" width="10.50" height="3.16" fill="#c4c2dc"/>
<rect x="408.2" y="117.21" width="10.40" height="3.16" fill="#dadae9"/>
<rect x="419.8" y="117.21" width="10.60" height="3.16" fill="#958fbc"/>
<rect x="385.2" y="121.27" width="10.00" height="3.16" fill="#dadae9"/>
<rect x="396.5" y="121.27" width="10.50" height="3.16" fill="#c4c2dc"/>
<rect x="408.2" y="121.27" width="10.40" height="3.16" fill="#dadae9"/>
<rect x="419.8" y="121.27" width="10.60" height="3.16" fill="#958fbc"/>
<rect x="385.2" y="125.33" width="10.00" height="3.16" fill="#dadae9"/>
<rect x="396.5" y="125.33" width="10.50" height="3.16" fill="#dadae9"/>
<rect x="408.2" y="125.33" width="10.40" height="3.16" fill="#e8e6ef"/>
<rect x="419.8" y="125.33" width="10.60" height="3.16" fill="#958fbc"/>
<rect x="385.2" y="129.39" width="10.00" height="3.16" fill="#dadae9"/>
<rect x="396.5" y="129.39" width="10.50" height="3.16" fill="#958fbc"/>
<rect x="408.2" y="129.39" width="10.40" height="3.16" fill="#958fbc"/>
<rect x="419.8" y="129.39" width="10.60" height="3.16" fill="#958fbc"/>
<rect x="385.2" y="133.45" width="10.00" height="3.16" fill="#dadae9"/>
<rect x="396.5" y="133.45" width="10.50" height="3.16" fill="#958fbc"/>
<rect x="408.2" y="133.45" width="10.40" height="3.16" fill="#958fbc"/>
<rect x="419.8" y="133.45" width="10.60" height="3.16" fill="#dadae9"/>
<rect x="385.2" y="137.51" width="10.00" height="3.16" fill="#dadae9"/>
<rect x="396.5" y="137.51" width="10.50" height="3.16" fill="#958fbc"/>
<rect x="408.2" y="137.51" width="10.40" height="3.16" fill="#958fbc"/>
<rect x="419.8" y="137.51" width="10.60" height="3.16" fill="#dadae9"/>
<rect x="385.2" y="141.57" width="10.00" height="3.16" fill="#dadae9"/>
<rect x="396.5" y="141.57" width="10.50" height="3.16" fill="#958fbc"/>
<rect x="408.2" y="141.57" width="10.40" height="3.16" fill="#dadae9"/>
<rect x="419.8" y="141.57" width="10.60" height="3.16" fill="#dadae9"/>
<rect x="385.2" y="145.63" width="10.00" height="3.16" fill="#dadae9"/>
<rect x="396.5" y="145.63" width="10.50" height="3.16" fill="#958fbc"/>
<rect x="408.2" y="145.63" width="10.40" height="3.16" fill="#dadae9"/>
<rect x="419.8" y="145.63" width="10.60" height="3.16" fill="#958fbc"/>
<rect x="385.2" y="149.69" width="10.00" height="3.16" fill="#dadae9"/>
<rect x="396.5" y="149.69" width="10.50" height="3.16" fill="#c4c2dc"/>
<rect x="408.2" y="149.69" width="10.40" height="3.16" fill="#dadae9"/>
<rect x="419.8" y="149.69" width="10.60" height="3.16" fill="#dadae9"/>
<rect x="385.2" y="153.75" width="10.00" height="3.16" fill="#dadae9"/>
<rect x="396.5" y="153.75" width="10.50" height="3.16" fill="#c4c2dc"/>
<rect x="408.2" y="153.75" width="10.40" height="3.16" fill="#dadae9"/>
<rect x="419.8" y="153.75" width="10.60" height="3.16" fill="#dadae9"/>
<rect x="385.2" y="157.81" width="10.00" height="3.16" fill="#dadae9"/>
<rect x="396.5" y="157.81" width="10.50" height="3.16" fill="#dadae9"/>
<rect x="408.2" y="157.81" width="10.40" height="3.16" fill="#dadae9"/>
<rect x="419.8" y="157.81" width="10.60" height="3.16" fill="#dadae9"/>
<rect x="385.2" y="161.87" width="10.00" height="3.16" fill="#c4c2dc"/>
<rect x="396.5" y="161.87" width="10.50" height="3.16" fill="#c4c2dc"/>
<rect x="408.2" y="161.87" width="10.40" height="3.16" fill="#c4c2dc"/>
<rect x="419.8" y="161.87" width="10.60" height="3.16" fill="#dadae9"/>
<rect x="385.2" y="165.93" width="10.00" height="3.16" fill="#dadae9"/>
<rect x="396.5" y="165.93" width="10.50" height="3.16" fill="#aeaacf"/>
<rect x="408.2" y="165.93" width="10.40" height="3.16" fill="#e8e6ef"/>
<rect x="419.8" y="165.93" width="10.60" height="3.16" fill="#dadae9"/>
<rect x="385.2" y="169.99" width="10.00" height="3.16" fill="#dadae9"/>
<rect x="396.5" y="169.99" width="10.50" height="3.16" fill="#958fbc"/>
<rect x="408.2" y="169.99" width="10.40" height="3.16" fill="#dadae9"/>
<rect x="419.8" y="169.99" width="10.60" height="3.16" fill="#dadae9"/>
<rect x="385.2" y="174.05" width="10.00" height="3.16" fill="#dadae9"/>
<rect x="396.5" y="174.05" width="10.50" height="3.16" fill="#c4c2dc"/>
<rect x="408.2" y="174.05" width="10.40" height="3.16" fill="#dadae9"/>
<rect x="419.8" y="174.05" width="10.60" height="3.16" fill="#dadae9"/>
<rect x="385.2" y="178.11" width="10.00" height="3.16" fill="#dadae9"/>
<rect x="396.5" y="178.11" width="10.50" height="3.16" fill="#958fbc"/>
<rect x="408.2" y="178.11" width="10.40" height="3.16" fill="#dadae9"/>
<rect x="419.8" y="178.11" width="10.60" height="3.16" fill="#dadae9"/>
<rect x="385.2" y="182.17" width="10.00" height="3.16" fill="#dadae9"/>
<rect x="396.5" y="182.17" width="10.50" height="3.16" fill="#dadae9"/>
<rect x="408.2" y="182.17" width="10.40" height="3.16" fill="#dadae9"/>
<rect x="419.8" y="182.17" width="10.60" height="3.16" fill="#e8e6ef"/>
<rect x="385.2" y="186.23" width="10.00" height="3.16" fill="#dadae9"/>
<rect x="396.5" y="186.23" width="10.50" height="3.16" fill="#dadae9"/>
<rect x="408.2" y="186.23" width="10.40" height="3.16" fill="#dadae9"/>
<rect x="419.8" y="186.23" width="10.60" height="3.16" fill="#dadae9"/>
<rect x="385.2" y="190.29" width="10.00" height="3.16" fill="#dadae9"/>
<rect x="396.5" y="190.29" width="10.50" height="3.16" fill="#dadae9"/>
<rect x="408.2" y="190.29" width="10.40" height="3.16" fill="#dadae9"/>
<rect x="419.8" y="190.29" width="10.60" height="3.16" fill="#dadae9"/>
<rect x="385.2" y="194.35" width="10.00" height="3.16" fill="#dadae9"/>
<rect x="396.5" y="194.35" width="10.50" height="3.16" fill="#dadae9"/>
<rect x="408.2" y="194.35" width="10.40" height="3.16" fill="#dadae9"/>
<rect x="419.8" y="194.35" width="10.60" height="3.16" fill="#dadae9"/>
<rect x="385.2" y="198.41" width="10.00" height="3.16" fill="#dadae9"/>
<rect x="396.5" y="198.41" width="10.50" height="3.16" fill="#dadae9"/>
<rect x="408.2" y="198.41" width="10.40" height="3.16" fill="#dadae9"/>
<rect x="419.8" y="198.41" width="10.60" height="3.16" fill="#dadae9"/>
<rect x="385.2" y="202.47" width="10.00" height="3.16" fill="#dadae9"/>
<rect x="396.5" y="202.47" width="10.50" height="3.16" fill="#dadae9"/>
<rect x="408.2" y="202.47" width="10.40" height="3.16" fill="#dadae9"/>
<rect x="419.8" y="202.47" width="10.60" height="3.16" fill="#dadae9"/>
<rect x="385.2" y="206.53" width="10.00" height="3.16" fill="#dadae9"/>
<rect x="396.5" y="206.53" width="10.50" height="3.16" fill="#dadae9"/>
<rect x="408.2" y="206.53" width="10.40" height="3.16" fill="#dadae9"/>
<rect x="419.8" y="206.53" width="10.60" height="3.16" fill="#dadae9"/>
<rect x="385.2" y="210.59" width="10.00" height="3.16" fill="#dadae9"/>
<rect x="396.5" y="210.59" width="10.50" height="3.16" fill="#dadae9"/>
<rect x="408.2" y="210.59" width="10.40" height="3.16" fill="#dadae9"/>
<rect x="419.8" y="210.59" width="10.60" height="3.16" fill="#dadae9"/>
<rect x="385.2" y="214.65" width="10.00" height="3.16" fill="#dadae9"/>
<rect x="396.5" y="214.65" width="10.50" height="3.16" fill="#dadae9"/>
<rect x="408.2" y="214.65" width="10.40" height="3.16" fill="#dadae9"/>
<rect x="419.8" y="214.65" width="10.60" height="3.16" fill="#dadae9"/>
<rect x="385.2" y="218.71" width="10.00" height="3.16" fill="#dadae9"/>
<rect x="396.5" y="218.71" width="10.50" height="3.16" fill="#dadae9"/>
<rect x="408.2" y="218.71" width="10.40" height="3.16" fill="#e8e6ef"/>
<rect x="419.8" y="218.71" width="10.60" height="3.16" fill="#dadae9"/>
<rect x="385.2" y="222.77" width="10.00" height="3.16" fill="#dadae9"/>
<rect x="396.5" y="222.77" width="10.50" height="3.16" fill="#dadae9"/>
<rect x="408.2" y="222.77" width="10.40" height="3.16" fill="#dadae9"/>
<rect x="419.8" y="222.77" width="10.60" height="3.16" fill="#dadae9"/>
<rect x="385.2" y="226.83" width="10.00" height="3.16" fill="#dadae9"/>
<rect x="396.5" y="226.83" width="10.50" height="3.16" fill="#dadae9"/>
<rect x="408.2" y="226.83" width="10.40" height="3.16" fill="#dadae9"/>
<rect x="419.8" y="226.83" width="10.60" height="3.16" fill="#dadae9"/>
<rect x="385.2" y="230.89" width="10.00" height="3.16" fill="#dadae9"/>
<rect x="396.5" y="230.89" width="10.50" height="3.16" fill="#dadae9"/>
<rect x="408.2" y="230.89" width="10.40" height="3.16" fill="#dadae9"/>
<rect x="419.8" y="230.89" width="10.60" height="3.16" fill="#dadae9"/>
<rect x="385.2" y="234.95" width="10.00" height="3.16" fill="#dadae9"/>
<rect x="396.5" y="234.95" width="10.50" height="3.16" fill="#dadae9"/>
<rect x="408.2" y="234.95" width="10.40" height="3.16" fill="#e8e6ef"/>
<rect x="419.8" y="234.95" width="10.60" height="3.16" fill="#dadae9"/>
<rect x="385.2" y="239.01" width="10.00" height="3.16" fill="#ebb872"/>
<rect x="396.5" y="239.01" width="10.50" height="3.16" fill="#dadae9"/>
<rect x="408.2" y="239.01" width="10.40" height="3.16" fill="#d08a2c"/>
<rect x="419.8" y="239.01" width="10.60" height="3.16" fill="#7c74a8"/>
<rect x="385.2" y="243.07" width="10.00" height="3.16" fill="#ebb872"/>
<rect x="396.5" y="243.07" width="10.50" height="3.16" fill="#958fbc"/>
<rect x="408.2" y="243.07" width="10.40" height="3.16" fill="#d08a2c"/>
<rect x="419.8" y="243.07" width="10.60" height="3.16" fill="#dadae9"/>
<rect x="385.2" y="247.13" width="10.00" height="3.16" fill="#ebb872"/>
<rect x="396.5" y="247.13" width="10.50" height="3.16" fill="#dadae9"/>
<rect x="408.2" y="247.13" width="10.40" height="3.16" fill="#d08a2c"/>
<rect x="419.8" y="247.13" width="10.60" height="3.16" fill="#dadae9"/>
<rect x="385.2" y="251.19" width="10.00" height="3.16" fill="#ebb872"/>
<rect x="396.5" y="251.19" width="10.50" height="3.16" fill="#dadae9"/>
<rect x="408.2" y="251.19" width="10.40" height="3.16" fill="#d08a2c"/>
<rect x="419.8" y="251.19" width="10.60" height="3.16" fill="#aeaacf"/>
<rect x="385.2" y="255.25" width="10.00" height="3.16" fill="#ebb872"/>
<rect x="396.5" y="255.25" width="10.50" height="3.16" fill="#dadae9"/>
<rect x="408.2" y="255.25" width="10.40" height="3.16" fill="#ebb872"/>
<rect x="419.8" y="255.25" width="10.60" height="3.16" fill="#dadae9"/>
<rect x="385.2" y="259.31" width="10.00" height="3.16" fill="#dadae9"/>
<rect x="396.5" y="259.31" width="10.50" height="3.16" fill="#e8e6ef"/>
<rect x="408.2" y="259.31" width="10.40" height="3.16" fill="#d08a2c"/>
<rect x="419.8" y="259.31" width="10.60" height="3.16" fill="#aeaacf"/>
<rect x="385.2" y="263.37" width="10.00" height="3.16" fill="#dadae9"/>
<rect x="396.5" y="263.37" width="10.50" height="3.16" fill="#dadae9"/>
<rect x="408.2" y="263.37" width="10.40" height="3.16" fill="#d08a2c"/>
<rect x="419.8" y="263.37" width="10.60" height="3.16" fill="#aeaacf"/>
<rect x="385.2" y="267.43" width="10.00" height="3.16" fill="#dadae9"/>
<rect x="396.5" y="267.43" width="10.50" height="3.16" fill="#dadae9"/>
<rect x="408.2" y="267.43" width="10.40" height="3.16" fill="#ebb872"/>
<rect x="419.8" y="267.43" width="10.60" height="3.16" fill="#68579b"/>
<rect x="385.2" y="271.49" width="10.00" height="3.16" fill="#dadae9"/>
<rect x="396.5" y="271.49" width="10.50" height="3.16" fill="#958fbc"/>
<rect x="408.2" y="271.49" width="10.40" height="3.16" fill="#ebb872"/>
<rect x="419.8" y="271.49" width="10.60" height="3.16" fill="#aeaacf"/>
<rect x="385.2" y="275.55" width="10.00" height="3.16" fill="#dadae9"/>
<rect x="396.5" y="275.55" width="10.50" height="3.16" fill="#c4c2dc"/>
<rect x="408.2" y="275.55" width="10.40" height="3.16" fill="#f0cb94"/>
<rect x="419.8" y="275.55" width="10.60" height="3.16" fill="#aeaacf"/>
<rect x="385.2" y="279.61" width="10.00" height="3.16" fill="#dadae9"/>
<rect x="396.5" y="279.61" width="10.50" height="3.16" fill="#7c74a8"/>
<rect x="408.2" y="279.61" width="10.40" height="3.16" fill="#d08a2c"/>
<rect x="419.8" y="279.61" width="10.60" height="3.16" fill="#dadae9"/>
<rect x="385.2" y="283.67" width="10.00" height="3.16" fill="#dadae9"/>
<rect x="396.5" y="283.67" width="10.50" height="3.16" fill="#958fbc"/>
<rect x="408.2" y="283.67" width="10.40" height="3.16" fill="#ebb872"/>
<rect x="419.8" y="283.67" width="10.60" height="3.16" fill="#dadae9"/>
<rect x="385.2" y="287.73" width="10.00" height="3.16" fill="#dadae9"/>
<rect x="396.5" y="287.73" width="10.50" height="3.16" fill="#dadae9"/>
<rect x="408.2" y="287.73" width="10.40" height="3.16" fill="#ebb872"/>
<rect x="419.8" y="287.73" width="10.60" height="3.16" fill="#aeaacf"/>
<rect x="385.2" y="291.79" width="10.00" height="3.16" fill="#dadae9"/>
<rect x="396.5" y="291.79" width="10.50" height="3.16" fill="#dadae9"/>
<rect x="408.2" y="291.79" width="10.40" height="3.16" fill="#ebb872"/>
<rect x="419.8" y="291.79" width="10.60" height="3.16" fill="#dadae9"/>
<rect x="385.2" y="295.85" width="10.00" height="3.16" fill="#e8e6ef"/>
<rect x="396.5" y="295.85" width="10.50" height="3.16" fill="#dadae9"/>
<rect x="408.2" y="295.85" width="10.40" height="3.16" fill="#ebb872"/>
<rect x="419.8" y="295.85" width="10.60" height="3.16" fill="#dadae9"/>
<rect x="385.2" y="299.91" width="10.00" height="3.16" fill="#dadae9"/>
<rect x="396.5" y="299.91" width="10.50" height="3.16" fill="#dadae9"/>
<rect x="408.2" y="299.91" width="10.40" height="3.16" fill="#ebb872"/>
<rect x="419.8" y="299.91" width="10.60" height="3.16" fill="#dadae9"/>
<rect x="385.2" y="303.97" width="10.00" height="3.16" fill="#dadae9"/>
<rect x="396.5" y="303.97" width="10.50" height="3.16" fill="#dadae9"/>
<rect x="408.2" y="303.97" width="10.40" height="3.16" fill="#ebb872"/>
<rect x="419.8" y="303.97" width="10.60" height="3.16" fill="#dadae9"/>
<rect x="385.2" y="308.03" width="10.00" height="3.16" fill="#dadae9"/>
<rect x="396.5" y="308.03" width="10.50" height="3.16" fill="#dadae9"/>
<rect x="408.2" y="308.03" width="10.40" height="3.16" fill="#d08a2c"/>
<rect x="419.8" y="308.03" width="10.60" height="3.16" fill="#dadae9"/>
<rect x="385.2" y="312.09" width="10.00" height="3.16" fill="#dadae9"/>
<rect x="396.5" y="312.09" width="10.50" height="3.16" fill="#958fbc"/>
<rect x="408.2" y="312.09" width="10.40" height="3.16" fill="#ebb872"/>
<rect x="419.8" y="312.09" width="10.60" height="3.16" fill="#2a0a58"/>
<rect x="385.2" y="316.15" width="10.00" height="3.16" fill="#dadae9"/>
<rect x="396.5" y="316.15" width="10.50" height="3.16" fill="#3a1b70"/>
<rect x="408.2" y="316.15" width="10.40" height="3.16" fill="#ebb872"/>
<rect x="419.8" y="316.15" width="10.60" height="3.16" fill="#aeaacf"/>
<rect x="385.2" y="320.21" width="10.00" height="3.16" fill="#d08a2c"/>
<rect x="396.5" y="320.21" width="10.50" height="3.16" fill="#f6e8d6"/>
<rect x="408.2" y="320.21" width="10.40" height="3.16" fill="#bb7221"/>
<rect x="419.8" y="320.21" width="10.60" height="3.16" fill="#bb7221"/>
<rect x="385.2" y="324.27" width="10.00" height="3.16" fill="#ebb872"/>
<rect x="396.5" y="324.27" width="10.50" height="3.16" fill="#f6deb6"/>
<rect x="408.2" y="324.27" width="10.40" height="3.16" fill="#d08a2c"/>
<rect x="419.8" y="324.27" width="10.60" height="3.16" fill="#d08a2c"/>
<rect x="385.2" y="328.33" width="10.00" height="3.16" fill="#d08a2c"/>
<rect x="396.5" y="328.33" width="10.50" height="3.16" fill="#dea14f"/>
<rect x="408.2" y="328.33" width="10.40" height="3.16" fill="#d08a2c"/>
<rect x="419.8" y="328.33" width="10.60" height="3.16" fill="#d08a2c"/>
<rect x="385.2" y="332.39" width="10.00" height="3.16" fill="#ebb872"/>
<rect x="396.5" y="332.39" width="10.50" height="3.16" fill="#dea14f"/>
<rect x="408.2" y="332.39" width="10.40" height="3.16" fill="#d08a2c"/>
<rect x="419.8" y="332.39" width="10.60" height="3.16" fill="#dea14f"/>
<rect x="385.2" y="336.45" width="10.00" height="3.16" fill="#d08a2c"/>
<rect x="396.5" y="336.45" width="10.50" height="3.16" fill="#ebb872"/>
<rect x="408.2" y="336.45" width="10.40" height="3.16" fill="#d08a2c"/>
<rect x="419.8" y="336.45" width="10.60" height="3.16" fill="#d08a2c"/>
<rect x="385.2" y="340.51" width="10.00" height="3.16" fill="#dadae9"/>
<rect x="396.5" y="340.51" width="10.50" height="3.16" fill="#dadae9"/>
<rect x="408.2" y="340.51" width="10.40" height="3.16" fill="#d08a2c"/>
<rect x="419.8" y="340.51" width="10.60" height="3.16" fill="#d08a2c"/>
<rect x="385.2" y="344.57" width="10.00" height="3.16" fill="#dadae9"/>
<rect x="396.5" y="344.57" width="10.50" height="3.16" fill="#dadae9"/>
<rect x="408.2" y="344.57" width="10.40" height="3.16" fill="#bb7221"/>
<rect x="419.8" y="344.57" width="10.60" height="3.16" fill="#904b12"/>
<rect x="385.2" y="348.63" width="10.00" height="3.16" fill="#dadae9"/>
<rect x="396.5" y="348.63" width="10.50" height="3.16" fill="#e8e6ef"/>
<rect x="408.2" y="348.63" width="10.40" height="3.16" fill="#ebb872"/>
<rect x="419.8" y="348.63" width="10.60" height="3.16" fill="#bb7221"/>
<rect x="385.2" y="352.69" width="10.00" height="3.16" fill="#f5f3f5"/>
<rect x="396.5" y="352.69" width="10.50" height="3.16" fill="#f0cb94"/>
<rect x="408.2" y="352.69" width="10.40" height="3.16" fill="#f5f3f5"/>
<rect x="419.8" y="352.69" width="10.60" height="3.16" fill="#d08a2c"/>
<rect x="385.2" y="356.75" width="10.00" height="3.16" fill="#f0cb94"/>
<rect x="396.5" y="356.75" width="10.50" height="3.16" fill="#aeaacf"/>
<rect x="408.2" y="356.75" width="10.40" height="3.16" fill="#e8e6ef"/>
<rect x="419.8" y="356.75" width="10.60" height="3.16" fill="#d08a2c"/>
<rect x="385.2" y="360.81" width="10.00" height="3.16" fill="#ebb872"/>
<rect x="396.5" y="360.81" width="10.50" height="3.16" fill="#dadae9"/>
<rect x="408.2" y="360.81" width="10.40" height="3.16" fill="#dadae9"/>
<rect x="419.8" y="360.81" width="10.60" height="3.16" fill="#d08a2c"/>
<rect x="385.2" y="364.87" width="10.00" height="3.16" fill="#dadae9"/>
<rect x="396.5" y="364.87" width="10.50" height="3.16" fill="#958fbc"/>
<rect x="408.2" y="364.87" width="10.40" height="3.16" fill="#dadae9"/>
<rect x="419.8" y="364.87" width="10.60" height="3.16" fill="#ebb872"/>
<rect x="385.2" y="368.93" width="10.00" height="3.16" fill="#dadae9"/>
<rect x="396.5" y="368.93" width="10.50" height="3.16" fill="#958fbc"/>
<rect x="408.2" y="368.93" width="10.40" height="3.16" fill="#dadae9"/>
<rect x="419.8" y="368.93" width="10.60" height="3.16" fill="#bb7221"/>
<rect x="385.2" y="372.99" width="10.00" height="3.16" fill="#dadae9"/>
<rect x="396.5" y="372.99" width="10.50" height="3.16" fill="#dadae9"/>
<rect x="408.2" y="372.99" width="10.40" height="3.16" fill="#dadae9"/>
<rect x="419.8" y="372.99" width="10.60" height="3.16" fill="#a65a16"/>
<rect x="385.2" y="377.05" width="10.00" height="3.16" fill="#dadae9"/>
<rect x="396.5" y="377.05" width="10.50" height="3.16" fill="#dadae9"/>
<rect x="408.2" y="377.05" width="10.40" height="3.16" fill="#dadae9"/>
<rect x="419.8" y="377.05" width="10.60" height="3.16" fill="#a65a16"/>
<rect x="385.2" y="381.11" width="10.00" height="3.16" fill="#dadae9"/>
<rect x="396.5" y="381.11" width="10.50" height="3.16" fill="#958fbc"/>
<rect x="408.2" y="381.11" width="10.40" height="3.16" fill="#dadae9"/>
<rect x="419.8" y="381.11" width="10.60" height="3.16" fill="#d08a2c"/>
<rect x="385.2" y="385.17" width="10.00" height="3.16" fill="#dadae9"/>
<rect x="396.5" y="385.17" width="10.50" height="3.16" fill="#dadae9"/>
<rect x="408.2" y="385.17" width="10.40" height="3.16" fill="#e8e6ef"/>
<rect x="419.8" y="385.17" width="10.60" height="3.16" fill="#ebb872"/>
<rect x="385.2" y="389.23" width="10.00" height="3.16" fill="#dadae9"/>
<rect x="396.5" y="389.23" width="10.50" height="3.16" fill="#dadae9"/>
<rect x="408.2" y="389.23" width="10.40" height="3.16" fill="#dadae9"/>
<rect x="419.8" y="389.23" width="10.60" height="3.16" fill="#d08a2c"/>
<rect x="385.2" y="393.29" width="10.00" height="3.16" fill="#dadae9"/>
<rect x="396.5" y="393.29" width="10.50" height="3.16" fill="#dadae9"/>
<rect x="408.2" y="393.29" width="10.40" height="3.16" fill="#dadae9"/>
<rect x="419.8" y="393.29" width="10.60" height="3.16" fill="#ebb872"/>
<rect x="385.2" y="397.35" width="10.00" height="3.16" fill="#dadae9"/>
<rect x="396.5" y="397.35" width="10.50" height="3.16" fill="#dadae9"/>
<rect x="408.2" y="397.35" width="10.40" height="3.16" fill="#dadae9"/>
<rect x="419.8" y="397.35" width="10.60" height="3.16" fill="#ebb872"/>
<rect x="385.2" y="401.41" width="10.00" height="3.16" fill="#dadae9"/>
<rect x="396.5" y="401.41" width="10.50" height="3.16" fill="#dadae9"/>
<rect x="408.2" y="401.41" width="10.40" height="3.16" fill="#dadae9"/>
<rect x="419.8" y="401.41" width="10.60" height="3.16" fill="#ebb872"/>
<rect x="385.2" y="405.47" width="10.00" height="3.16" fill="#e8e6ef"/>
<rect x="396.5" y="405.47" width="10.50" height="3.16" fill="#dadae9"/>
<rect x="408.2" y="405.47" width="10.40" height="3.16" fill="#e8e6ef"/>
<rect x="419.8" y="405.47" width="10.60" height="3.16" fill="#d08a2c"/>
<rect x="385.2" y="409.53" width="10.00" height="3.16" fill="#dadae9"/>
<rect x="396.5" y="409.53" width="10.50" height="3.16" fill="#dadae9"/>
<rect x="408.2" y="409.53" width="10.40" height="3.16" fill="#dadae9"/>
<rect x="419.8" y="409.53" width="10.60" height="3.16" fill="#d08a2c"/>
<rect x="385.2" y="413.59" width="10.00" height="3.16" fill="#dadae9"/>
<rect x="396.5" y="413.59" width="10.50" height="3.16" fill="#dadae9"/>
<rect x="408.2" y="413.59" width="10.40" height="3.16" fill="#dadae9"/>
<rect x="419.8" y="413.59" width="10.60" height="3.16" fill="#ebb872"/>
<rect x="385.2" y="417.65" width="10.00" height="3.16" fill="#e8e6ef"/>
<rect x="396.5" y="417.65" width="10.50" height="3.16" fill="#dadae9"/>
<rect x="408.2" y="417.65" width="10.40" height="3.16" fill="#e8e6ef"/>
<rect x="419.8" y="417.65" width="10.60" height="3.16" fill="#ebb872"/>
<rect x="385.2" y="421.71" width="10.00" height="3.16" fill="#e8e6ef"/>
<rect x="396.5" y="421.71" width="10.50" height="3.16" fill="#dadae9"/>
<rect x="408.2" y="421.71" width="10.40" height="3.16" fill="#e8e6ef"/>
<rect x="419.8" y="421.71" width="10.60" height="3.16" fill="#f0cb94"/>
<text x="434.20" y="14.93" font-size="4.7" text-anchor="start" fill="#111" >EGR1</text>
<text x="434.20" y="18.99" font-size="4.7" text-anchor="start" fill="#111" >EGR3</text>
<text x="434.20" y="23.05" font-size="4.7" text-anchor="start" fill="#111" >FOSL2</text>
<text x="434.20" y="27.11" font-size="4.7" text-anchor="start" fill="#111" >IL15RA</text>
<text x="434.20" y="31.17" font-size="4.7" text-anchor="start" fill="#111" >SPSB1</text>
<text x="434.20" y="35.23" font-size="4.7" text-anchor="start" fill="#111" >PHLDA1</text>
<text x="434.20" y="39.29" font-size="4.7" text-anchor="start" fill="#111" >FJX1</text>
<text x="434.20" y="43.35" font-size="4.7" text-anchor="start" fill="#111" >PTGS2</text>
<text x="434.20" y="47.41" font-size="4.7" text-anchor="start" fill="#111" >ICOSLG</text>
<text x="434.20" y="51.47" font-size="4.7" text-anchor="start" fill="#111" >TNFSF9</text>
<text x="434.20" y="55.53" font-size="4.7" text-anchor="start" fill="#111" >CLCF1</text>
<text x="434.20" y="59.59" font-size="4.7" text-anchor="start" fill="#111" >HBEGF</text>
<text x="434.20" y="63.65" font-size="4.7" text-anchor="start" fill="#111" >PLAU</text>
<text x="434.20" y="67.71" font-size="4.7" text-anchor="start" fill="#111" >TNIP2</text>
<text x="434.20" y="71.77" font-size="4.7" text-anchor="start" fill="#111" >TLR2</text>
<text x="434.20" y="75.83" font-size="4.7" text-anchor="start" fill="#111" >CEBPD</text>
<text x="434.20" y="79.89" font-size="4.7" text-anchor="start" fill="#111" >DUSP5</text>
<text x="434.20" y="83.95" font-size="4.7" text-anchor="start" fill="#111" >DUSP4</text>
<text x="434.20" y="88.01" font-size="4.7" text-anchor="start" fill="#111" >MXD1</text>
<text x="434.20" y="92.07" font-size="4.7" text-anchor="start" fill="#111" >RNF19B</text>
<text x="434.20" y="96.13" font-size="4.7" text-anchor="start" fill="#111" >FUT4</text>
<text x="434.20" y="100.19" font-size="4.7" text-anchor="start" fill="#111" >NFKBIE</text>
<text x="434.20" y="104.25" font-size="4.7" text-anchor="start" fill="#111" >CD83</text>
<text x="434.20" y="108.31" font-size="4.7" text-anchor="start" fill="#111" >MAFF</text>
<text x="434.20" y="112.37" font-size="4.7" text-anchor="start" fill="#111" >TNFAIP8</text>
<text x="434.20" y="116.43" font-size="4.7" text-anchor="start" fill="#111" >PANX1</text>
<text x="434.20" y="120.49" font-size="4.7" text-anchor="start" fill="#111" >DNAJB4</text>
<text x="434.20" y="124.55" font-size="4.7" text-anchor="start" fill="#111" >ATF3</text>
<text x="434.20" y="128.61" font-size="4.7" text-anchor="start" fill="#111" >NR4A3</text>
<text x="434.20" y="132.67" font-size="4.7" text-anchor="start" fill="#111" >CDKN1A</text>
<text x="434.20" y="136.73" font-size="4.7" text-anchor="start" fill="#111" >IFNGR2</text>
<text x="434.20" y="140.79" font-size="4.7" text-anchor="start" fill="#111" >BTG3</text>
<text x="434.20" y="144.85" font-size="4.7" text-anchor="start" fill="#111" >IFITM1</text>
<text x="434.20" y="148.91" font-size="4.7" text-anchor="start" fill="#111" >DDX58</text>
<text x="434.20" y="152.97" font-size="4.7" text-anchor="start" fill="#111" >ZC3H12A</text>
<text x="434.20" y="157.03" font-size="4.7" text-anchor="start" fill="#111" >PPP1R15A</text>
<text x="434.20" y="161.09" font-size="4.7" text-anchor="start" fill="#111" >IL6ST</text>
<text x="434.20" y="165.15" font-size="4.7" text-anchor="start" fill="#111" >B4GALT1</text>
<text x="434.20" y="169.21" font-size="4.7" text-anchor="start" fill="#111" >BHLHE40</text>
<text x="434.20" y="173.27" font-size="4.7" text-anchor="start" fill="#111" >EHD1</text>
<text x="434.20" y="177.33" font-size="4.7" text-anchor="start" fill="#111" >GADD45A</text>
<text x="434.20" y="181.39" font-size="4.7" text-anchor="start" fill="#111" >CEBPB</text>
<text x="434.20" y="185.45" font-size="4.7" text-anchor="start" fill="#111" >GFPT2</text>
<text x="434.20" y="189.51" font-size="4.7" text-anchor="start" fill="#111" >TNFAIP2</text>
<text x="434.20" y="193.57" font-size="4.7" text-anchor="start" fill="#111" >ATP2B1</text>
<text x="434.20" y="197.63" font-size="4.7" text-anchor="start" fill="#111" >NFKB1</text>
<text x="434.20" y="201.69" font-size="4.7" text-anchor="start" fill="#111" >GNA15</text>
<text x="434.20" y="205.75" font-size="4.7" text-anchor="start" fill="#111" >TNFAIP3</text>
<text x="434.20" y="209.81" font-size="4.7" text-anchor="start" fill="#111" >CEBPA</text>
<text x="434.20" y="213.87" font-size="4.7" text-anchor="start" fill="#111" >ZFP36</text>
<text x="434.20" y="217.93" font-size="4.7" text-anchor="start" fill="#111" >CCRL2</text>
<text x="434.20" y="221.99" font-size="4.7" text-anchor="start" fill="#111" >NFE2L2</text>
<text x="434.20" y="226.05" font-size="4.7" text-anchor="start" fill="#111" >TRIP10</text>
<text x="434.20" y="230.11" font-size="4.7" text-anchor="start" fill="#111" >PFKFB3</text>
<text x="434.20" y="234.17" font-size="4.7" text-anchor="start" fill="#111" >KDM6B</text>
<text x="434.20" y="238.23" font-size="4.7" text-anchor="start" fill="#111" >B4GALT5</text>
<text x="434.20" y="242.29" font-size="4.7" text-anchor="start" fill="#111" >RCAN1</text>
<text x="434.20" y="246.35" font-size="4.7" text-anchor="start" fill="#111" >SERPINE1</text>
<text x="434.20" y="250.41" font-size="4.7" text-anchor="start" fill="#111" >SGK1</text>
<text x="434.20" y="254.47" font-size="4.7" text-anchor="start" fill="#111" >KLF6</text>
<text x="434.20" y="258.53" font-size="4.7" text-anchor="start" fill="#111" >SMAD3</text>
<text x="434.20" y="262.59" font-size="4.7" text-anchor="start" fill="#111" >NFIL3</text>
<text x="434.20" y="266.65" font-size="4.7" text-anchor="start" fill="#111" >TRIB1</text>
<text x="434.20" y="270.71" font-size="4.7" text-anchor="start" fill="#111" >PTPRE</text>
<text x="434.20" y="274.77" font-size="4.7" text-anchor="start" fill="#111" >MCL1</text>
<text x="434.20" y="278.83" font-size="4.7" text-anchor="start" fill="#111" >IER5</text>
<text x="434.20" y="282.89" font-size="4.7" text-anchor="start" fill="#111" >RHOB</text>
<text x="434.20" y="286.95" font-size="4.7" text-anchor="start" fill="#111" >IRS2</text>
<text x="434.20" y="291.01" font-size="4.7" text-anchor="start" fill="#111" >PTX3</text>
<text x="434.20" y="295.07" font-size="4.7" text-anchor="start" fill="#111" >SAT1</text>
<text x="434.20" y="299.13" font-size="4.7" text-anchor="start" fill="#111" >IER2</text>
<text x="434.20" y="303.19" font-size="4.7" text-anchor="start" fill="#111" >EFNA1</text>
<text x="434.20" y="307.25" font-size="4.7" text-anchor="start" fill="#111" >IER3</text>
<text x="434.20" y="311.31" font-size="4.7" text-anchor="start" fill="#111" >SOCS3</text>
<text x="434.20" y="315.37" font-size="4.7" text-anchor="start" fill="#111" >ABCA1</text>
<text x="434.20" y="319.43" font-size="4.7" text-anchor="start" fill="#111" >KLF4</text>
<text x="434.20" y="323.49" font-size="4.7" text-anchor="start" fill="#111" >MARCKS</text>
<text x="434.20" y="327.55" font-size="4.7" text-anchor="start" fill="#111" >MYC</text>
<text x="434.20" y="331.61" font-size="4.7" text-anchor="start" fill="#111" >PNRC1</text>
<text x="434.20" y="335.67" font-size="4.7" text-anchor="start" fill="#111" >PHLDA2</text>
<text x="434.20" y="339.73" font-size="4.7" text-anchor="start" fill="#111" >GADD45B</text>
<text x="434.20" y="343.79" font-size="4.7" text-anchor="start" fill="#111" >PHLDA3</text>
<text x="434.20" y="347.85" font-size="4.7" text-anchor="start" fill="#111" >CD44</text>
<text x="434.20" y="351.91" font-size="4.7" text-anchor="start" fill="#111" >IER3</text>
<text x="434.20" y="355.97" font-size="4.7" text-anchor="start" fill="#111" >LIF</text>
<text x="434.20" y="360.03" font-size="4.7" text-anchor="start" fill="#111" >SIK1</text>
<text x="434.20" y="364.09" font-size="4.7" text-anchor="start" fill="#111" >SLC16A6</text>
<text x="434.20" y="368.15" font-size="4.7" text-anchor="start" fill="#111" >ID2</text>
<text x="434.20" y="372.21" font-size="4.7" text-anchor="start" fill="#111" >BCL3</text>
<text x="434.20" y="376.27" font-size="4.7" text-anchor="start" fill="#111" >CCND1</text>
<text x="434.20" y="380.33" font-size="4.7" text-anchor="start" fill="#111" >JUN</text>
<text x="434.20" y="384.39" font-size="4.7" text-anchor="start" fill="#111" >FOSL1</text>
<text x="434.20" y="388.45" font-size="4.7" text-anchor="start" fill="#111" >PLK2</text>
<text x="434.20" y="392.51" font-size="4.7" text-anchor="start" fill="#111" >SLC2A6</text>
<text x="434.20" y="396.57" font-size="4.7" text-anchor="start" fill="#111" >RELA</text>
<text x="434.20" y="400.63" font-size="4.7" text-anchor="start" fill="#111" >SPHK1</text>
<text x="434.20" y="404.69" font-size="4.7" text-anchor="start" fill="#111" >VEGFA</text>
<text x="434.20" y="408.75" font-size="4.7" text-anchor="start" fill="#111" >ADORA2A</text>
<text x="434.20" y="412.81" font-size="4.7" text-anchor="start" fill="#111" >EIF1</text>
<text x="434.20" y="416.87" font-size="4.7" text-anchor="start" fill="#111" >SOD2</text>
<text x="434.20" y="420.93" font-size="4.7" text-anchor="start" fill="#111" >GEM</text>
<text x="434.20" y="424.99" font-size="4.7" text-anchor="start" fill="#111" >NFKB2</text>
<rect x="460.1" y="12.30" width="5.30" height="4.56" fill="#66bb5e"/>
<rect x="465.1" y="12.30" width="5.20" height="4.56" fill="#e60000"/>
<rect x="470.0" y="12.30" width="5.20" height="4.56" fill="#66bb5e"/>
<rect x="474.9" y="12.30" width="5.30" height="4.56" fill="#66bb5e"/>
<rect x="460.1" y="16.37" width="5.30" height="4.56" fill="#e60000"/>
<rect x="465.1" y="16.37" width="5.20" height="4.56" fill="#66bb5e"/>
<rect x="470.0" y="16.37" width="5.20" height="4.56" fill="#66bb5e"/>
<rect x="474.9" y="16.37" width="5.30" height="4.56" fill="#e60000"/>
<rect x="460.1" y="20.43" width="5.30" height="4.56" fill="#e60000"/>
<rect x="465.1" y="20.43" width="5.20" height="4.56" fill="#66bb5e"/>
<rect x="470.0" y="20.43" width="5.20" height="4.56" fill="#e60000"/>
<rect x="474.9" y="20.43" width="5.30" height="4.56" fill="#66bb5e"/>
<rect x="460.1" y="24.50" width="5.30" height="4.56" fill="#e60000"/>
<rect x="465.1" y="24.50" width="5.20" height="4.56" fill="#66bb5e"/>
<rect x="470.0" y="24.50" width="5.20" height="4.56" fill="#e60000"/>
<rect x="474.9" y="24.50" width="5.30" height="4.56" fill="#66bb5e"/>
<rect x="460.1" y="28.56" width="5.30" height="4.56" fill="#e60000"/>
<rect x="465.1" y="28.56" width="5.20" height="4.56" fill="#66bb5e"/>
<rect x="470.0" y="28.56" width="5.20" height="4.56" fill="#e60000"/>
<rect x="474.9" y="28.56" width="5.30" height="4.56" fill="#e60000"/>
<rect x="460.1" y="32.62" width="5.30" height="4.56" fill="#e60000"/>
<rect x="465.1" y="32.62" width="5.20" height="4.56" fill="#66bb5e"/>
<rect x="470.0" y="32.62" width="5.20" height="4.56" fill="#e60000"/>
<rect x="474.9" y="32.62" width="5.30" height="4.56" fill="#66bb5e"/>
<rect x="460.1" y="36.69" width="5.30" height="4.56" fill="#e60000"/>
<rect x="465.1" y="36.69" width="5.20" height="4.56" fill="#66bb5e"/>
<rect x="470.0" y="36.69" width="5.20" height="4.56" fill="#e60000"/>
<rect x="474.9" y="36.69" width="5.30" height="4.56" fill="#66bb5e"/>
<rect x="460.1" y="40.76" width="5.30" height="4.56" fill="#e60000"/>
<rect x="465.1" y="40.76" width="5.20" height="4.56" fill="#66bb5e"/>
<rect x="470.0" y="40.76" width="5.20" height="4.56" fill="#e60000"/>
<rect x="474.9" y="40.76" width="5.30" height="4.56" fill="#e60000"/>
<rect x="460.1" y="44.82" width="5.30" height="4.56" fill="#e60000"/>
<rect x="465.1" y="44.82" width="5.20" height="4.56" fill="#66bb5e"/>
<rect x="470.0" y="44.82" width="5.20" height="4.56" fill="#e60000"/>
<rect x="474.9" y="44.82" width="5.30" height="4.56" fill="#e60000"/>
<rect x="460.1" y="48.89" width="5.30" height="4.56" fill="#e60000"/>
<rect x="465.1" y="48.89" width="5.20" height="4.56" fill="#66bb5e"/>
<rect x="470.0" y="48.89" width="5.20" height="4.56" fill="#66bb5e"/>
<rect x="474.9" y="48.89" width="5.30" height="4.56" fill="#66bb5e"/>
<rect x="460.1" y="52.95" width="5.30" height="4.56" fill="#e60000"/>
<rect x="465.1" y="52.95" width="5.20" height="4.56" fill="#66bb5e"/>
<rect x="470.0" y="52.95" width="5.20" height="4.56" fill="#e60000"/>
<rect x="474.9" y="52.95" width="5.30" height="4.56" fill="#e60000"/>
<rect x="460.1" y="57.02" width="5.30" height="4.56" fill="#66bb5e"/>
<rect x="465.1" y="57.02" width="5.20" height="4.56" fill="#66bb5e"/>
<rect x="470.0" y="57.02" width="5.20" height="4.56" fill="#66bb5e"/>
<rect x="474.9" y="57.02" width="5.30" height="4.56" fill="#66bb5e"/>
<rect x="460.1" y="61.08" width="5.30" height="4.56" fill="#e60000"/>
<rect x="465.1" y="61.08" width="5.20" height="4.56" fill="#e60000"/>
<rect x="470.0" y="61.08" width="5.20" height="4.56" fill="#e60000"/>
<rect x="474.9" y="61.08" width="5.30" height="4.56" fill="#66bb5e"/>
<rect x="460.1" y="65.15" width="5.30" height="4.56" fill="#e60000"/>
<rect x="465.1" y="65.15" width="5.20" height="4.56" fill="#66bb5e"/>
<rect x="470.0" y="65.15" width="5.20" height="4.56" fill="#e60000"/>
<rect x="474.9" y="65.15" width="5.30" height="4.56" fill="#66bb5e"/>
<rect x="460.1" y="69.21" width="5.30" height="4.56" fill="#66bb5e"/>
<rect x="465.1" y="69.21" width="5.20" height="4.56" fill="#66bb5e"/>
<rect x="470.0" y="69.21" width="5.20" height="4.56" fill="#66bb5e"/>
<rect x="474.9" y="69.21" width="5.30" height="4.56" fill="#66bb5e"/>
<rect x="460.1" y="73.28" width="5.30" height="4.56" fill="#e60000"/>
<rect x="465.1" y="73.28" width="5.20" height="4.56" fill="#66bb5e"/>
<rect x="470.0" y="73.28" width="5.20" height="4.56" fill="#e60000"/>
<rect x="474.9" y="73.28" width="5.30" height="4.56" fill="#66bb5e"/>
<rect x="460.1" y="77.34" width="5.30" height="4.56" fill="#e60000"/>
<rect x="465.1" y="77.34" width="5.20" height="4.56" fill="#66bb5e"/>
<rect x="470.0" y="77.34" width="5.20" height="4.56" fill="#e60000"/>
<rect x="474.9" y="77.34" width="5.30" height="4.56" fill="#e60000"/>
<rect x="460.1" y="81.41" width="5.30" height="4.56" fill="#e60000"/>
<rect x="465.1" y="81.41" width="5.20" height="4.56" fill="#66bb5e"/>
<rect x="470.0" y="81.41" width="5.20" height="4.56" fill="#e60000"/>
<rect x="474.9" y="81.41" width="5.30" height="4.56" fill="#66bb5e"/>
<rect x="460.1" y="85.47" width="5.30" height="4.56" fill="#e60000"/>
<rect x="465.1" y="85.47" width="5.20" height="4.56" fill="#66bb5e"/>
<rect x="470.0" y="85.47" width="5.20" height="4.56" fill="#66bb5e"/>
<rect x="474.9" y="85.47" width="5.30" height="4.56" fill="#66bb5e"/>
<rect x="460.1" y="89.54" width="5.30" height="4.56" fill="#e60000"/>
<rect x="465.1" y="89.54" width="5.20" height="4.56" fill="#66bb5e"/>
<rect x="470.0" y="89.54" width="5.20" height="4.56" fill="#66bb5e"/>
<rect x="474.9" y="89.54" width="5.30" height="4.56" fill="#66bb5e"/>
<rect x="460.1" y="93.60" width="5.30" height="4.56" fill="#e60000"/>
<rect x="465.1" y="93.60" width="5.20" height="4.56" fill="#e60000"/>
<rect x="470.0" y="93.60" width="5.20" height="4.56" fill="#66bb5e"/>
<rect x="474.9" y="93.60" width="5.30" height="4.56" fill="#66bb5e"/>
<rect x="460.1" y="97.67" width="5.30" height="4.56" fill="#e60000"/>
<rect x="465.1" y="97.67" width="5.20" height="4.56" fill="#66bb5e"/>
<rect x="470.0" y="97.67" width="5.20" height="4.56" fill="#e60000"/>
<rect x="474.9" y="97.67" width="5.30" height="4.56" fill="#66bb5e"/>
<rect x="460.1" y="101.73" width="5.30" height="4.56" fill="#e60000"/>
<rect x="465.1" y="101.73" width="5.20" height="4.56" fill="#66bb5e"/>
<rect x="470.0" y="101.73" width="5.20" height="4.56" fill="#e60000"/>
<rect x="474.9" y="101.73" width="5.30" height="4.56" fill="#66bb5e"/>
<rect x="460.1" y="105.80" width="5.30" height="4.56" fill="#e60000"/>
<rect x="465.1" y="105.80" width="5.20" height="4.56" fill="#e60000"/>
<rect x="470.0" y="105.80" width="5.20" height="4.56" fill="#e60000"/>
<rect x="474.9" y="105.80" width="5.30" height="4.56" fill="#66bb5e"/>
<rect x="460.1" y="109.86" width="5.30" height="4.56" fill="#e60000"/>
<rect x="465.1" y="109.86" width="5.20" height="4.56" fill="#66bb5e"/>
<rect x="470.0" y="109.86" width="5.20" height="4.56" fill="#66bb5e"/>
<rect x="474.9" y="109.86" width="5.30" height="4.56" fill="#66bb5e"/>
<rect x="460.1" y="113.93" width="5.30" height="4.56" fill="#e60000"/>
<rect x="465.1" y="113.93" width="5.20" height="4.56" fill="#e60000"/>
<rect x="470.0" y="113.93" width="5.20" height="4.56" fill="#e60000"/>
<rect x="474.9" y="113.93" width="5.30" height="4.56" fill="#66bb5e"/>
<rect x="460.1" y="117.99" width="5.30" height="4.56" fill="#e60000"/>
<rect x="465.1" y="117.99" width="5.20" height="4.56" fill="#66bb5e"/>
<rect x="470.0" y="117.99" width="5.20" height="4.56" fill="#66bb5e"/>
<rect x="474.9" y="117.99" width="5.30" height="4.56" fill="#66bb5e"/>
<rect x="460.1" y="122.06" width="5.30" height="4.56" fill="#e60000"/>
<rect x="465.1" y="122.06" width="5.20" height="4.56" fill="#66bb5e"/>
<rect x="470.0" y="122.06" width="5.20" height="4.56" fill="#e60000"/>
<rect x="474.9" y="122.06" width="5.30" height="4.56" fill="#66bb5e"/>
<rect x="460.1" y="126.12" width="5.30" height="4.56" fill="#e60000"/>
<rect x="465.1" y="126.12" width="5.20" height="4.56" fill="#66bb5e"/>
<rect x="470.0" y="126.12" width="5.20" height="4.56" fill="#66bb5e"/>
<rect x="474.9" y="126.12" width="5.30" height="4.56" fill="#e60000"/>
<rect x="460.1" y="130.19" width="5.30" height="4.56" fill="#e60000"/>
<rect x="465.1" y="130.19" width="5.20" height="4.56" fill="#66bb5e"/>
<rect x="470.0" y="130.19" width="5.20" height="4.56" fill="#66bb5e"/>
<rect x="474.9" y="130.19" width="5.30" height="4.56" fill="#66bb5e"/>
<rect x="460.1" y="134.25" width="5.30" height="4.56" fill="#66bb5e"/>
<rect x="465.1" y="134.25" width="5.20" height="4.56" fill="#66bb5e"/>
<rect x="470.0" y="134.25" width="5.20" height="4.56" fill="#66bb5e"/>
<rect x="474.9" y="134.25" width="5.30" height="4.56" fill="#66bb5e"/>
<rect x="460.1" y="138.32" width="5.30" height="4.56" fill="#e60000"/>
<rect x="465.1" y="138.32" width="5.20" height="4.56" fill="#66bb5e"/>
<rect x="470.0" y="138.32" width="5.20" height="4.56" fill="#66bb5e"/>
<rect x="474.9" y="138.32" width="5.30" height="4.56" fill="#e60000"/>
<rect x="460.1" y="142.38" width="5.30" height="4.56" fill="#e60000"/>
<rect x="465.1" y="142.38" width="5.20" height="4.56" fill="#66bb5e"/>
<rect x="470.0" y="142.38" width="5.20" height="4.56" fill="#66bb5e"/>
<rect x="474.9" y="142.38" width="5.30" height="4.56" fill="#66bb5e"/>
<rect x="460.1" y="146.45" width="5.30" height="4.56" fill="#e60000"/>
<rect x="465.1" y="146.45" width="5.20" height="4.56" fill="#66bb5e"/>
<rect x="470.0" y="146.45" width="5.20" height="4.56" fill="#66bb5e"/>
<rect x="474.9" y="146.45" width="5.30" height="4.56" fill="#66bb5e"/>
<rect x="460.1" y="150.51" width="5.30" height="4.56" fill="#e60000"/>
<rect x="465.1" y="150.51" width="5.20" height="4.56" fill="#e60000"/>
<rect x="470.0" y="150.51" width="5.20" height="4.56" fill="#66bb5e"/>
<rect x="474.9" y="150.51" width="5.30" height="4.56" fill="#66bb5e"/>
<rect x="460.1" y="154.58" width="5.30" height="4.56" fill="#e60000"/>
<rect x="465.1" y="154.58" width="5.20" height="4.56" fill="#66bb5e"/>
<rect x="470.0" y="154.58" width="5.20" height="4.56" fill="#e60000"/>
<rect x="474.9" y="154.58" width="5.30" height="4.56" fill="#e60000"/>
<rect x="460.1" y="158.64" width="5.30" height="4.56" fill="#e60000"/>
<rect x="465.1" y="158.64" width="5.20" height="4.56" fill="#66bb5e"/>
<rect x="470.0" y="158.64" width="5.20" height="4.56" fill="#e60000"/>
<rect x="474.9" y="158.64" width="5.30" height="4.56" fill="#e60000"/>
<rect x="460.1" y="162.71" width="5.30" height="4.56" fill="#e60000"/>
<rect x="465.1" y="162.71" width="5.20" height="4.56" fill="#66bb5e"/>
<rect x="470.0" y="162.71" width="5.20" height="4.56" fill="#66bb5e"/>
<rect x="474.9" y="162.71" width="5.30" height="4.56" fill="#e60000"/>
<rect x="460.1" y="166.77" width="5.30" height="4.56" fill="#e60000"/>
<rect x="465.1" y="166.77" width="5.20" height="4.56" fill="#66bb5e"/>
<rect x="470.0" y="166.77" width="5.20" height="4.56" fill="#e60000"/>
<rect x="474.9" y="166.77" width="5.30" height="4.56" fill="#66bb5e"/>
<rect x="460.1" y="170.84" width="5.30" height="4.56" fill="#66bb5e"/>
<rect x="465.1" y="170.84" width="5.20" height="4.56" fill="#66bb5e"/>
<rect x="470.0" y="170.84" width="5.20" height="4.56" fill="#e60000"/>
<rect x="474.9" y="170.84" width="5.30" height="4.56" fill="#e60000"/>
<rect x="460.1" y="174.90" width="5.30" height="4.56" fill="#e60000"/>
<rect x="465.1" y="174.90" width="5.20" height="4.56" fill="#66bb5e"/>
<rect x="470.0" y="174.90" width="5.20" height="4.56" fill="#e60000"/>
<rect x="474.9" y="174.90" width="5.30" height="4.56" fill="#e60000"/>
<rect x="460.1" y="178.97" width="5.30" height="4.56" fill="#e60000"/>
<rect x="465.1" y="178.97" width="5.20" height="4.56" fill="#66bb5e"/>
<rect x="470.0" y="178.97" width="5.20" height="4.56" fill="#e60000"/>
<rect x="474.9" y="178.97" width="5.30" height="4.56" fill="#e60000"/>
<rect x="460.1" y="183.03" width="5.30" height="4.56" fill="#e60000"/>
<rect x="465.1" y="183.03" width="5.20" height="4.56" fill="#e60000"/>
<rect x="470.0" y="183.03" width="5.20" height="4.56" fill="#e60000"/>
<rect x="474.9" y="183.03" width="5.30" height="4.56" fill="#66bb5e"/>
<rect x="460.1" y="187.10" width="5.30" height="4.56" fill="#e60000"/>
<rect x="465.1" y="187.10" width="5.20" height="4.56" fill="#66bb5e"/>
<rect x="470.0" y="187.10" width="5.20" height="4.56" fill="#66bb5e"/>
<rect x="474.9" y="187.10" width="5.30" height="4.56" fill="#e60000"/>
<rect x="460.1" y="191.16" width="5.30" height="4.56" fill="#e60000"/>
<rect x="465.1" y="191.16" width="5.20" height="4.56" fill="#e60000"/>
<rect x="470.0" y="191.16" width="5.20" height="4.56" fill="#e60000"/>
<rect x="474.9" y="191.16" width="5.30" height="4.56" fill="#66bb5e"/>
<rect x="460.1" y="195.23" width="5.30" height="4.56" fill="#e60000"/>
<rect x="465.1" y="195.23" width="5.20" height="4.56" fill="#e60000"/>
<rect x="470.0" y="195.23" width="5.20" height="4.56" fill="#e60000"/>
<rect x="474.9" y="195.23" width="5.30" height="4.56" fill="#e60000"/>
<rect x="460.1" y="199.29" width="5.30" height="4.56" fill="#e60000"/>
<rect x="465.1" y="199.29" width="5.20" height="4.56" fill="#e60000"/>
<rect x="470.0" y="199.29" width="5.20" height="4.56" fill="#e60000"/>
<rect x="474.9" y="199.29" width="5.30" height="4.56" fill="#66bb5e"/>
<rect x="460.1" y="203.36" width="5.30" height="4.56" fill="#e60000"/>
<rect x="465.1" y="203.36" width="5.20" height="4.56" fill="#e60000"/>
<rect x="470.0" y="203.36" width="5.20" height="4.56" fill="#e60000"/>
<rect x="474.9" y="203.36" width="5.30" height="4.56" fill="#66bb5e"/>
<rect x="460.1" y="207.42" width="5.30" height="4.56" fill="#e60000"/>
<rect x="465.1" y="207.42" width="5.20" height="4.56" fill="#e60000"/>
<rect x="470.0" y="207.42" width="5.20" height="4.56" fill="#e60000"/>
<rect x="474.9" y="207.42" width="5.30" height="4.56" fill="#66bb5e"/>
<rect x="460.1" y="211.49" width="5.30" height="4.56" fill="#e60000"/>
<rect x="465.1" y="211.49" width="5.20" height="4.56" fill="#66bb5e"/>
<rect x="470.0" y="211.49" width="5.20" height="4.56" fill="#66bb5e"/>
<rect x="474.9" y="211.49" width="5.30" height="4.56" fill="#66bb5e"/>
<rect x="460.1" y="215.55" width="5.30" height="4.56" fill="#e60000"/>
<rect x="465.1" y="215.55" width="5.20" height="4.56" fill="#66bb5e"/>
<rect x="470.0" y="215.55" width="5.20" height="4.56" fill="#66bb5e"/>
<rect x="474.9" y="215.55" width="5.30" height="4.56" fill="#66bb5e"/>
<rect x="460.1" y="219.62" width="5.30" height="4.56" fill="#e60000"/>
<rect x="465.1" y="219.62" width="5.20" height="4.56" fill="#66bb5e"/>
<rect x="470.0" y="219.62" width="5.20" height="4.56" fill="#66bb5e"/>
<rect x="474.9" y="219.62" width="5.30" height="4.56" fill="#66bb5e"/>
<rect x="460.1" y="223.68" width="5.30" height="4.56" fill="#e60000"/>
<rect x="465.1" y="223.68" width="5.20" height="4.56" fill="#66bb5e"/>
<rect x="470.0" y="223.68" width="5.20" height="4.56" fill="#e60000"/>
<rect x="474.9" y="223.68" width="5.30" height="4.56" fill="#66bb5e"/>
<rect x="460.1" y="227.75" width="5.30" height="4.56" fill="#66bb5e"/>
<rect x="465.1" y="227.75" width="5.20" height="4.56" fill="#66bb5e"/>
<rect x="470.0" y="227.75" width="5.20" height="4.56" fill="#e60000"/>
<rect x="474.9" y="227.75" width="5.30" height="4.56" fill="#66bb5e"/>
<rect x="460.1" y="231.81" width="5.30" height="4.56" fill="#e60000"/>
<rect x="465.1" y="231.81" width="5.20" height="4.56" fill="#66bb5e"/>
<rect x="470.0" y="231.81" width="5.20" height="4.56" fill="#e60000"/>
<rect x="474.9" y="231.81" width="5.30" height="4.56" fill="#66bb5e"/>
<rect x="460.1" y="235.88" width="5.30" height="4.56" fill="#e60000"/>
<rect x="465.1" y="235.88" width="5.20" height="4.56" fill="#e60000"/>
<rect x="470.0" y="235.88" width="5.20" height="4.56" fill="#e60000"/>
<rect x="474.9" y="235.88" width="5.30" height="4.56" fill="#66bb5e"/>
<rect x="460.1" y="239.94" width="5.30" height="4.56" fill="#e60000"/>
<rect x="465.1" y="239.94" width="5.20" height="4.56" fill="#e60000"/>
<rect x="470.0" y="239.94" width="5.20" height="4.56" fill="#e60000"/>
<rect x="474.9" y="239.94" width="5.30" height="4.56" fill="#e60000"/>
<rect x="460.1" y="244.01" width="5.30" height="4.56" fill="#e60000"/>
<rect x="465.1" y="244.01" width="5.20" height="4.56" fill="#66bb5e"/>
<rect x="470.0" y="244.01" width="5.20" height="4.56" fill="#e60000"/>
<rect x="474.9" y="244.01" width="5.30" height="4.56" fill="#66bb5e"/>
<rect x="460.1" y="248.07" width="5.30" height="4.56" fill="#e60000"/>
<rect x="465.1" y="248.07" width="5.20" height="4.56" fill="#66bb5e"/>
<rect x="470.0" y="248.07" width="5.20" height="4.56" fill="#e60000"/>
<rect x="474.9" y="248.07" width="5.30" height="4.56" fill="#66bb5e"/>
<rect x="460.1" y="252.14" width="5.30" height="4.56" fill="#e60000"/>
<rect x="465.1" y="252.14" width="5.20" height="4.56" fill="#e60000"/>
<rect x="470.0" y="252.14" width="5.20" height="4.56" fill="#e60000"/>
<rect x="474.9" y="252.14" width="5.30" height="4.56" fill="#66bb5e"/>
<rect x="460.1" y="256.20" width="5.30" height="4.56" fill="#e60000"/>
<rect x="465.1" y="256.20" width="5.20" height="4.56" fill="#66bb5e"/>
<rect x="470.0" y="256.20" width="5.20" height="4.56" fill="#66bb5e"/>
<rect x="474.9" y="256.20" width="5.30" height="4.56" fill="#66bb5e"/>
<rect x="460.1" y="260.27" width="5.30" height="4.56" fill="#e60000"/>
<rect x="465.1" y="260.27" width="5.20" height="4.56" fill="#66bb5e"/>
<rect x="470.0" y="260.27" width="5.20" height="4.56" fill="#e60000"/>
<rect x="474.9" y="260.27" width="5.30" height="4.56" fill="#66bb5e"/>
<rect x="460.1" y="264.33" width="5.30" height="4.56" fill="#e60000"/>
<rect x="465.1" y="264.33" width="5.20" height="4.56" fill="#66bb5e"/>
<rect x="470.0" y="264.33" width="5.20" height="4.56" fill="#66bb5e"/>
<rect x="474.9" y="264.33" width="5.30" height="4.56" fill="#e60000"/>
<rect x="460.1" y="268.40" width="5.30" height="4.56" fill="#e60000"/>
<rect x="465.1" y="268.40" width="5.20" height="4.56" fill="#66bb5e"/>
<rect x="470.0" y="268.40" width="5.20" height="4.56" fill="#e60000"/>
<rect x="474.9" y="268.40" width="5.30" height="4.56" fill="#66bb5e"/>
<rect x="460.1" y="272.46" width="5.30" height="4.56" fill="#e60000"/>
<rect x="465.1" y="272.46" width="5.20" height="4.56" fill="#66bb5e"/>
<rect x="470.0" y="272.46" width="5.20" height="4.56" fill="#e60000"/>
<rect x="474.9" y="272.46" width="5.30" height="4.56" fill="#66bb5e"/>
<rect x="460.1" y="276.53" width="5.30" height="4.56" fill="#e60000"/>
<rect x="465.1" y="276.53" width="5.20" height="4.56" fill="#66bb5e"/>
<rect x="470.0" y="276.53" width="5.20" height="4.56" fill="#66bb5e"/>
<rect x="474.9" y="276.53" width="5.30" height="4.56" fill="#66bb5e"/>
<rect x="460.1" y="280.59" width="5.30" height="4.56" fill="#e60000"/>
<rect x="465.1" y="280.59" width="5.20" height="4.56" fill="#66bb5e"/>
<rect x="470.0" y="280.59" width="5.20" height="4.56" fill="#e60000"/>
<rect x="474.9" y="280.59" width="5.30" height="4.56" fill="#66bb5e"/>
<rect x="460.1" y="284.66" width="5.30" height="4.56" fill="#66bb5e"/>
<rect x="465.1" y="284.66" width="5.20" height="4.56" fill="#66bb5e"/>
<rect x="470.0" y="284.66" width="5.20" height="4.56" fill="#66bb5e"/>
<rect x="474.9" y="284.66" width="5.30" height="4.56" fill="#66bb5e"/>
<rect x="460.1" y="288.72" width="5.30" height="4.56" fill="#e60000"/>
<rect x="465.1" y="288.72" width="5.20" height="4.56" fill="#66bb5e"/>
<rect x="470.0" y="288.72" width="5.20" height="4.56" fill="#e60000"/>
<rect x="474.9" y="288.72" width="5.30" height="4.56" fill="#66bb5e"/>
<rect x="460.1" y="292.79" width="5.30" height="4.56" fill="#e60000"/>
<rect x="465.1" y="292.79" width="5.20" height="4.56" fill="#66bb5e"/>
<rect x="470.0" y="292.79" width="5.20" height="4.56" fill="#e60000"/>
<rect x="474.9" y="292.79" width="5.30" height="4.56" fill="#66bb5e"/>
<rect x="460.1" y="296.85" width="5.30" height="4.56" fill="#e60000"/>
<rect x="465.1" y="296.85" width="5.20" height="4.56" fill="#66bb5e"/>
<rect x="470.0" y="296.85" width="5.20" height="4.56" fill="#e60000"/>
<rect x="474.9" y="296.85" width="5.30" height="4.56" fill="#66bb5e"/>
<rect x="460.1" y="300.92" width="5.30" height="4.56" fill="#e60000"/>
<rect x="465.1" y="300.92" width="5.20" height="4.56" fill="#66bb5e"/>
<rect x="470.0" y="300.92" width="5.20" height="4.56" fill="#e60000"/>
<rect x="474.9" y="300.92" width="5.30" height="4.56" fill="#66bb5e"/>
<rect x="460.1" y="304.98" width="5.30" height="4.56" fill="#e60000"/>
<rect x="465.1" y="304.98" width="5.20" height="4.56" fill="#66bb5e"/>
<rect x="470.0" y="304.98" width="5.20" height="4.56" fill="#e60000"/>
<rect x="474.9" y="304.98" width="5.30" height="4.56" fill="#66bb5e"/>
<rect x="460.1" y="309.05" width="5.30" height="4.56" fill="#e60000"/>
<rect x="465.1" y="309.05" width="5.20" height="4.56" fill="#66bb5e"/>
<rect x="470.0" y="309.05" width="5.20" height="4.56" fill="#e60000"/>
<rect x="474.9" y="309.05" width="5.30" height="4.56" fill="#e60000"/>
<rect x="460.1" y="313.11" width="5.30" height="4.56" fill="#e60000"/>
<rect x="465.1" y="313.11" width="5.20" height="4.56" fill="#66bb5e"/>
<rect x="470.0" y="313.11" width="5.20" height="4.56" fill="#e60000"/>
<rect x="474.9" y="313.11" width="5.30" height="4.56" fill="#66bb5e"/>
<rect x="460.1" y="317.18" width="5.30" height="4.56" fill="#e60000"/>
<rect x="465.1" y="317.18" width="5.20" height="4.56" fill="#66bb5e"/>
<rect x="470.0" y="317.18" width="5.20" height="4.56" fill="#e60000"/>
<rect x="474.9" y="317.18" width="5.30" height="4.56" fill="#66bb5e"/>
<rect x="460.1" y="321.24" width="5.30" height="4.56" fill="#e60000"/>
<rect x="465.1" y="321.24" width="5.20" height="4.56" fill="#e60000"/>
<rect x="470.0" y="321.24" width="5.20" height="4.56" fill="#66bb5e"/>
<rect x="474.9" y="321.24" width="5.30" height="4.56" fill="#66bb5e"/>
<rect x="460.1" y="325.31" width="5.30" height="4.56" fill="#e60000"/>
<rect x="465.1" y="325.31" width="5.20" height="4.56" fill="#66bb5e"/>
<rect x="470.0" y="325.31" width="5.20" height="4.56" fill="#e60000"/>
<rect x="474.9" y="325.31" width="5.30" height="4.56" fill="#66bb5e"/>
<rect x="460.1" y="329.37" width="5.30" height="4.56" fill="#e60000"/>
<rect x="465.1" y="329.37" width="5.20" height="4.56" fill="#66bb5e"/>
<rect x="470.0" y="329.37" width="5.20" height="4.56" fill="#e60000"/>
<rect x="474.9" y="329.37" width="5.30" height="4.56" fill="#66bb5e"/>
<rect x="460.1" y="333.44" width="5.30" height="4.56" fill="#e60000"/>
<rect x="465.1" y="333.44" width="5.20" height="4.56" fill="#66bb5e"/>
<rect x="470.0" y="333.44" width="5.20" height="4.56" fill="#e60000"/>
<rect x="474.9" y="333.44" width="5.30" height="4.56" fill="#66bb5e"/>
<rect x="460.1" y="337.50" width="5.30" height="4.56" fill="#e60000"/>
<rect x="465.1" y="337.50" width="5.20" height="4.56" fill="#66bb5e"/>
<rect x="470.0" y="337.50" width="5.20" height="4.56" fill="#e60000"/>
<rect x="474.9" y="337.50" width="5.30" height="4.56" fill="#e60000"/>
<rect x="460.1" y="341.57" width="5.30" height="4.56" fill="#e60000"/>
<rect x="465.1" y="341.57" width="5.20" height="4.56" fill="#66bb5e"/>
<rect x="470.0" y="341.57" width="5.20" height="4.56" fill="#e60000"/>
<rect x="474.9" y="341.57" width="5.30" height="4.56" fill="#e60000"/>
<rect x="460.1" y="345.63" width="5.30" height="4.56" fill="#e60000"/>
<rect x="465.1" y="345.63" width="5.20" height="4.56" fill="#66bb5e"/>
<rect x="470.0" y="345.63" width="5.20" height="4.56" fill="#e60000"/>
<rect x="474.9" y="345.63" width="5.30" height="4.56" fill="#66bb5e"/>
<rect x="460.1" y="349.70" width="5.30" height="4.56" fill="#66bb5e"/>
<rect x="465.1" y="349.70" width="5.20" height="4.56" fill="#66bb5e"/>
<rect x="470.0" y="349.70" width="5.20" height="4.56" fill="#66bb5e"/>
<rect x="474.9" y="349.70" width="5.30" height="4.56" fill="#66bb5e"/>
<rect x="460.1" y="353.76" width="5.30" height="4.56" fill="#e60000"/>
<rect x="465.1" y="353.76" width="5.20" height="4.56" fill="#e60000"/>
<rect x="470.0" y="353.76" width="5.20" height="4.56" fill="#e60000"/>
<rect x="474.9" y="353.76" width="5.30" height="4.56" fill="#66bb5e"/>
<rect x="460.1" y="357.83" width="5.30" height="4.56" fill="#e60000"/>
<rect x="465.1" y="357.83" width="5.20" height="4.56" fill="#e60000"/>
<rect x="470.0" y="357.83" width="5.20" height="4.56" fill="#66bb5e"/>
<rect x="474.9" y="357.83" width="5.30" height="4.56" fill="#66bb5e"/>
<rect x="460.1" y="361.89" width="5.30" height="4.56" fill="#e60000"/>
<rect x="465.1" y="361.89" width="5.20" height="4.56" fill="#66bb5e"/>
<rect x="470.0" y="361.89" width="5.20" height="4.56" fill="#e60000"/>
<rect x="474.9" y="361.89" width="5.30" height="4.56" fill="#e60000"/>
<rect x="460.1" y="365.96" width="5.30" height="4.56" fill="#e60000"/>
<rect x="465.1" y="365.96" width="5.20" height="4.56" fill="#66bb5e"/>
<rect x="470.0" y="365.96" width="5.20" height="4.56" fill="#e60000"/>
<rect x="474.9" y="365.96" width="5.30" height="4.56" fill="#e60000"/>
<rect x="460.1" y="370.02" width="5.30" height="4.56" fill="#e60000"/>
<rect x="465.1" y="370.02" width="5.20" height="4.56" fill="#66bb5e"/>
<rect x="470.0" y="370.02" width="5.20" height="4.56" fill="#66bb5e"/>
<rect x="474.9" y="370.02" width="5.30" height="4.56" fill="#66bb5e"/>
<rect x="460.1" y="374.09" width="5.30" height="4.56" fill="#e60000"/>
<rect x="465.1" y="374.09" width="5.20" height="4.56" fill="#e60000"/>
<rect x="470.0" y="374.09" width="5.20" height="4.56" fill="#e60000"/>
<rect x="474.9" y="374.09" width="5.30" height="4.56" fill="#66bb5e"/>
<rect x="460.1" y="378.15" width="5.30" height="4.56" fill="#e60000"/>
<rect x="465.1" y="378.15" width="5.20" height="4.56" fill="#66bb5e"/>
<rect x="470.0" y="378.15" width="5.20" height="4.56" fill="#e60000"/>
<rect x="474.9" y="378.15" width="5.30" height="4.56" fill="#66bb5e"/>
<rect x="460.1" y="382.22" width="5.30" height="4.56" fill="#e60000"/>
<rect x="465.1" y="382.22" width="5.20" height="4.56" fill="#66bb5e"/>
<rect x="470.0" y="382.22" width="5.20" height="4.56" fill="#66bb5e"/>
<rect x="474.9" y="382.22" width="5.30" height="4.56" fill="#e60000"/>
<rect x="460.1" y="386.28" width="5.30" height="4.56" fill="#e60000"/>
<rect x="465.1" y="386.28" width="5.20" height="4.56" fill="#66bb5e"/>
<rect x="470.0" y="386.28" width="5.20" height="4.56" fill="#e60000"/>
<rect x="474.9" y="386.28" width="5.30" height="4.56" fill="#e60000"/>
<rect x="460.1" y="390.35" width="5.30" height="4.56" fill="#e60000"/>
<rect x="465.1" y="390.35" width="5.20" height="4.56" fill="#66bb5e"/>
<rect x="470.0" y="390.35" width="5.20" height="4.56" fill="#66bb5e"/>
<rect x="474.9" y="390.35" width="5.30" height="4.56" fill="#66bb5e"/>
<rect x="460.1" y="394.41" width="5.30" height="4.56" fill="#e60000"/>
<rect x="465.1" y="394.41" width="5.20" height="4.56" fill="#66bb5e"/>
<rect x="470.0" y="394.41" width="5.20" height="4.56" fill="#e60000"/>
<rect x="474.9" y="394.41" width="5.30" height="4.56" fill="#66bb5e"/>
<rect x="460.1" y="398.48" width="5.30" height="4.56" fill="#e60000"/>
<rect x="465.1" y="398.48" width="5.20" height="4.56" fill="#66bb5e"/>
<rect x="470.0" y="398.48" width="5.20" height="4.56" fill="#e60000"/>
<rect x="474.9" y="398.48" width="5.30" height="4.56" fill="#66bb5e"/>
<rect x="460.1" y="402.54" width="5.30" height="4.56" fill="#e60000"/>
<rect x="465.1" y="402.54" width="5.20" height="4.56" fill="#e60000"/>
<rect x="470.0" y="402.54" width="5.20" height="4.56" fill="#66bb5e"/>
<rect x="474.9" y="402.54" width="5.30" height="4.56" fill="#66bb5e"/>
<rect x="460.1" y="406.61" width="5.30" height="4.56" fill="#e60000"/>
<rect x="465.1" y="406.61" width="5.20" height="4.56" fill="#66bb5e"/>
<rect x="470.0" y="406.61" width="5.20" height="4.56" fill="#66bb5e"/>
<rect x="474.9" y="406.61" width="5.30" height="4.56" fill="#e60000"/>
<rect x="460.1" y="410.67" width="5.30" height="4.56" fill="#e60000"/>
<rect x="465.1" y="410.67" width="5.20" height="4.56" fill="#e60000"/>
<rect x="470.0" y="410.67" width="5.20" height="4.56" fill="#e60000"/>
<rect x="474.9" y="410.67" width="5.30" height="4.56" fill="#66bb5e"/>
<rect x="460.1" y="414.74" width="5.30" height="4.56" fill="#e60000"/>
<rect x="465.1" y="414.74" width="5.20" height="4.56" fill="#66bb5e"/>
<rect x="470.0" y="414.74" width="5.20" height="4.56" fill="#e60000"/>
<rect x="474.9" y="414.74" width="5.30" height="4.56" fill="#e60000"/>
<rect x="460.1" y="418.80" width="5.30" height="4.56" fill="#e60000"/>
<rect x="465.1" y="418.80" width="5.20" height="4.56" fill="#66bb5e"/>
<rect x="470.0" y="418.80" width="5.20" height="4.56" fill="#e60000"/>
<rect x="474.9" y="418.80" width="5.30" height="4.56" fill="#e60000"/>
<rect x="460.1" y="422.87" width="5.30" height="4.56" fill="#e60000"/>
<rect x="465.1" y="422.87" width="5.20" height="4.56" fill="#66bb5e"/>
<rect x="470.0" y="422.87" width="5.20" height="4.56" fill="#66bb5e"/>
<rect x="474.9" y="422.87" width="5.30" height="4.56" fill="#66bb5e"/>
<text x="451.60" y="441.90" font-size="9.6" text-anchor="start" fill="#111" textLength="45" lengthAdjust="spacingAndGlyphs" >Significance</text>
<g transform="translate(386.50,427.8) rotate(90)">
<text x="0" y="0" font-size="6.6" font-weight="bold" fill="#111" textLength="44.3" lengthAdjust="spacingAndGlyphs">NUC-7738 (IC<tspan font-size="4.2" dy="1.2">50</tspan><tspan dy="-1.2">)</tspan></text>
</g>
<g transform="translate(399.50,427.8) rotate(90)">
<text x="0" y="0" font-size="6.6" font-weight="bold" fill="#111" textLength="43.3" lengthAdjust="spacingAndGlyphs">NUC-7738 (IC<tspan font-size="4.2" dy="1.2">90</tspan><tspan dy="-1.2">)</tspan></text>
</g>
<g transform="translate(411.50,427.8) rotate(90)">
<text x="0" y="0" font-size="6.6" font-weight="bold" fill="#111" textLength="31.4" lengthAdjust="spacingAndGlyphs">3′- dA (IC<tspan font-size="4.2" dy="1.2">50</tspan><tspan dy="-1.2">)</tspan></text>
</g>
<g transform="translate(424.00,427.8) rotate(90)">
<text x="0" y="0" font-size="6.6" font-weight="bold" fill="#111" textLength="31.4" lengthAdjust="spacingAndGlyphs">3′- dA (IC<tspan font-size="4.2" dy="1.2">90</tspan><tspan dy="-1.2">)</tspan></text>
</g>
<rect x="488.2" y="14.10" width="8.7" height="12.31" fill="#7a3c0e"/>
<rect x="488.2" y="26.31" width="8.7" height="12.31" fill="#a65a16"/>
<rect x="488.2" y="38.52" width="8.7" height="12.31" fill="#d08a2c"/>
<rect x="488.2" y="50.73" width="8.7" height="12.31" fill="#ebb872"/>
<rect x="488.2" y="62.94" width="8.7" height="12.31" fill="#f6deb6"/>
<rect x="488.2" y="75.15" width="8.7" height="12.31" fill="#f5f3f5"/>
<rect x="488.2" y="87.35" width="8.7" height="12.31" fill="#d9d9ea"/>
<rect x="488.2" y="99.56" width="8.7" height="12.31" fill="#b3acd3"/>
<rect x="488.2" y="111.77" width="8.7" height="12.31" fill="#8073ac"/>
<rect x="488.2" y="123.98" width="8.7" height="12.31" fill="#4e2a8c"/>
<rect x="488.2" y="136.19" width="8.7" height="12.31" fill="#2a0a58"/>
<text x="500.00" y="23.20" font-size="6.8" text-anchor="start" fill="#111" >3</text>
<text x="500.00" y="40.20" font-size="6.8" text-anchor="start" fill="#111" >2</text>
<text x="500.00" y="55.90" font-size="6.8" text-anchor="start" fill="#111" >1</text>
<text x="500.00" y="72.40" font-size="6.8" text-anchor="start" fill="#111" >0</text>
<text x="500.00" y="89.90" font-size="6.8" text-anchor="start" fill="#111" >−1</text>
<text x="500.00" y="105.80" font-size="6.8" text-anchor="start" fill="#111" >−2</text>
<text x="500.00" y="121.70" font-size="6.8" text-anchor="start" fill="#111" >−3</text>
<text x="500.00" y="138.70" font-size="6.8" text-anchor="start" fill="#111" >−4</text>
<g transform="translate(518.6,82.4) rotate(-90)">
<text x="0.00" y="0.00" font-size="11" text-anchor="middle" fill="#111" textLength="55" lengthAdjust="spacingAndGlyphs" >Fold change</text>
</g>
<path d="M371.60,13.23L371.60,17.29 M371.60,13.23L384.60,13.23 M371.60,17.29L384.60,17.29 M376.00,21.35L376.00,25.41 M376.00,21.35L384.60,21.35 M376.00,25.41L384.60,25.41 M383.40,29.47L383.40,33.53 M383.40,29.47L384.60,29.47 M383.40,33.53L384.60,33.53 M381.36,31.50L381.36,37.59 M381.36,31.50L383.40,31.50 M381.36,37.59L384.60,37.59 M376.00,34.55L376.00,41.65 M376.00,34.55L381.36,34.55 M376.00,41.65L384.60,41.65 M370.30,23.38L370.30,38.10 M370.30,23.38L376.00,23.38 M370.30,38.10L376.00,38.10 M381.06,45.71L381.06,49.77 M381.06,45.71L384.60,45.71 M381.06,49.77L384.60,49.77 M379.51,47.74L379.51,53.83 M379.51,47.74L381.06,47.74 M379.51,53.83L384.60,53.83 M381.88,57.89L381.88,61.95 M381.88,57.89L384.60,57.89 M381.88,61.95L384.60,61.95 M380.37,59.92L380.37,66.01 M380.37,59.92L381.88,59.92 M380.37,66.01L384.60,66.01 M376.30,50.78L376.30,62.96 M376.30,50.78L379.51,50.78 M376.30,62.96L380.37,62.96 M378.80,70.07L378.80,74.13 M378.80,70.07L384.60,70.07 M378.80,74.13L384.60,74.13 M381.32,78.19L381.32,82.25 M381.32,78.19L384.60,78.19 M381.32,82.25L384.60,82.25 M376.30,72.10L376.30,80.22 M376.30,72.10L378.80,72.10 M376.30,80.22L381.32,80.22 M373.00,56.88L373.00,76.16 M373.00,56.88L376.30,56.88 M373.00,76.16L376.30,76.16 M384.33,118.79L384.33,122.85 M384.33,118.79L384.60,118.79 M384.33,122.85L384.60,122.85 M384.14,120.82L384.14,126.91 M384.14,120.82L384.33,120.82 M384.14,126.91L384.60,126.91 M383.32,123.86L383.32,130.97 M383.32,123.86L384.14,123.86 M383.32,130.97L384.60,130.97 M383.85,135.03L383.85,139.09 M383.85,135.03L384.60,135.03 M383.85,139.09L384.60,139.09 M382.56,127.42L382.56,137.06 M382.56,127.42L383.32,127.42 M382.56,137.06L383.85,137.06 M384.05,143.15L384.05,147.21 M384.05,143.15L384.60,143.15 M384.05,147.21L384.60,147.21 M383.28,145.18L383.28,151.27 M383.28,145.18L384.05,145.18 M383.28,151.27L384.60,151.27 M384.10,155.33L384.10,159.39 M384.10,155.33L384.60,155.33 M384.10,159.39L384.60,159.39 M383.47,157.36L383.47,163.45 M383.47,157.36L384.10,157.36 M383.47,163.45L384.60,163.45 M384.00,167.51L384.00,171.57 M384.00,167.51L384.60,167.51 M384.00,171.57L384.60,171.57 M382.93,160.40L382.93,169.54 M382.93,160.40L383.47,160.40 M382.93,169.54L384.00,169.54 M381.74,148.22L381.74,164.97 M381.74,148.22L383.28,148.22 M381.74,164.97L382.93,164.97 M379.00,132.24L379.00,156.60 M379.00,132.24L382.56,132.24 M379.00,156.60L381.74,156.60 M384.09,175.63L384.09,179.69 M384.09,175.63L384.60,175.63 M384.09,179.69L384.60,179.69 M383.61,177.66L383.61,183.75 M383.61,177.66L384.09,177.66 M383.61,183.75L384.60,183.75 M381.92,180.70L381.92,187.81 M381.92,180.70L383.61,180.70 M381.92,187.81L384.60,187.81 M380.36,184.26L380.36,191.87 M380.36,184.26L381.92,184.26 M380.36,191.87L384.60,191.87 M384.40,195.93L384.40,199.99 M384.40,195.93L384.60,195.93 M384.40,199.99L384.60,199.99 M384.20,197.96L384.20,204.05 M384.20,197.96L384.40,197.96 M384.20,204.05L384.60,204.05 M383.99,208.11L383.99,212.17 M383.99,208.11L384.60,208.11 M383.99,212.17L384.60,212.17 M383.55,201.00L383.55,210.14 M383.55,201.00L384.20,201.00 M383.55,210.14L383.99,210.14 M383.69,216.23L383.69,220.29 M383.69,216.23L384.60,216.23 M383.69,220.29L384.60,220.29 M383.02,205.57L383.02,218.26 M383.02,205.57L383.55,205.57 M383.02,218.26L383.69,218.26 M382.75,224.35L382.75,228.41 M382.75,224.35L384.60,224.35 M382.75,228.41L384.60,228.41 M383.64,232.47L383.64,236.53 M383.64,232.47L384.60,232.47 M383.64,236.53L384.60,236.53 M381.89,226.38L381.89,234.50 M381.89,226.38L382.75,226.38 M381.89,234.50L383.64,234.50 M380.65,211.92L380.65,230.44 M380.65,211.92L383.02,211.92 M380.65,230.44L381.89,230.44 M378.40,188.06L378.40,221.18 M378.40,188.06L380.36,188.06 M378.40,221.18L380.65,221.18 M375.70,144.42L375.70,204.62 M375.70,144.42L379.00,144.42 M375.70,204.62L378.40,204.62 M382.77,86.31L382.77,90.37 M382.77,86.31L384.60,86.31 M382.77,90.37L384.60,90.37 M383.13,94.43L383.13,98.49 M383.13,94.43L384.60,94.43 M383.13,98.49L384.60,98.49 M383.38,102.55L383.38,106.61 M383.38,102.55L384.60,102.55 M383.38,106.61L384.60,106.61 M381.29,96.46L381.29,104.58 M381.29,96.46L383.13,96.46 M381.29,104.58L383.38,104.58 M379.79,88.34L379.79,100.52 M379.79,88.34L382.77,88.34 M379.79,100.52L381.29,100.52 M379.68,110.67L379.68,114.73 M379.68,110.67L384.60,110.67 M379.68,114.73L384.60,114.73 M375.70,94.43L375.70,112.70 M375.70,94.43L379.79,94.43 M375.70,112.70L379.68,112.70 M373.00,103.56L373.00,174.52 M373.00,103.56L375.70,103.56 M373.00,174.52L375.70,174.52 M364.20,66.52L364.20,139.04 M364.20,66.52L373.00,66.52 M364.20,139.04L373.00,139.04 M361.50,30.74L361.50,102.78 M361.50,30.74L370.30,30.74 M361.50,102.78L364.20,102.78 M353.50,15.26L353.50,66.76 M353.50,15.26L371.60,15.26 M353.50,66.76L361.50,66.76 M383.77,260.89L383.77,264.95 M383.77,260.89L384.60,260.89 M383.77,264.95L384.60,264.95 M383.61,269.01L383.61,273.07 M383.61,269.01L384.60,269.01 M383.61,273.07L384.60,273.07 M382.74,262.92L382.74,271.04 M382.74,262.92L383.77,262.92 M382.74,271.04L383.61,271.04 M379.40,266.98L379.40,277.13 M379.40,266.98L382.74,266.98 M379.40,277.13L384.60,277.13 M384.30,281.19L384.30,285.25 M384.30,281.19L384.60,281.19 M384.30,285.25L384.60,285.25 M383.89,283.22L383.89,289.31 M383.89,283.22L384.30,283.22 M383.89,289.31L384.60,289.31 M383.78,293.37L383.78,297.43 M383.78,293.37L384.60,293.37 M383.78,297.43L384.60,297.43 M383.38,286.26L383.38,295.40 M383.38,286.26L383.89,286.26 M383.38,295.40L383.78,295.40 M382.98,301.49L382.98,305.55 M382.98,301.49L384.60,301.49 M382.98,305.55L384.60,305.55 M381.24,290.83L381.24,303.52 M381.24,290.83L383.38,290.83 M381.24,303.52L382.98,303.52 M375.00,272.05L375.00,297.18 M375.00,272.05L379.40,272.05 M375.00,297.18L381.24,297.18 M378.52,309.61L378.52,313.67 M378.52,309.61L384.60,309.61 M378.52,313.67L384.60,313.67 M371.20,311.64L371.20,317.73 M371.20,311.64L378.52,311.64 M371.20,317.73L384.60,317.73 M368.50,284.62L368.50,314.68 M368.50,284.62L375.00,284.62 M368.50,314.68L371.20,314.68 M381.81,240.59L381.81,244.65 M381.81,240.59L384.60,240.59 M381.81,244.65L384.60,244.65 M378.99,242.62L378.99,248.71 M378.99,242.62L381.81,242.62 M378.99,248.71L384.60,248.71 M381.13,252.77L381.13,256.83 M381.13,252.77L384.60,252.77 M381.13,256.83L384.60,256.83 M375.20,245.66L375.20,254.80 M375.20,245.66L378.99,245.66 M375.20,254.80L381.13,254.80 M363.80,250.23L363.80,299.65 M363.80,250.23L375.20,250.23 M363.80,299.65L368.50,299.65 M383.12,378.63L383.12,382.69 M383.12,378.63L384.60,378.63 M383.12,382.69L384.60,382.69 M383.22,386.75L383.22,390.81 M383.22,386.75L384.60,386.75 M383.22,390.81L384.60,390.81 M381.48,380.66L381.48,388.78 M381.48,380.66L383.12,380.66 M381.48,388.78L383.22,388.78 M381.82,394.87L381.82,398.93 M381.82,394.87L384.60,394.87 M381.82,398.93L384.60,398.93 M378.00,384.72L378.00,396.90 M378.00,384.72L381.48,384.72 M378.00,396.90L381.82,396.90 M383.04,402.99L383.04,407.05 M383.04,402.99L384.60,402.99 M383.04,407.05L384.60,407.05 M383.97,411.11L383.97,415.17 M383.97,411.11L384.60,411.11 M383.97,415.17L384.60,415.17 M383.17,413.14L383.17,419.23 M383.17,413.14L383.97,413.14 M383.17,419.23L384.60,419.23 M380.76,405.02L380.76,416.18 M380.76,405.02L383.04,405.02 M380.76,416.18L383.17,416.18 M377.20,410.60L377.20,423.29 M377.20,410.60L380.76,410.60 M377.20,423.29L384.60,423.29 M375.20,390.81L375.20,416.95 M375.20,390.81L378.00,390.81 M375.20,416.95L377.20,416.95 M380.40,366.45L380.40,370.51 M380.40,366.45L384.60,366.45 M380.40,370.51L384.60,370.51 M377.00,368.48L377.00,374.57 M377.00,368.48L380.40,368.48 M377.00,374.57L384.60,374.57 M373.20,371.52L373.20,403.88 M373.20,371.52L377.00,371.52 M373.20,403.88L375.20,403.88 M378.20,358.33L378.20,362.39 M378.20,358.33L384.60,358.33 M378.20,362.39L384.60,362.39 M365.40,360.36L365.40,387.70 M365.40,360.36L378.20,360.36 M365.40,387.70L373.20,387.70 M361.00,354.27L361.00,374.03 M361.00,354.27L384.60,354.27 M361.00,374.03L365.40,374.03 M377.40,342.09L377.40,346.15 M377.40,342.09L384.60,342.09 M377.40,346.15L384.60,346.15 M371.40,344.12L371.40,350.21 M371.40,344.12L377.40,344.12 M371.40,350.21L384.60,350.21 M359.00,347.16L359.00,364.15 M359.00,347.16L371.40,347.16 M359.00,364.15L361.00,364.15 M376.01,321.79L376.01,325.85 M376.01,321.79L384.60,321.79 M376.01,325.85L384.60,325.85 M371.99,323.82L371.99,329.91 M371.99,323.82L376.01,323.82 M371.99,329.91L384.60,329.91 M374.76,333.97L374.76,338.03 M374.76,333.97L384.60,333.97 M374.76,338.03L384.60,338.03 M366.20,326.86L366.20,336.00 M366.20,326.86L371.99,326.86 M366.20,336.00L374.76,336.00 M351.60,331.43L351.60,355.66 M351.60,331.43L366.20,331.43 M351.60,355.66L359.00,355.66 M342.00,274.94L342.00,343.55 M342.00,274.94L363.80,274.94 M342.00,343.55L351.60,343.55 M323.40,41.01L323.40,309.24 M323.40,41.01L353.50,41.01 M323.40,309.24L342.00,309.24" fill="none" stroke="#111" stroke-width="0.95" stroke-linecap="square"/>
</g>
<g id="panelE">
<text x="161.00" y="567.40" font-size="8.5" text-anchor="middle" fill="#111" textLength="27.5" lengthAdjust="spacingAndGlyphs" >Control</text>
<text x="224.40" y="558.60" font-size="8.5" text-anchor="middle" fill="#111" textLength="31" lengthAdjust="spacingAndGlyphs" >5 µmol/L</text>
<text x="225.00" y="567.60" font-size="8.5" text-anchor="middle" fill="#111" textLength="40.6" lengthAdjust="spacingAndGlyphs" >NUC-7738</text>
<text x="281.00" y="558.60" font-size="8.5" text-anchor="middle" fill="#111" textLength="33.5" lengthAdjust="spacingAndGlyphs" >25 µmol/L</text>
<text x="283.30" y="567.60" font-size="8.5" text-anchor="middle" fill="#111" textLength="40.5" lengthAdjust="spacingAndGlyphs" >NUC-7738</text>
<clipPath id="c00"><rect x="131.2" y="569.7" width="60.80" height="56.70"/></clipPath>
<g clip-path="url(#c00)">
<rect x="131.2" y="569.7" width="60.80" height="56.70" fill="#d8dadd"/>
<ellipse cx="148.6" cy="574.1" rx="6.3" ry="5.3" fill="#ccc7d4" stroke="#a899bb" stroke-width="0.7" opacity="0.6" filter="url(#bl05)"/>
<ellipse cx="151.9" cy="578.4" rx="6.6" ry="5.6" fill="#ccc7d4" stroke="#a899bb" stroke-width="0.7" opacity="0.6" filter="url(#bl05)"/>
<ellipse cx="168.6" cy="576.3" rx="6.2" ry="5.2" fill="#ccc7d4" stroke="#a899bb" stroke-width="0.7" opacity="0.6" filter="url(#bl05)"/>
<ellipse cx="179.1" cy="574.9" rx="7.2" ry="6.1" fill="#ccc7d4" stroke="#a899bb" stroke-width="0.7" opacity="0.6" filter="url(#bl05)"/>
<ellipse cx="159.1" cy="591.8" rx="7.2" ry="6.1" fill="#ccc7d4" stroke="#a899bb" stroke-width="0.7" opacity="0.6" filter="url(#bl05)"/>
<ellipse cx="175.2" cy="590.9" rx="6.9" ry="5.9" fill="#ccc7d4" stroke="#a899bb" stroke-width="0.7" opacity="0.6" filter="url(#bl05)"/>
<ellipse cx="152.2" cy="604.0" rx="8.2" ry="7.0" fill="#ccc7d4" stroke="#a899bb" stroke-width="0.7" opacity="0.6" filter="url(#bl05)"/>
<ellipse cx="164.8" cy="606.4" rx="6.4" ry="5.5" fill="#ccc7d4" stroke="#a899bb" stroke-width="0.7" opacity="0.6" filter="url(#bl05)"/>
<ellipse cx="177.8" cy="603.3" rx="5.8" ry="4.9" fill="#ccc7d4" stroke="#a899bb" stroke-width="0.7" opacity="0.6" filter="url(#bl05)"/>
<ellipse cx="184.4" cy="608.4" rx="6.5" ry="5.5" fill="#ccc7d4" stroke="#a899bb" stroke-width="0.7" opacity="0.6" filter="url(#bl05)"/>
<ellipse cx="142.2" cy="617.9" rx="7.2" ry="6.1" fill="#ccc7d4" stroke="#a899bb" stroke-width="0.7" opacity="0.6" filter="url(#bl05)"/>
<ellipse cx="154.9" cy="618.5" rx="6.0" ry="5.1" fill="#ccc7d4" stroke="#a899bb" stroke-width="0.7" opacity="0.6" filter="url(#bl05)"/>
<ellipse cx="183.3" cy="620.5" rx="6.0" ry="5.1" fill="#ccc7d4" stroke="#a899bb" stroke-width="0.7" opacity="0.6" filter="url(#bl05)"/>
<ellipse cx="137.3" cy="602.8" rx="3.3" ry="2.8" fill="#ccc7d4" stroke="#a899bb" stroke-width="0.7" opacity="0.6" filter="url(#bl05)"/>
<ellipse cx="145.1" cy="586.1" rx="5.2" ry="4.5" fill="#ccc7d4" stroke="#a899bb" stroke-width="0.7" opacity="0.6" filter="url(#bl05)"/>
<ellipse cx="145.4" cy="575.4" rx="5.8" ry="5.0" fill="#ccc7d4" stroke="#a899bb" stroke-width="0.7" opacity="0.6" filter="url(#bl05)"/>
<ellipse cx="169.8" cy="590.4" rx="6.1" ry="5.2" fill="#ccc7d4" stroke="#a899bb" stroke-width="0.7" opacity="0.6" filter="url(#bl05)"/>
<ellipse cx="143.9" cy="584.8" rx="7.8" ry="6.6" fill="#ccc7d4" stroke="#a899bb" stroke-width="0.7" opacity="0.6" filter="url(#bl05)"/>
<ellipse cx="170.6" cy="604.2" rx="5.5" ry="4.7" fill="#ccc7d4" stroke="#a899bb" stroke-width="0.7" opacity="0.6" filter="url(#bl05)"/>
<ellipse cx="175.5" cy="579.0" rx="6.1" ry="5.2" fill="#ccc7d4" stroke="#a899bb" stroke-width="0.7" opacity="0.6" filter="url(#bl05)"/>
<ellipse cx="191.4" cy="606.0" rx="3.6" ry="2.9" fill="#e2e6e2" opacity="0.6" filter="url(#bl1)"/>
<ellipse cx="172.8" cy="617.5" rx="4.1" ry="3.2" fill="#e2e6e2" opacity="0.6" filter="url(#bl1)"/>
<ellipse cx="145.1" cy="571.5" rx="3.1" ry="2.5" fill="#e2e6e2" opacity="0.6" filter="url(#bl1)"/>
<ellipse cx="147.5" cy="581.7" rx="4.4" ry="3.5" fill="#e2e6e2" opacity="0.6" filter="url(#bl1)"/>
<circle cx="148" cy="576" r="3.2" fill="#a496c0" stroke="#8474a4" stroke-width="0.8" opacity="0.85" filter="url(#bl05)"/>
<circle cx="153" cy="577.5" r="3.0" fill="#a496c0" stroke="#8474a4" stroke-width="0.8" opacity="0.85" filter="url(#bl05)"/>
<circle cx="167" cy="578" r="3.0" fill="#a496c0" stroke="#8474a4" stroke-width="0.8" opacity="0.85" filter="url(#bl05)"/>
<circle cx="181" cy="576" r="3.4" fill="#a496c0" stroke="#8474a4" stroke-width="0.8" opacity="0.85" filter="url(#bl05)"/>
<circle cx="161" cy="593" r="3.3" fill="#a496c0" stroke="#8474a4" stroke-width="0.8" opacity="0.85" filter="url(#bl05)"/>
<circle cx="175" cy="592" r="3.2" fill="#a496c0" stroke="#8474a4" stroke-width="0.8" opacity="0.85" filter="url(#bl05)"/>
<circle cx="151" cy="606" r="3.6" fill="#a496c0" stroke="#8474a4" stroke-width="0.8" opacity="0.85" filter="url(#bl05)"/>
<circle cx="164" cy="607" r="3.4" fill="#a496c0" stroke="#8474a4" stroke-width="0.8" opacity="0.85" filter="url(#bl05)"/>
<circle cx="176" cy="604" r="3.1" fill="#a496c0" stroke="#8474a4" stroke-width="0.8" opacity="0.85" filter="url(#bl05)"/>
<circle cx="186" cy="607" r="3.0" fill="#a496c0" stroke="#8474a4" stroke-width="0.8" opacity="0.85" filter="url(#bl05)"/>
<circle cx="141" cy="617" r="3.4" fill="#a496c0" stroke="#8474a4" stroke-width="0.8" opacity="0.85" filter="url(#bl05)"/>
<circle cx="153" cy="619" r="2.8" fill="#a496c0" stroke="#8474a4" stroke-width="0.8" opacity="0.85" filter="url(#bl05)"/>
<circle cx="182" cy="620" r="2.6" fill="#a496c0" stroke="#8474a4" stroke-width="0.8" opacity="0.85" filter="url(#bl05)"/>
<circle cx="137" cy="602" r="1.8" fill="#a496c0" stroke="#8474a4" stroke-width="0.8" opacity="0.85" filter="url(#bl05)"/>
<circle cx="141" cy="589" r="1.8" fill="#4a4470" opacity="0.85" filter="url(#bl05)"/>
<circle cx="162" cy="605" r="1.7" fill="#4a4470" opacity="0.85" filter="url(#bl05)"/>
<circle cx="174" cy="614" r="1.8" fill="#4a4470" opacity="0.85" filter="url(#bl05)"/>
<circle cx="184" cy="620" r="1.5" fill="#4a4470" opacity="0.85" filter="url(#bl05)"/>
<rect x="183.0" y="621.9" width="6" height="1.0" fill="#e04040" opacity="0.8"/>
<rect x="183.5" y="620.1999999999999" width="5" height="1.0" fill="#e07070" opacity="0.6"/>
</g>
<clipPath id="c10"><rect x="193.6" y="569.7" width="60.00" height="56.70"/></clipPath>
<g clip-path="url(#c10)">
<rect x="193.6" y="569.7" width="60.00" height="56.70" fill="#d2c9d8"/>
<ellipse cx="223.5" cy="581.3" rx="9.4" ry="8.0" fill="#c8bad2" stroke="#a899bb" stroke-width="0.7" opacity="0.6" filter="url(#bl05)"/>
<ellipse cx="213.6" cy="594.7" rx="7.5" ry="6.4" fill="#c8bad2" stroke="#a899bb" stroke-width="0.7" opacity="0.6" filter="url(#bl05)"/>
<ellipse cx="225.1" cy="602.0" rx="9.6" ry="8.2" fill="#c8bad2" stroke="#a899bb" stroke-width="0.7" opacity="0.6" filter="url(#bl05)"/>
<ellipse cx="237.1" cy="601.3" rx="9.4" ry="8.0" fill="#c8bad2" stroke="#a899bb" stroke-width="0.7" opacity="0.6" filter="url(#bl05)"/>
<ellipse cx="200.6" cy="595.9" rx="7.2" ry="6.1" fill="#c8bad2" stroke="#a899bb" stroke-width="0.7" opacity="0.6" filter="url(#bl05)"/>
<ellipse cx="232.0" cy="614.4" rx="7.3" ry="6.2" fill="#c8bad2" stroke="#a899bb" stroke-width="0.7" opacity="0.6" filter="url(#bl05)"/>
<ellipse cx="244.4" cy="619.5" rx="5.7" ry="4.8" fill="#c8bad2" stroke="#a899bb" stroke-width="0.7" opacity="0.6" filter="url(#bl05)"/>
<ellipse cx="199.7" cy="616.3" rx="6.1" ry="5.2" fill="#c8bad2" stroke="#a899bb" stroke-width="0.7" opacity="0.6" filter="url(#bl05)"/>
<ellipse cx="244.0" cy="590.1" rx="6.2" ry="5.3" fill="#c8bad2" stroke="#a899bb" stroke-width="0.7" opacity="0.6" filter="url(#bl05)"/>
<ellipse cx="245.2" cy="570.4" rx="7.2" ry="6.1" fill="#c8bad2" stroke="#a899bb" stroke-width="0.7" opacity="0.6" filter="url(#bl05)"/>
<ellipse cx="234.5" cy="600.1" rx="5.8" ry="4.9" fill="#c8bad2" stroke="#a899bb" stroke-width="0.7" opacity="0.6" filter="url(#bl05)"/>
<ellipse cx="232.1" cy="576.0" rx="6.3" ry="5.4" fill="#c8bad2" stroke="#a899bb" stroke-width="0.7" opacity="0.6" filter="url(#bl05)"/>
<ellipse cx="220.8" cy="623.8" rx="7.6" ry="6.5" fill="#c8bad2" stroke="#a899bb" stroke-width="0.7" opacity="0.6" filter="url(#bl05)"/>
<ellipse cx="209.4" cy="598.1" rx="5.5" ry="4.7" fill="#c8bad2" stroke="#a899bb" stroke-width="0.7" opacity="0.6" filter="url(#bl05)"/>
<ellipse cx="248.4" cy="619.1" rx="5.9" ry="5.0" fill="#c8bad2" stroke="#a899bb" stroke-width="0.7" opacity="0.6" filter="url(#bl05)"/>
<ellipse cx="231.9" cy="604.2" rx="2.8" ry="2.2" fill="#e2e6e2" opacity="0.6" filter="url(#bl1)"/>
<ellipse cx="239.4" cy="600.3" rx="4.1" ry="3.2" fill="#e2e6e2" opacity="0.6" filter="url(#bl1)"/>
<ellipse cx="225.4" cy="569.7" rx="3.1" ry="2.5" fill="#e2e6e2" opacity="0.6" filter="url(#bl1)"/>
<ellipse cx="194.8" cy="622.4" rx="4.3" ry="3.4" fill="#e2e6e2" opacity="0.6" filter="url(#bl1)"/>
<circle cx="222" cy="582" r="4.3" fill="#a496c0" stroke="#8474a4" stroke-width="0.8" opacity="0.85" filter="url(#bl05)"/>
<circle cx="214" cy="593" r="3.6" fill="#a496c0" stroke="#8474a4" stroke-width="0.8" opacity="0.85" filter="url(#bl05)"/>
<circle cx="226" cy="603" r="4.5" fill="#a496c0" stroke="#8474a4" stroke-width="0.8" opacity="0.85" filter="url(#bl05)"/>
<circle cx="238" cy="601" r="4.0" fill="#a496c0" stroke="#8474a4" stroke-width="0.8" opacity="0.85" filter="url(#bl05)"/>
<circle cx="201" cy="597" r="3.0" fill="#a496c0" stroke="#8474a4" stroke-width="0.8" opacity="0.85" filter="url(#bl05)"/>
<circle cx="232" cy="616" r="4.0" fill="#a496c0" stroke="#8474a4" stroke-width="0.8" opacity="0.85" filter="url(#bl05)"/>
<circle cx="246" cy="619" r="2.5" fill="#a496c0" stroke="#8474a4" stroke-width="0.8" opacity="0.85" filter="url(#bl05)"/>
<circle cx="200" cy="618" r="3.0" fill="#a496c0" stroke="#8474a4" stroke-width="0.8" opacity="0.85" filter="url(#bl05)"/>
<circle cx="242" cy="590" r="2.6" fill="#a496c0" stroke="#8474a4" stroke-width="0.8" opacity="0.85" filter="url(#bl05)"/>
<circle cx="211" cy="607" r="1.6" fill="#4a4470" opacity="0.85" filter="url(#bl05)"/>
<circle cx="203" cy="622" r="1.8" fill="#4a4470" opacity="0.85" filter="url(#bl05)"/>
<circle cx="196" cy="597" r="1.5" fill="#4a4470" opacity="0.85" filter="url(#bl05)"/>
<rect x="244.6" y="621.9" width="6" height="1.0" fill="#e04040" opacity="0.8"/>
<rect x="245.1" y="620.1999999999999" width="5" height="1.0" fill="#e07070" opacity="0.6"/>
</g>
<clipPath id="c20"><rect x="255.5" y="569.7" width="59.60" height="56.70"/></clipPath>
<g clip-path="url(#c20)">
<rect x="255.5" y="569.7" width="59.60" height="56.70" fill="#d6d3da"/>
<ellipse cx="269.3" cy="583.2" rx="6.6" ry="5.6" fill="#cbc5d4" stroke="#a899bb" stroke-width="0.7" opacity="0.6" filter="url(#bl05)"/>
<ellipse cx="279.5" cy="589.8" rx="6.5" ry="5.5" fill="#cbc5d4" stroke="#a899bb" stroke-width="0.7" opacity="0.6" filter="url(#bl05)"/>
<ellipse cx="286.9" cy="584.3" rx="7.9" ry="6.7" fill="#cbc5d4" stroke="#a899bb" stroke-width="0.7" opacity="0.6" filter="url(#bl05)"/>
<ellipse cx="267.1" cy="595.5" rx="7.7" ry="6.6" fill="#cbc5d4" stroke="#a899bb" stroke-width="0.7" opacity="0.6" filter="url(#bl05)"/>
<ellipse cx="273.2" cy="604.1" rx="8.4" ry="7.1" fill="#cbc5d4" stroke="#a899bb" stroke-width="0.7" opacity="0.6" filter="url(#bl05)"/>
<ellipse cx="299.7" cy="598.8" rx="8.1" ry="6.9" fill="#cbc5d4" stroke="#a899bb" stroke-width="0.7" opacity="0.6" filter="url(#bl05)"/>
<ellipse cx="304.9" cy="608.8" rx="6.8" ry="5.7" fill="#cbc5d4" stroke="#a899bb" stroke-width="0.7" opacity="0.6" filter="url(#bl05)"/>
<ellipse cx="294.0" cy="620.6" rx="5.8" ry="4.9" fill="#cbc5d4" stroke="#a899bb" stroke-width="0.7" opacity="0.6" filter="url(#bl05)"/>
<ellipse cx="310.1" cy="594.5" rx="4.3" ry="3.6" fill="#cbc5d4" stroke="#a899bb" stroke-width="0.7" opacity="0.6" filter="url(#bl05)"/>
<ellipse cx="275.6" cy="603.1" rx="5.7" ry="4.8" fill="#cbc5d4" stroke="#a899bb" stroke-width="0.7" opacity="0.6" filter="url(#bl05)"/>
<ellipse cx="268.6" cy="573.7" rx="6.9" ry="5.9" fill="#cbc5d4" stroke="#a899bb" stroke-width="0.7" opacity="0.6" filter="url(#bl05)"/>
<ellipse cx="269.1" cy="621.0" rx="7.6" ry="6.4" fill="#cbc5d4" stroke="#a899bb" stroke-width="0.7" opacity="0.6" filter="url(#bl05)"/>
<ellipse cx="259.7" cy="583.2" rx="7.0" ry="6.0" fill="#cbc5d4" stroke="#a899bb" stroke-width="0.7" opacity="0.6" filter="url(#bl05)"/>
<ellipse cx="268.3" cy="577.2" rx="7.8" ry="6.6" fill="#cbc5d4" stroke="#a899bb" stroke-width="0.7" opacity="0.6" filter="url(#bl05)"/>
<ellipse cx="289.5" cy="596.5" rx="7.4" ry="6.3" fill="#cbc5d4" stroke="#a899bb" stroke-width="0.7" opacity="0.6" filter="url(#bl05)"/>
<ellipse cx="303.6" cy="580.5" rx="2.7" ry="2.2" fill="#e2e6e2" opacity="0.6" filter="url(#bl1)"/>
<ellipse cx="281.2" cy="593.7" rx="3.4" ry="2.7" fill="#e2e6e2" opacity="0.6" filter="url(#bl1)"/>
<ellipse cx="299.0" cy="607.9" rx="4.5" ry="3.6" fill="#e2e6e2" opacity="0.6" filter="url(#bl1)"/>
<ellipse cx="261.4" cy="592.5" rx="3.2" ry="2.5" fill="#e2e6e2" opacity="0.6" filter="url(#bl1)"/>
<circle cx="268" cy="584" r="3.6" fill="#a496c0" stroke="#8474a4" stroke-width="0.8" opacity="0.85" filter="url(#bl05)"/>
<circle cx="278" cy="588" r="3.5" fill="#a496c0" stroke="#8474a4" stroke-width="0.8" opacity="0.85" filter="url(#bl05)"/>
<circle cx="287" cy="586" r="3.5" fill="#a496c0" stroke="#8474a4" stroke-width="0.8" opacity="0.85" filter="url(#bl05)"/>
<circle cx="266" cy="597" r="3.7" fill="#a496c0" stroke="#8474a4" stroke-width="0.8" opacity="0.85" filter="url(#bl05)"/>
<circle cx="273" cy="605" r="3.6" fill="#a496c0" stroke="#8474a4" stroke-width="0.8" opacity="0.85" filter="url(#bl05)"/>
<circle cx="300" cy="600" r="3.8" fill="#a496c0" stroke="#8474a4" stroke-width="0.8" opacity="0.85" filter="url(#bl05)"/>
<circle cx="304" cy="610" r="3.4" fill="#a496c0" stroke="#8474a4" stroke-width="0.8" opacity="0.85" filter="url(#bl05)"/>
<circle cx="292" cy="620" r="2.8" fill="#a496c0" stroke="#8474a4" stroke-width="0.8" opacity="0.85" filter="url(#bl05)"/>
<circle cx="310" cy="596" r="2.2" fill="#a496c0" stroke="#8474a4" stroke-width="0.8" opacity="0.85" filter="url(#bl05)"/>
<circle cx="263" cy="617" r="1.3" fill="#4a4470" opacity="0.85" filter="url(#bl05)"/>
<circle cx="293" cy="620" r="1.3" fill="#4a4470" opacity="0.85" filter="url(#bl05)"/>
<rect x="306.1" y="621.9" width="6" height="1.0" fill="#e04040" opacity="0.8"/>
<rect x="306.6" y="620.1999999999999" width="5" height="1.0" fill="#e07070" opacity="0.6"/>
</g>
<clipPath id="c01"><rect x="131.2" y="627.9" width="60.80" height="56.40"/></clipPath>
<g clip-path="url(#c01)">
<rect x="131.2" y="627.9" width="60.80" height="56.40" fill="#2e0a1c"/>
<circle cx="140.5" cy="661.9" r="6.90" fill="#a0102a" opacity="0.73" filter="url(#bl3)"/>
<circle cx="158.9" cy="640.4" r="6.90" fill="#a0102a" opacity="0.53" filter="url(#bl3)"/>
<circle cx="172.5" cy="642.2" r="6.90" fill="#a0102a" opacity="0.58" filter="url(#bl3)"/>
<circle cx="150" cy="650" r="8.05" fill="#a0102a" opacity="0.32" filter="url(#bl3)"/>
<circle cx="166" cy="663" r="6.90" fill="#a0102a" opacity="0.37" filter="url(#bl3)"/>
<circle cx="185" cy="660" r="6.90" fill="#a0102a" opacity="0.42" filter="url(#bl3)"/>
<circle cx="150" cy="680" r="6.90" fill="#a0102a" opacity="0.32" filter="url(#bl3)"/>
<circle cx="135" cy="650" r="5.75" fill="#a0102a" opacity="0.42" filter="url(#bl3)"/>
<circle cx="138.6" cy="643.5" r="4.50" fill="#4a2ee0" opacity="0.72" filter="url(#bl2)"/>
<circle cx="158.9" cy="640.4" r="4.00" fill="#4a2ee0" opacity="0.58" filter="url(#bl2)"/>
<circle cx="172.5" cy="642.2" r="4.00" fill="#4a2ee0" opacity="0.50" filter="url(#bl2)"/>
<circle cx="179.8" cy="651.5" r="4.00" fill="#4a2ee0" opacity="0.65" filter="url(#bl2)"/>
<circle cx="161.4" cy="657.6" r="4.00" fill="#4a2ee0" opacity="0.65" filter="url(#bl2)"/>
<circle cx="140.5" cy="661.9" r="4.50" fill="#4a2ee0" opacity="0.43" filter="url(#bl2)"/>
<circle cx="176.2" cy="668" r="4.00" fill="#4a2ee0" opacity="0.65" filter="url(#bl2)"/>
<circle cx="163.2" cy="671.8" r="4.00" fill="#4a2ee0" opacity="0.65" filter="url(#bl2)"/>
<circle cx="136.8" cy="676.7" r="4.00" fill="#4a2ee0" opacity="0.43" filter="url(#bl2)"/>
<circle cx="147.2" cy="674.8" r="3.50" fill="#4a2ee0" opacity="0.29" filter="url(#bl2)"/>
<circle cx="180.5" cy="636" r="3.50" fill="#4a2ee0" opacity="0.29" filter="url(#bl2)"/>
<rect x="182.5" y="680.0999999999999" width="7.5" height="1.5" fill="none" stroke="#ddd" stroke-width="0.5"/>
<rect x="184.0" y="678.0" width="4.5" height="1" fill="#ccc" opacity="0.7"/>
</g>
<clipPath id="c11"><rect x="193.6" y="627.9" width="60.00" height="56.40"/></clipPath>
<g clip-path="url(#c11)">
<rect x="193.6" y="627.9" width="60.00" height="56.40" fill="#240a2a"/>
<circle cx="199.4" cy="646" r="6.90" fill="#a0102a" opacity="0.58" filter="url(#bl3)"/>
<circle cx="220.3" cy="674.2" r="6.90" fill="#a0102a" opacity="0.63" filter="url(#bl3)"/>
<circle cx="227.7" cy="665.6" r="5.75" fill="#a0102a" opacity="0.58" filter="url(#bl3)"/>
<circle cx="244.9" cy="657" r="5.75" fill="#a0102a" opacity="0.53" filter="url(#bl3)"/>
<circle cx="210" cy="660" r="6.90" fill="#a0102a" opacity="0.42" filter="url(#bl3)"/>
<circle cx="238" cy="675" r="5.75" fill="#a0102a" opacity="0.47" filter="url(#bl3)"/>
<circle cx="205" cy="632" r="5.75" fill="#a0102a" opacity="0.37" filter="url(#bl3)"/>
<circle cx="230" cy="640" r="5.75" fill="#a0102a" opacity="0.37" filter="url(#bl3)"/>
<circle cx="248" cy="645" r="4.60" fill="#a0102a" opacity="0.37" filter="url(#bl3)"/>
<circle cx="201.8" cy="632.4" r="4.50" fill="#4a2ee0" opacity="0.40" filter="url(#bl2)"/>
<circle cx="210.5" cy="641" r="4.50" fill="#4a2ee0" opacity="0.43" filter="url(#bl2)"/>
<circle cx="221.5" cy="648.4" r="4.50" fill="#4a2ee0" opacity="0.40" filter="url(#bl2)"/>
<circle cx="199.4" cy="657" r="5.00" fill="#4a2ee0" opacity="0.43" filter="url(#bl2)"/>
<circle cx="222.8" cy="658.2" r="4.50" fill="#4a2ee0" opacity="0.40" filter="url(#bl2)"/>
<circle cx="214.2" cy="671.8" r="4.50" fill="#4a2ee0" opacity="0.47" filter="url(#bl2)"/>
<circle cx="227.7" cy="677.9" r="4.00" fill="#4a2ee0" opacity="0.68" filter="url(#bl2)"/>
<circle cx="249.2" cy="660.7" r="4.00" fill="#4a2ee0" opacity="0.61" filter="url(#bl2)"/>
<circle cx="244.9" cy="633.6" r="4.50" fill="#4a2ee0" opacity="0.40" filter="url(#bl2)"/>
<circle cx="236.3" cy="642.2" r="4.00" fill="#4a2ee0" opacity="0.36" filter="url(#bl2)"/>
<circle cx="233.8" cy="666.8" r="4.00" fill="#4a2ee0" opacity="0.32" filter="url(#bl2)"/>
<circle cx="203" cy="675" r="4.00" fill="#4a2ee0" opacity="0.29" filter="url(#bl2)"/>
<rect x="244.1" y="680.0999999999999" width="7.5" height="1.5" fill="none" stroke="#ddd" stroke-width="0.5"/>
<rect x="245.6" y="678.0" width="4.5" height="1" fill="#ccc" opacity="0.7"/>
</g>
<clipPath id="c21"><rect x="255.5" y="627.9" width="59.60" height="56.40"/></clipPath>
<g clip-path="url(#c21)">
<rect x="255.5" y="627.9" width="59.60" height="56.40" fill="#2a0a1c"/>
<circle cx="281" cy="659.5" r="7.47" fill="#a0102a" opacity="0.95" filter="url(#bl3)"/>
<circle cx="261.4" cy="634.8" r="6.90" fill="#a0102a" opacity="0.63" filter="url(#bl3)"/>
<circle cx="305.7" cy="643.5" r="6.90" fill="#a0102a" opacity="0.68" filter="url(#bl3)"/>
<circle cx="265" cy="665.6" r="6.90" fill="#a0102a" opacity="0.58" filter="url(#bl3)"/>
<circle cx="290.9" cy="649.6" r="6.90" fill="#a0102a" opacity="0.53" filter="url(#bl3)"/>
<circle cx="308.2" cy="668" r="6.90" fill="#a0102a" opacity="0.63" filter="url(#bl3)"/>
<circle cx="275" cy="640" r="5.75" fill="#a0102a" opacity="0.42" filter="url(#bl3)"/>
<circle cx="295" cy="678" r="5.75" fill="#a0102a" opacity="0.53" filter="url(#bl3)"/>
<circle cx="260" cy="650" r="4.60" fill="#a0102a" opacity="0.42" filter="url(#bl3)"/>
<circle cx="276.2" cy="633.6" r="4.50" fill="#4a2ee0" opacity="0.43" filter="url(#bl2)"/>
<circle cx="286" cy="642.2" r="4.00" fill="#4a2ee0" opacity="0.43" filter="url(#bl2)"/>
<circle cx="270" cy="653.3" r="4.00" fill="#4a2ee0" opacity="0.40" filter="url(#bl2)"/>
<circle cx="295.8" cy="660.7" r="4.00" fill="#4a2ee0" opacity="0.58" filter="url(#bl2)"/>
<circle cx="300.8" cy="674.2" r="3.50" fill="#4a2ee0" opacity="0.61" filter="url(#bl2)"/>
<circle cx="262.6" cy="676.7" r="4.00" fill="#4a2ee0" opacity="0.43" filter="url(#bl2)"/>
<circle cx="308.2" cy="634.8" r="3.50" fill="#4a2ee0" opacity="0.32" filter="url(#bl2)"/>
<circle cx="258.9" cy="642.2" r="3.50" fill="#4a2ee0" opacity="0.29" filter="url(#bl2)"/>
<rect x="305.6" y="680.0999999999999" width="7.5" height="1.5" fill="none" stroke="#ddd" stroke-width="0.5"/>
<rect x="307.1" y="678.0" width="4.5" height="1" fill="#ccc" opacity="0.7"/>
</g>
<clipPath id="c02"><rect x="131.2" y="686.2" width="60.80" height="56.80"/></clipPath>
<g clip-path="url(#c02)">
<rect x="131.2" y="686.2" width="60.80" height="56.80" fill="#060614"/>
<circle cx="143.9" cy="701.1" r="3.85" fill="#3848c8" opacity="0.8" filter="url(#bl15)"/>
<circle cx="155.3" cy="702.4" r="3.85" fill="#3848c8" opacity="0.8" filter="url(#bl15)"/>
<circle cx="176.9" cy="699.9" r="3.85" fill="#3848c8" opacity="0.6" filter="url(#bl15)"/>
<circle cx="164.2" cy="698" r="3.30" fill="#3848c8" opacity="0.5" filter="url(#bl15)"/>
<circle cx="171.1" cy="707.5" r="3.85" fill="#3848c8" opacity="0.45" filter="url(#bl15)"/>
<circle cx="175" cy="718.3" r="3.85" fill="#3848c8" opacity="0.45" filter="url(#bl15)"/>
<circle cx="140.7" cy="718.9" r="3.85" fill="#3848c8" opacity="0.45" filter="url(#bl15)"/>
<circle cx="158.5" cy="723.3" r="3.85" fill="#3848c8" opacity="0.5" filter="url(#bl15)"/>
<circle cx="143.9" cy="732.2" r="3.85" fill="#3848c8" opacity="0.4" filter="url(#bl15)"/>
<circle cx="162.3" cy="737.3" r="3.30" fill="#3848c8" opacity="0.45" filter="url(#bl15)"/>
<circle cx="173" cy="732.9" r="3.30" fill="#3848c8" opacity="0.35" filter="url(#bl15)"/>
<circle cx="190.2" cy="701.8" r="2.75" fill="#3848c8" opacity="0.5" filter="url(#bl15)"/>
<circle cx="147" cy="691" r="3.30" fill="#3848c8" opacity="0.35" filter="url(#bl15)"/>
<circle cx="169.9" cy="689.7" r="3.30" fill="#3848c8" opacity="0.35" filter="url(#bl15)"/>
<circle cx="144.0" cy="711.9" r="3.52" fill="#3848c8" opacity="0.36" filter="url(#bl15)"/>
<circle cx="185.6" cy="711.6" r="3.52" fill="#3848c8" opacity="0.47" filter="url(#bl15)"/>
<circle cx="190.0" cy="732.3" r="3.52" fill="#3848c8" opacity="0.49" filter="url(#bl15)"/>
<circle cx="136.5" cy="708.2" r="3.52" fill="#3848c8" opacity="0.5" filter="url(#bl15)"/>
<circle cx="159.0" cy="710.5" r="3.52" fill="#3848c8" opacity="0.49" filter="url(#bl15)"/>
<circle cx="189.7" cy="717.5" r="3.52" fill="#3848c8" opacity="0.43" filter="url(#bl15)"/>
<circle cx="164.0" cy="727.7" r="3.52" fill="#3848c8" opacity="0.26" filter="url(#bl15)"/>
<circle cx="166.4" cy="714.8" r="3.52" fill="#3848c8" opacity="0.46" filter="url(#bl15)"/>
<circle cx="142.1" cy="738.9" r="3.52" fill="#3848c8" opacity="0.27" filter="url(#bl15)"/>
<circle cx="147.2" cy="719.6" r="3.52" fill="#3848c8" opacity="0.4" filter="url(#bl15)"/>
<circle cx="144.8" cy="726.0" r="3.52" fill="#3848c8" opacity="0.31" filter="url(#bl15)"/>
<circle cx="175.9" cy="692.0" r="3.52" fill="#3848c8" opacity="0.36" filter="url(#bl15)"/>
<circle cx="189.9" cy="740.8" r="3.52" fill="#3848c8" opacity="0.27" filter="url(#bl15)"/>
<circle cx="133.6" cy="731.3" r="3.52" fill="#3848c8" opacity="0.32" filter="url(#bl15)"/>
<circle cx="148.9" cy="710.7" r="4" fill="#cc44f0" opacity="0.23" filter="url(#bl15)"/>
<rect x="182.5" y="738.7" width="7.5" height="1.4" fill="none" stroke="#ccc" stroke-width="0.5"/>
</g>
<clipPath id="c12"><rect x="193.6" y="686.2" width="60.00" height="56.80"/></clipPath>
<g clip-path="url(#c12)">
<rect x="193.6" y="686.2" width="60.00" height="56.80" fill="#060614"/>
<circle cx="235" cy="690.2" r="3.85" fill="#3848c8" opacity="0.75" filter="url(#bl15)"/>
<circle cx="223.4" cy="697" r="3.85" fill="#3848c8" opacity="0.7" filter="url(#bl15)"/>
<circle cx="221.5" cy="712.3" r="3.85" fill="#3848c8" opacity="0.8" filter="url(#bl15)"/>
<circle cx="236.3" cy="708" r="3.85" fill="#3848c8" opacity="0.7" filter="url(#bl15)"/>
<circle cx="249.2" cy="709.2" r="3.85" fill="#3848c8" opacity="0.7" filter="url(#bl15)"/>
<circle cx="248" cy="693.8" r="3.85" fill="#3848c8" opacity="0.5" filter="url(#bl15)"/>
<circle cx="208" cy="726.5" r="3.85" fill="#3848c8" opacity="0.7" filter="url(#bl15)"/>
<circle cx="202.5" cy="736.3" r="3.85" fill="#3848c8" opacity="0.6" filter="url(#bl15)"/>
<circle cx="226.5" cy="733.8" r="3.85" fill="#3848c8" opacity="0.7" filter="url(#bl15)"/>
<circle cx="249.8" cy="717.2" r="3.30" fill="#3848c8" opacity="0.6" filter="url(#bl15)"/>
<circle cx="197" cy="728.3" r="3.30" fill="#3848c8" opacity="0.5" filter="url(#bl15)"/>
<circle cx="214" cy="713" r="3.30" fill="#3848c8" opacity="0.5" filter="url(#bl15)"/>
<circle cx="203.7" cy="720.9" r="3.30" fill="#3848c8" opacity="0.4" filter="url(#bl15)"/>
<circle cx="241.2" cy="728.3" r="3.30" fill="#3848c8" opacity="0.45" filter="url(#bl15)"/>
<circle cx="232.7" cy="737.8" r="3.52" fill="#3848c8" opacity="0.28" filter="url(#bl15)"/>
<circle cx="202.1" cy="693.9" r="3.52" fill="#3848c8" opacity="0.39" filter="url(#bl15)"/>
<circle cx="210.9" cy="720.1" r="3.52" fill="#3848c8" opacity="0.43" filter="url(#bl15)"/>
<circle cx="246.3" cy="732.9" r="3.52" fill="#3848c8" opacity="0.27" filter="url(#bl15)"/>
<circle cx="219.3" cy="702.8" r="3.52" fill="#3848c8" opacity="0.25" filter="url(#bl15)"/>
<circle cx="238.8" cy="721.8" r="3.52" fill="#3848c8" opacity="0.32" filter="url(#bl15)"/>
<circle cx="219.6" cy="688.7" r="3.52" fill="#3848c8" opacity="0.27" filter="url(#bl15)"/>
<circle cx="202.7" cy="704.5" r="3.52" fill="#3848c8" opacity="0.47" filter="url(#bl15)"/>
<circle cx="209.6" cy="693.6" r="3.52" fill="#3848c8" opacity="0.45" filter="url(#bl15)"/>
<circle cx="230.4" cy="696.4" r="3.52" fill="#3848c8" opacity="0.48" filter="url(#bl15)"/>
<circle cx="229.5" cy="701.8" r="4.2" fill="#cc44f0" opacity="0.90" filter="url(#bl15)"/>
<circle cx="230.8" cy="714.2" r="3.2" fill="#cc44f0" opacity="0.81" filter="url(#bl15)"/>
<circle cx="219.7" cy="719.7" r="4" fill="#cc44f0" opacity="0.90" filter="url(#bl15)"/>
<circle cx="226" cy="722" r="3" fill="#cc44f0" opacity="0.36" filter="url(#bl15)"/>
<rect x="244.1" y="738.7" width="7.5" height="1.4" fill="none" stroke="#ccc" stroke-width="0.5"/>
</g>
<clipPath id="c22"><rect x="255.5" y="686.2" width="59.60" height="56.80"/></clipPath>
<g clip-path="url(#c22)">
<rect x="255.5" y="686.2" width="59.60" height="56.80" fill="#060614"/>
<circle cx="279.8" cy="690.2" r="3.85" fill="#3848c8" opacity="0.45" filter="url(#bl15)"/>
<circle cx="293.4" cy="696.3" r="3.30" fill="#3848c8" opacity="0.5" filter="url(#bl15)"/>
<circle cx="299.5" cy="708.6" r="3.85" fill="#3848c8" opacity="0.55" filter="url(#bl15)"/>
<circle cx="267.5" cy="738" r="3.30" fill="#3848c8" opacity="0.4" filter="url(#bl15)"/>
<circle cx="270" cy="707.4" r="3.85" fill="#3848c8" opacity="0.45" filter="url(#bl15)"/>
<circle cx="305" cy="725" r="3.30" fill="#3848c8" opacity="0.35" filter="url(#bl15)"/>
<circle cx="262" cy="720" r="3.30" fill="#3848c8" opacity="0.3" filter="url(#bl15)"/>
<circle cx="305.6" cy="739.7" r="3.52" fill="#3848c8" opacity="0.45" filter="url(#bl15)"/>
<circle cx="306.5" cy="689.5" r="3.52" fill="#3848c8" opacity="0.43" filter="url(#bl15)"/>
<circle cx="276.0" cy="737.3" r="3.52" fill="#3848c8" opacity="0.45" filter="url(#bl15)"/>
<circle cx="305.5" cy="731.0" r="3.52" fill="#3848c8" opacity="0.32" filter="url(#bl15)"/>
<circle cx="301.3" cy="693.9" r="3.52" fill="#3848c8" opacity="0.47" filter="url(#bl15)"/>
<circle cx="305.2" cy="699.9" r="3.52" fill="#3848c8" opacity="0.45" filter="url(#bl15)"/>
<circle cx="283.1" cy="704.3" r="3.52" fill="#3848c8" opacity="0.45" filter="url(#bl15)"/>
<circle cx="270.2" cy="689.4" r="3.52" fill="#3848c8" opacity="0.3" filter="url(#bl15)"/>
<circle cx="280.5" cy="705.5" r="3.2" fill="#cc44f0" opacity="0.77" filter="url(#bl15)"/>
<circle cx="273.7" cy="713.5" r="3.5" fill="#cc44f0" opacity="0.81" filter="url(#bl15)"/>
<circle cx="271.8" cy="717.2" r="3" fill="#cc44f0" opacity="0.63" filter="url(#bl15)"/>
<circle cx="290.9" cy="714.8" r="3.8" fill="#cc44f0" opacity="0.81" filter="url(#bl15)"/>
<circle cx="299.5" cy="693.8" r="3" fill="#cc44f0" opacity="0.72" filter="url(#bl15)"/>
<circle cx="287.2" cy="733.8" r="3.2" fill="#cc44f0" opacity="0.63" filter="url(#bl15)"/>
<circle cx="302.6" cy="721" r="2.5" fill="#cc44f0" opacity="0.36" filter="url(#bl15)"/>
<rect x="305.6" y="738.7" width="7.5" height="1.4" fill="none" stroke="#ccc" stroke-width="0.5"/>
</g>
<text x="323.30" y="610.60" font-size="9.2" text-anchor="start" font-weight="bold" fill="#111" textLength="51" lengthAdjust="spacingAndGlyphs" stroke="#111" stroke-width="0.2">H&amp;E staining</text>
<rect x="322.3" y="650.8" width="5.4" height="5.3" fill="#e01010"/>
<text x="332.70" y="656.70" font-size="8.9" text-anchor="start" font-weight="bold" fill="#111" textLength="43.7" lengthAdjust="spacingAndGlyphs" stroke="#111" stroke-width="0.2">NF-κB p65</text>
<rect x="322.3" y="668.0" width="5.4" height="5.5" fill="#1515e0"/>
<text x="333.10" y="673.40" font-size="8.9" text-anchor="start" font-weight="bold" fill="#111" textLength="34.7" lengthAdjust="spacingAndGlyphs" stroke="#111" stroke-width="0.2">Hoechst</text>
<rect x="322.3" y="708.0" width="5.4" height="5.5" fill="#d020e0"/>
<text x="333.50" y="713.30" font-size="8.9" text-anchor="start" font-weight="bold" fill="#111" textLength="78.4" lengthAdjust="spacingAndGlyphs" stroke="#111" stroke-width="0.2">Cleaved caspase-3</text>
<rect x="323.5" y="724.6" width="5.4" height="6" fill="#1515d0"/>
<text x="334.60" y="729.70" font-size="8.9" text-anchor="start" font-weight="bold" fill="#111" textLength="34.7" lengthAdjust="spacingAndGlyphs" stroke="#111" stroke-width="0.2">Hoechst</text>
</g>
</svg>
</body></html>
